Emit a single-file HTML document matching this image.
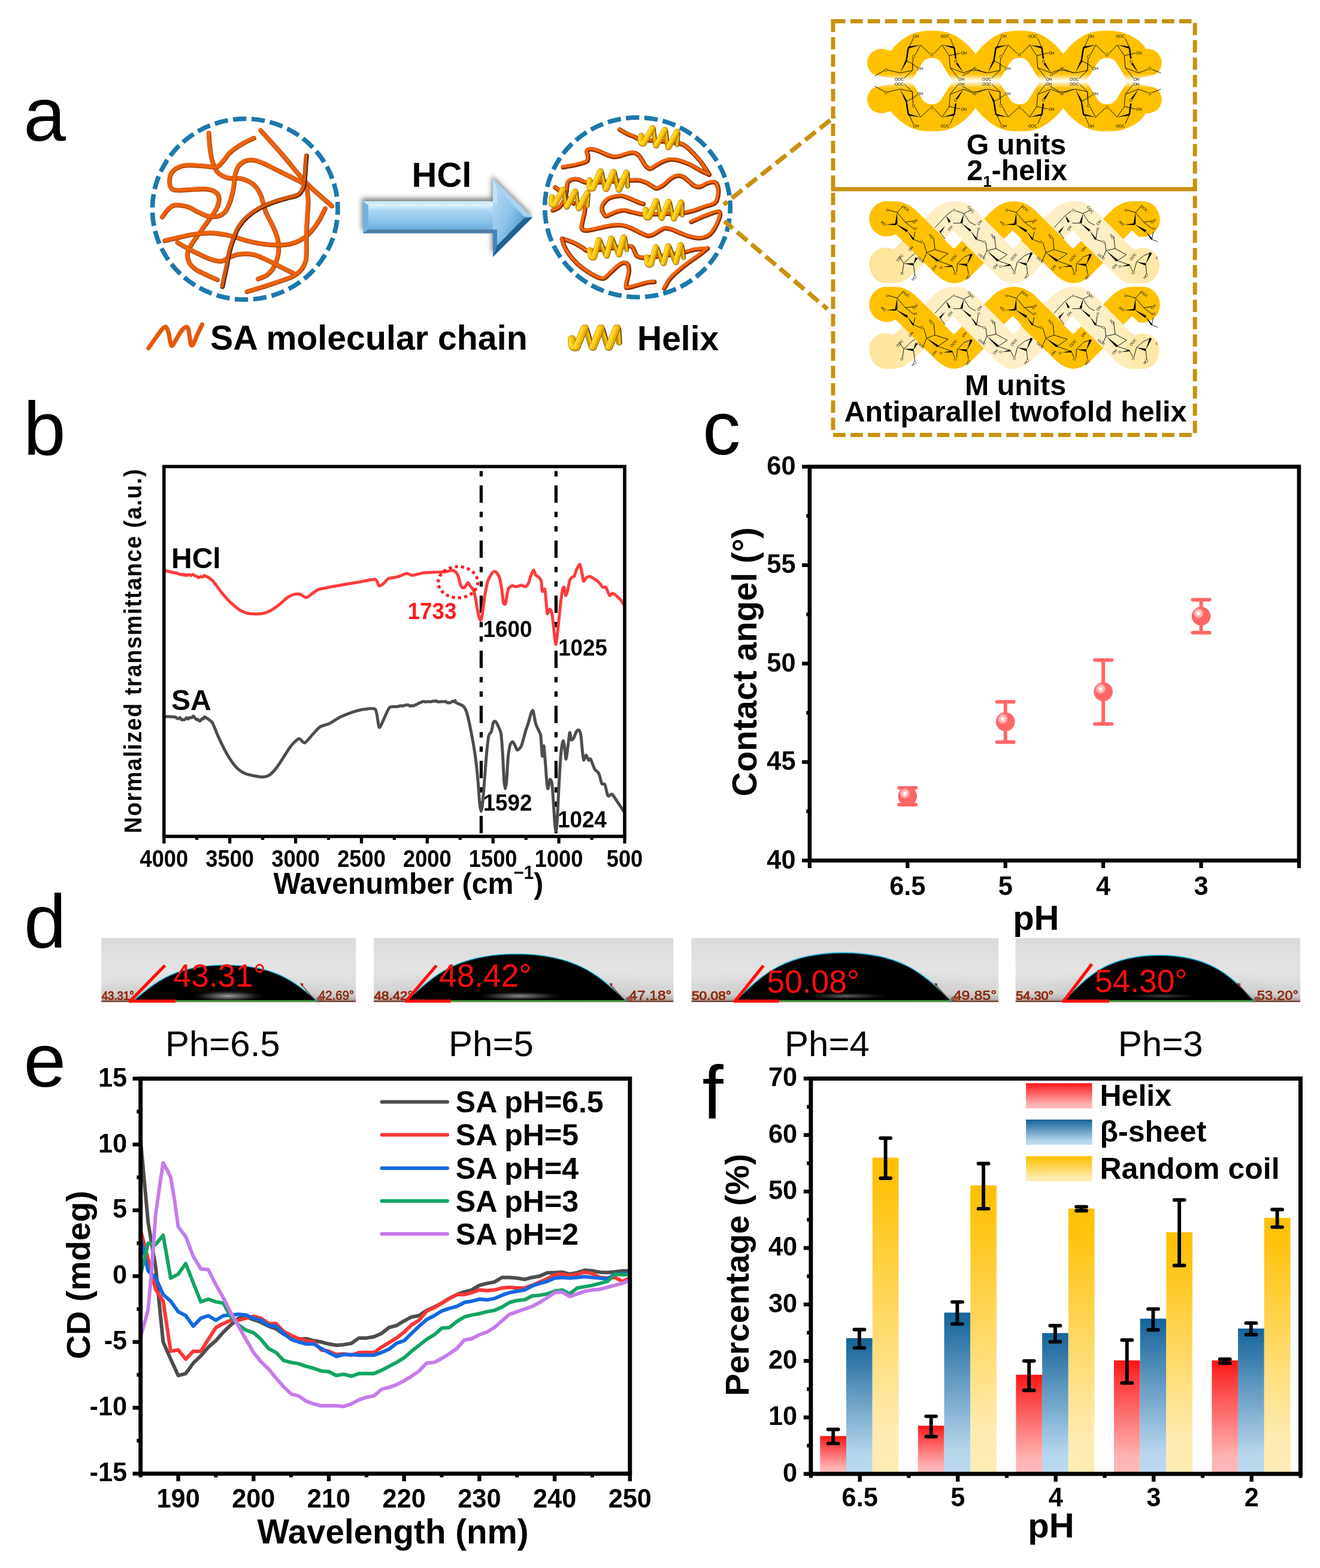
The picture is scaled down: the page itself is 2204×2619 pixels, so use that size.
<!DOCTYPE html>
<html lang="en"><head><meta charset="utf-8"><title>Figure</title>
<style>
html,body{margin:0;padding:0;background:#fff;}
body{width:2204px;height:2619px;overflow:hidden;}
svg{display:block;font-family:"Liberation Sans",sans-serif;}
</style></head><body>
<svg width="2204" height="2619" viewBox="0 0 2204 2619">
<rect width="2204" height="2619" fill="#fff"/>
<g id="panel-a"><text x="39.3" y="235.4" font-size="127" font-weight="normal" text-anchor="start" fill="#000" >a</text><ellipse cx="409.2" cy="349.4" rx="154.8" ry="151" fill="none" stroke="#1C78AC" stroke-width="7.6" stroke-dasharray="22.4 8.6" stroke-dashoffset="-18"/><path d="M348.8,222.3 C349,225.8 349.3,235.7 350.2,243.5 C351.2,251.3 352.1,261.5 354.5,269 C356.8,276.6 359.9,284.2 364.4,288.9 C368.9,293.6 374.8,295.7 381.4,297.4 C388,299 397,296.9 404.1,298.8 C411.2,300.7 418.7,304.2 423.9,308.7 C429.1,313.2 432,318.2 435.3,325.7 C438.6,333.3 440.5,345.6 443.8,354.1 C447.1,362.6 451.8,369.2 455.1,376.8 C458.4,384.3 462,391.9 463.6,399.4 C465.3,407 466,414.6 465,422.1 C464.1,429.7 461,438.6 457.9,444.8 C454.9,450.9 451.1,455.4 446.6,459 C442.1,462.5 433.6,464.9 431,466" fill="none" stroke="#A84408" stroke-width="7.8" stroke-linecap="round" stroke-linejoin="round"/><path d="M348.8,222.3 C349,225.8 349.3,235.7 350.2,243.5 C351.2,251.3 352.1,261.5 354.5,269 C356.8,276.6 359.9,284.2 364.4,288.9 C368.9,293.6 374.8,295.7 381.4,297.4 C388,299 397,296.9 404.1,298.8 C411.2,300.7 418.7,304.2 423.9,308.7 C429.1,313.2 432,318.2 435.3,325.7 C438.6,333.3 440.5,345.6 443.8,354.1 C447.1,362.6 451.8,369.2 455.1,376.8 C458.4,384.3 462,391.9 463.6,399.4 C465.3,407 466,414.6 465,422.1 C464.1,429.7 461,438.6 457.9,444.8 C454.9,450.9 451.1,455.4 446.6,459 C442.1,462.5 433.6,464.9 431,466" fill="none" stroke="#EC620C" stroke-width="6.2" stroke-linecap="round" stroke-linejoin="round" transform="translate(-0.5,-0.6)"/><path d="M423.9,230.8 C420.6,232.4 410.7,236.7 404.1,240.7 C397.5,244.7 389.4,250.2 384.2,254.9 C379,259.6 376.7,265 372.9,269 C369.1,273.1 366.8,277.6 361.6,279 C356.4,280.4 349.8,278 341.7,277.6 C333.7,277.1 320.9,275.7 313.4,276.1 C305.8,276.6 301.1,277.8 296.4,280.4 C291.6,283 287.2,287 285,291.7 C282.9,296.4 282.7,304.5 283.6,308.7 C284.6,313 285.7,315.8 290.7,317.2 C295.7,318.7 304.9,317.5 313.4,317.2 C321.9,317 334.2,315.3 341.7,315.8 C349.3,316.3 354.7,317.5 358.7,320.1 C362.7,322.7 365.3,326.7 365.8,331.4 C366.3,336.1 364.2,342.7 361.6,348.4 C359,354.1 354.5,359.3 350.2,365.4 C346,371.6 340.8,378.6 336.1,385.3 C331.3,391.9 325.7,399 321.9,405.1 C318.1,411.2 314.3,416.4 313.4,422.1 C312.4,427.8 313.9,434.4 316.2,439.1 C318.6,443.8 322.4,446.9 327.6,450.5 C332.7,454 341.5,457.5 347.4,460.4 C353.3,463.2 360.4,466.3 363,467.5" fill="none" stroke="#A84408" stroke-width="7.8" stroke-linecap="round" stroke-linejoin="round"/><path d="M423.9,230.8 C420.6,232.4 410.7,236.7 404.1,240.7 C397.5,244.7 389.4,250.2 384.2,254.9 C379,259.6 376.7,265 372.9,269 C369.1,273.1 366.8,277.6 361.6,279 C356.4,280.4 349.8,278 341.7,277.6 C333.7,277.1 320.9,275.7 313.4,276.1 C305.8,276.6 301.1,277.8 296.4,280.4 C291.6,283 287.2,287 285,291.7 C282.9,296.4 282.7,304.5 283.6,308.7 C284.6,313 285.7,315.8 290.7,317.2 C295.7,318.7 304.9,317.5 313.4,317.2 C321.9,317 334.2,315.3 341.7,315.8 C349.3,316.3 354.7,317.5 358.7,320.1 C362.7,322.7 365.3,326.7 365.8,331.4 C366.3,336.1 364.2,342.7 361.6,348.4 C359,354.1 354.5,359.3 350.2,365.4 C346,371.6 340.8,378.6 336.1,385.3 C331.3,391.9 325.7,399 321.9,405.1 C318.1,411.2 314.3,416.4 313.4,422.1 C312.4,427.8 313.9,434.4 316.2,439.1 C318.6,443.8 322.4,446.9 327.6,450.5 C332.7,454 341.5,457.5 347.4,460.4 C353.3,463.2 360.4,466.3 363,467.5" fill="none" stroke="#EC620C" stroke-width="6.2" stroke-linecap="round" stroke-linejoin="round" transform="translate(-0.5,-0.6)"/><path d="M435.3,218 C441.4,224.9 459.6,244.7 472.1,259.1 C484.6,273.5 496.7,290.3 510.4,304.5 C524.1,318.7 547,337.5 554.3,344.2" fill="none" stroke="#A84408" stroke-width="7.8" stroke-linecap="round" stroke-linejoin="round"/><path d="M435.3,218 C441.4,224.9 459.6,244.7 472.1,259.1 C484.6,273.5 496.7,290.3 510.4,304.5 C524.1,318.7 547,337.5 554.3,344.2" fill="none" stroke="#EC620C" stroke-width="6.2" stroke-linecap="round" stroke-linejoin="round" transform="translate(-0.5,-0.6)"/><path d="M543,348.4 C541.6,351.2 537.8,359.8 534.5,365.4 C531.2,371.1 527.4,377.2 523.1,382.4 C518.9,387.6 514.6,392.6 509,396.6 C503.3,400.6 495.7,404.4 489.1,406.5 C482.5,408.6 477.3,409.1 469.3,409.4 C461.2,409.6 450.4,409.1 440.9,407.9 C431.5,406.8 422,404.6 412.6,402.3 C403.1,399.9 393.7,395.9 384.2,393.8 C374.8,391.6 365.3,390 355.9,389.5 C346.4,389 337,389.7 327.6,390.9 C318.1,392.1 307.9,394.7 299.2,396.6 C290.5,398.5 279.1,401.3 275.1,402.3" fill="none" stroke="#A84408" stroke-width="7.8" stroke-linecap="round" stroke-linejoin="round"/><path d="M543,348.4 C541.6,351.2 537.8,359.8 534.5,365.4 C531.2,371.1 527.4,377.2 523.1,382.4 C518.9,387.6 514.6,392.6 509,396.6 C503.3,400.6 495.7,404.4 489.1,406.5 C482.5,408.6 477.3,409.1 469.3,409.4 C461.2,409.6 450.4,409.1 440.9,407.9 C431.5,406.8 422,404.6 412.6,402.3 C403.1,399.9 393.7,395.9 384.2,393.8 C374.8,391.6 365.3,390 355.9,389.5 C346.4,389 337,389.7 327.6,390.9 C318.1,392.1 307.9,394.7 299.2,396.6 C290.5,398.5 279.1,401.3 275.1,402.3" fill="none" stroke="#EC620C" stroke-width="6.2" stroke-linecap="round" stroke-linejoin="round" transform="translate(-0.5,-0.6)"/><path d="M296.4,405.1 C299.2,406.8 307.2,411.7 313.4,415 C319.5,418.3 326.6,421.9 333.2,424.9 C339.8,428 346.9,431.6 353.1,433.4 C359.2,435.3 365.3,436.8 370.1,436.3 C374.8,435.8 376.7,432.5 381.4,430.6 C386.1,428.7 391.8,425.9 398.4,424.9 C405,424 414,423.8 421.1,424.9 C428.2,426.1 434.3,429.2 440.9,432 C447.5,434.9 454.6,438.9 460.8,442 C466.9,445 472.6,447.9 477.8,450.5 C483,453.1 489.6,456.4 492,457.5" fill="none" stroke="#A84408" stroke-width="7.8" stroke-linecap="round" stroke-linejoin="round"/><path d="M296.4,405.1 C299.2,406.8 307.2,411.7 313.4,415 C319.5,418.3 326.6,421.9 333.2,424.9 C339.8,428 346.9,431.6 353.1,433.4 C359.2,435.3 365.3,436.8 370.1,436.3 C374.8,435.8 376.7,432.5 381.4,430.6 C386.1,428.7 391.8,425.9 398.4,424.9 C405,424 414,423.8 421.1,424.9 C428.2,426.1 434.3,429.2 440.9,432 C447.5,434.9 454.6,438.9 460.8,442 C466.9,445 472.6,447.9 477.8,450.5 C483,453.1 489.6,456.4 492,457.5" fill="none" stroke="#EC620C" stroke-width="6.2" stroke-linecap="round" stroke-linejoin="round" transform="translate(-0.5,-0.6)"/><path d="M511.8,311.6 C512.3,315.3 514.4,325.7 514.6,334.2 C514.9,342.7 513.7,353.1 513.2,362.6 C512.7,372 512,381.5 511.8,390.9 C511.6,400.4 512,411.7 511.8,419.3 C511.6,426.8 511.8,431.1 510.4,436.3 C509,441.5 506.8,446.2 503.3,450.5 C499.7,454.7 495.3,458.5 489.1,461.8 C483,465.1 474.5,467.5 466.4,470.3 C458.4,473.1 449.9,476 440.9,478.8 C432,481.6 417.3,485.9 412.6,487.3" fill="none" stroke="#A84408" stroke-width="7.8" stroke-linecap="round" stroke-linejoin="round"/><path d="M511.8,311.6 C512.3,315.3 514.4,325.7 514.6,334.2 C514.9,342.7 513.7,353.1 513.2,362.6 C512.7,372 512,381.5 511.8,390.9 C511.6,400.4 512,411.7 511.8,419.3 C511.6,426.8 511.8,431.1 510.4,436.3 C509,441.5 506.8,446.2 503.3,450.5 C499.7,454.7 495.3,458.5 489.1,461.8 C483,465.1 474.5,467.5 466.4,470.3 C458.4,473.1 449.9,476 440.9,478.8 C432,481.6 417.3,485.9 412.6,487.3" fill="none" stroke="#EC620C" stroke-width="6.2" stroke-linecap="round" stroke-linejoin="round" transform="translate(-0.5,-0.6)"/><path d="M270.9,362.6 C272.8,360.2 278.4,351.7 282.2,348.4 C286,345.1 288.3,343.2 293.5,342.7 C298.7,342.3 307.2,343.7 313.4,345.6 C319.5,347.5 324.7,351.5 330.4,354.1 C336.1,356.7 341.7,360 347.4,361.2 C353.1,362.3 359.7,362.3 364.4,361.2 C369.1,360 372.4,358.1 375.7,354.1 C379,350.1 381.9,343.7 384.2,337.1 C386.6,330.5 388.5,322 389.9,314.4 C391.3,306.8 391.3,297.9 392.7,291.7 C394.2,285.6 395.6,281.3 398.4,277.6 C401.2,273.8 405.5,270.7 409.8,269 C414,267.4 418.7,266.9 423.9,267.6 C429.1,268.3 434.8,270.7 440.9,273.3 C447.1,275.9 453.7,279.7 460.8,283.2 C467.9,286.8 476.8,291.3 483.4,294.6 C490.1,297.9 496,300.7 500.5,303.1 C504.9,305.4 508.7,307.8 510.4,308.7" fill="none" stroke="#A84408" stroke-width="7.8" stroke-linecap="round" stroke-linejoin="round"/><path d="M270.9,362.6 C272.8,360.2 278.4,351.7 282.2,348.4 C286,345.1 288.3,343.2 293.5,342.7 C298.7,342.3 307.2,343.7 313.4,345.6 C319.5,347.5 324.7,351.5 330.4,354.1 C336.1,356.7 341.7,360 347.4,361.2 C353.1,362.3 359.7,362.3 364.4,361.2 C369.1,360 372.4,358.1 375.7,354.1 C379,350.1 381.9,343.7 384.2,337.1 C386.6,330.5 388.5,322 389.9,314.4 C391.3,306.8 391.3,297.9 392.7,291.7 C394.2,285.6 395.6,281.3 398.4,277.6 C401.2,273.8 405.5,270.7 409.8,269 C414,267.4 418.7,266.9 423.9,267.6 C429.1,268.3 434.8,270.7 440.9,273.3 C447.1,275.9 453.7,279.7 460.8,283.2 C467.9,286.8 476.8,291.3 483.4,294.6 C490.1,297.9 496,300.7 500.5,303.1 C504.9,305.4 508.7,307.8 510.4,308.7" fill="none" stroke="#EC620C" stroke-width="6.2" stroke-linecap="round" stroke-linejoin="round" transform="translate(-0.5,-0.6)"/><path d="M511.8,260.5 C511.6,263.4 510.8,271.4 510.4,277.6 C509.9,283.7 509.7,291.3 509,297.4 C508.2,303.5 508,309.7 506.1,314.4 C504.2,319.1 502.3,322.9 497.6,325.7 C492.9,328.6 484.9,329.3 477.8,331.4 C470.7,333.5 462.7,335.7 455.1,338.5 C447.5,341.3 439.5,344.4 432.4,348.4 C425.3,352.4 418.3,357.4 412.6,362.6 C406.9,367.8 402.2,373.5 398.4,379.6 C394.6,385.7 392.5,392.3 389.9,399.4 C387.3,406.5 384.7,414.6 382.8,422.1 C380.9,429.7 380,437.7 378.6,444.8 C377.2,451.9 375.5,459 374.3,464.6 C373.1,470.3 372,476.4 371.5,478.8" fill="none" stroke="#4E1C02" stroke-width="7.8" stroke-linecap="round" stroke-linejoin="round"/><path d="M511.8,260.5 C511.6,263.4 510.8,271.4 510.4,277.6 C509.9,283.7 509.7,291.3 509,297.4 C508.2,303.5 508,309.7 506.1,314.4 C504.2,319.1 502.3,322.9 497.6,325.7 C492.9,328.6 484.9,329.3 477.8,331.4 C470.7,333.5 462.7,335.7 455.1,338.5 C447.5,341.3 439.5,344.4 432.4,348.4 C425.3,352.4 418.3,357.4 412.6,362.6 C406.9,367.8 402.2,373.5 398.4,379.6 C394.6,385.7 392.5,392.3 389.9,399.4 C387.3,406.5 384.7,414.6 382.8,422.1 C380.9,429.7 380,437.7 378.6,444.8 C377.2,451.9 375.5,459 374.3,464.6 C373.1,470.3 372,476.4 371.5,478.8" fill="none" stroke="#DA5A0A" stroke-width="5.6" stroke-linecap="round" stroke-linejoin="round" transform="translate(-0.8,-0.6)"/><defs>
<linearGradient id="ag" x1="0" y1="0" x2="0" y2="1"><stop offset="0" stop-color="#BFE3FA"/><stop offset="0.12" stop-color="#DDF1FD"/><stop offset="0.3" stop-color="#A9D6F5"/><stop offset="0.75" stop-color="#7DBBE6"/><stop offset="1" stop-color="#5D9FD0"/></linearGradient>
<linearGradient id="ah" x1="0" y1="0.1" x2="0.9" y2="0.9"><stop offset="0" stop-color="#B9DDF6"/><stop offset="0.45" stop-color="#8CC4EA"/><stop offset="0.8" stop-color="#4E98CF"/><stop offset="1" stop-color="#2F7FB8"/></linearGradient>
<filter id="sh" x="-10%" y="-30%" width="120%" height="160%"><feGaussianBlur stdDeviation="4"/></filter>
</defs><path d="M606,336 L823,336 L823,298 L889,363 L823,429 L823,389.5 L606,389.5 Z" fill="#000" opacity="0.5" filter="url(#sh)" transform="translate(-2,-5)"/><path d="M606,336 L824,336 L824,389.5 L606,389.5 Z" fill="url(#ag)"/><path d="M823,298 L889,363 L823,429 Z" fill="url(#ah)"/><path d="M606,336 L615,343 L615,383.5 L606,389.5Z" fill="#74B2DE"/><path d="M606,389.5 L615,383.5 L823,383.5 L823,389.5Z" fill="#4F7FA6"/><path d="M823,389.5 L823,429 L830,410 L830,383.5 L823,383.5Z" fill="#3E86BC"/><path d="M823,429 L830,410 L875,364.5 L889,363Z" fill="#1F5F92"/><path d="M823,298 L830,316 L875,361.5 L889,363Z" fill="#A9D3F0"/><path d="M823,298 L830,316 L830,343 L823,336Z" fill="#C2E0F6"/><text x="737.5" y="311.7" font-size="58" font-weight="bold" text-anchor="middle" fill="#000" >HCl</text><ellipse cx="1064.4" cy="346.3" rx="154.8" ry="150" fill="none" stroke="#1C78AC" stroke-width="7.6" stroke-dasharray="22.4 8.5" stroke-dashoffset="-18.8"/><path d="M1034.9,216.6 C1036.8,217.7 1042.3,221.3 1046.5,223.4 C1050.7,225.5 1056.1,227.5 1060,229.1 C1063.8,230.8 1062.5,231.9 1069.6,233 C1076.7,234.1 1091.5,234.8 1102.4,235.9 C1113.3,237 1127.4,237.8 1135.1,239.8 C1142.9,241.7 1144.5,244.2 1148.6,247.5 C1152.8,250.7 1156.3,254.8 1160.2,259 C1164.1,263.2 1168.6,268.3 1171.8,272.5 C1175,276.7 1177.4,280.9 1179.5,284.1 C1181.6,287.3 1183.5,290.5 1184.3,291.8" fill="none" stroke="#8C3300" stroke-width="7.6" stroke-linecap="round" stroke-linejoin="round"/><path d="M1034.9,216.6 C1036.8,217.7 1042.3,221.3 1046.5,223.4 C1050.7,225.5 1056.1,227.5 1060,229.1 C1063.8,230.8 1062.5,231.9 1069.6,233 C1076.7,234.1 1091.5,234.8 1102.4,235.9 C1113.3,237 1127.4,237.8 1135.1,239.8 C1142.9,241.7 1144.5,244.2 1148.6,247.5 C1152.8,250.7 1156.3,254.8 1160.2,259 C1164.1,263.2 1168.6,268.3 1171.8,272.5 C1175,276.7 1177.4,280.9 1179.5,284.1 C1181.6,287.3 1183.5,290.5 1184.3,291.8" fill="none" stroke="#F7650A" stroke-width="4.6" stroke-linecap="round" stroke-linejoin="round" transform="translate(-0.9,-1.1)"/><path d="M1184.3,291.8 C1181.9,290.7 1175.5,287.9 1169.8,285 C1164.2,282.2 1157,277.3 1150.6,274.4 C1144.1,271.6 1136.8,269 1131.3,267.7 C1125.8,266.4 1122.3,266.1 1117.8,266.7 C1113.3,267.4 1108.5,269.6 1104.3,271.6 C1100.1,273.5 1096,276.5 1092.7,278.3 C1089.5,280.1 1087.6,282.5 1085,282.2 C1082.5,281.8 1079.6,278.9 1077.3,276.4 C1075.1,273.8 1073.5,269.6 1071.5,266.7 C1069.6,263.8 1068,261 1065.8,259 C1063.5,257.1 1061.3,255.5 1058,255.2 C1054.8,254.8 1050.3,256.1 1046.5,257.1 C1042.6,258.1 1038.8,260.1 1034.9,261 C1031.1,261.8 1027.5,262.6 1023.4,261.9 C1019.2,261.3 1014.4,258.9 1009.9,257.1 C1005.4,255.3 1000.5,252.6 996.4,251.3 C992.2,250 987.5,249.1 984.8,249.4 C982.1,249.7 980.5,251.3 980,253.2 C979.5,255.2 981.8,258.4 981.9,261 C982.1,263.5 982.4,266.7 981,268.7 C979.5,270.6 977.1,271.2 973.2,272.5 C969.4,273.8 963.3,275.2 957.8,276.4 C952.4,277.5 943.4,278.8 940.5,279.3" fill="none" stroke="#8C3300" stroke-width="7.6" stroke-linecap="round" stroke-linejoin="round"/><path d="M1184.3,291.8 C1181.9,290.7 1175.5,287.9 1169.8,285 C1164.2,282.2 1157,277.3 1150.6,274.4 C1144.1,271.6 1136.8,269 1131.3,267.7 C1125.8,266.4 1122.3,266.1 1117.8,266.7 C1113.3,267.4 1108.5,269.6 1104.3,271.6 C1100.1,273.5 1096,276.5 1092.7,278.3 C1089.5,280.1 1087.6,282.5 1085,282.2 C1082.5,281.8 1079.6,278.9 1077.3,276.4 C1075.1,273.8 1073.5,269.6 1071.5,266.7 C1069.6,263.8 1068,261 1065.8,259 C1063.5,257.1 1061.3,255.5 1058,255.2 C1054.8,254.8 1050.3,256.1 1046.5,257.1 C1042.6,258.1 1038.8,260.1 1034.9,261 C1031.1,261.8 1027.5,262.6 1023.4,261.9 C1019.2,261.3 1014.4,258.9 1009.9,257.1 C1005.4,255.3 1000.5,252.6 996.4,251.3 C992.2,250 987.5,249.1 984.8,249.4 C982.1,249.7 980.5,251.3 980,253.2 C979.5,255.2 981.8,258.4 981.9,261 C982.1,263.5 982.4,266.7 981,268.7 C979.5,270.6 977.1,271.2 973.2,272.5 C969.4,273.8 963.3,275.2 957.8,276.4 C952.4,277.5 943.4,278.8 940.5,279.3" fill="none" stroke="#F7650A" stroke-width="4.6" stroke-linecap="round" stroke-linejoin="round" transform="translate(-0.9,-1.1)"/><path d="M927,313 C928.6,314.3 933.1,317.5 936.6,320.7 C940.2,323.9 944.7,329.1 948.2,332.3 C951.7,335.5 956.2,338.7 957.8,340" fill="none" stroke="#8C3300" stroke-width="7.6" stroke-linecap="round" stroke-linejoin="round"/><path d="M927,313 C928.6,314.3 933.1,317.5 936.6,320.7 C940.2,323.9 944.7,329.1 948.2,332.3 C951.7,335.5 956.2,338.7 957.8,340" fill="none" stroke="#F7650A" stroke-width="4.6" stroke-linecap="round" stroke-linejoin="round" transform="translate(-0.9,-1.1)"/><path d="M923.1,351.5 C925.1,350.6 931.2,349.6 934.7,345.8 C938.2,341.9 942.1,335.2 944.3,328.4 C946.6,321.7 945.9,310.1 948.2,305.3 C950.4,300.5 954.6,300.3 957.8,299.5 C961,298.7 963.6,299.5 967.5,300.5 C971.3,301.4 972.9,304.8 981,305.3 C989,305.8 1003.4,304 1015.6,303.4 C1027.9,302.7 1045.5,301.7 1054.2,301.4 C1062.9,301.1 1063.5,300.8 1067.7,301.4 C1071.9,302.1 1075.7,303.7 1079.3,305.3 C1082.8,306.9 1086,309.5 1088.9,311.1 C1091.8,312.7 1093.4,315.2 1096.6,314.9 C1099.8,314.6 1104,312 1108.2,309.1 C1112.3,306.2 1117.8,300.1 1121.7,297.6 C1125.5,295 1128.1,294 1131.3,293.7 C1134.5,293.4 1137.7,294 1140.9,295.6 C1144.1,297.3 1147.4,300.8 1150.6,303.4 C1153.8,305.9 1157,309.6 1160.2,311.1 C1163.4,312.5 1166.3,312.8 1169.8,312 C1173.4,311.2 1177.9,307.5 1181.4,306.2 C1184.9,305 1188.5,304.2 1191,304.3 C1193.6,304.5 1195.4,304.8 1196.8,307.2 C1198.3,309.6 1199.6,314.6 1199.7,318.8 C1199.9,323 1198.9,328.7 1197.8,332.3 C1196.7,335.8 1196.7,337.7 1193,340 C1189.3,342.2 1181.1,343.8 1175.6,345.8 C1170.2,347.7 1165.7,349.9 1160.2,351.5 C1154.7,353.1 1150.9,354.4 1142.9,355.4 C1134.8,356.4 1123.4,356.8 1112,357.3 C1100.6,357.8 1082.5,358.4 1074.4,358.3 C1066.4,358.1 1067.2,357 1063.8,356.4 C1060.5,355.7 1057.7,355.2 1054.2,354.4 C1050.7,353.6 1046.5,351.7 1042.6,351.5 C1038.8,351.4 1034.9,352.3 1031.1,353.5 C1027.2,354.6 1022.7,357 1019.5,358.3 C1016.3,359.6 1013.9,361.7 1011.8,361.2 C1009.7,360.7 1008.1,357.6 1007,355.4 C1005.8,353.1 1004.9,350.3 1005,347.7 C1005.2,345.1 1006.2,342.5 1007.9,340 C1009.7,337.4 1012.4,334.2 1015.6,332.3 C1018.9,330.3 1023.4,329.2 1027.2,328.4 C1031.1,327.6 1034.9,327 1038.8,327.4 C1042.6,327.9 1046.2,329.7 1050.3,331.3 C1054.5,332.9 1059.8,335.5 1063.8,337.1 C1067.8,338.7 1072.7,340.3 1074.4,340.9" fill="none" stroke="#8C3300" stroke-width="7.6" stroke-linecap="round" stroke-linejoin="round"/><path d="M923.1,351.5 C925.1,350.6 931.2,349.6 934.7,345.8 C938.2,341.9 942.1,335.2 944.3,328.4 C946.6,321.7 945.9,310.1 948.2,305.3 C950.4,300.5 954.6,300.3 957.8,299.5 C961,298.7 963.6,299.5 967.5,300.5 C971.3,301.4 972.9,304.8 981,305.3 C989,305.8 1003.4,304 1015.6,303.4 C1027.9,302.7 1045.5,301.7 1054.2,301.4 C1062.9,301.1 1063.5,300.8 1067.7,301.4 C1071.9,302.1 1075.7,303.7 1079.3,305.3 C1082.8,306.9 1086,309.5 1088.9,311.1 C1091.8,312.7 1093.4,315.2 1096.6,314.9 C1099.8,314.6 1104,312 1108.2,309.1 C1112.3,306.2 1117.8,300.1 1121.7,297.6 C1125.5,295 1128.1,294 1131.3,293.7 C1134.5,293.4 1137.7,294 1140.9,295.6 C1144.1,297.3 1147.4,300.8 1150.6,303.4 C1153.8,305.9 1157,309.6 1160.2,311.1 C1163.4,312.5 1166.3,312.8 1169.8,312 C1173.4,311.2 1177.9,307.5 1181.4,306.2 C1184.9,305 1188.5,304.2 1191,304.3 C1193.6,304.5 1195.4,304.8 1196.8,307.2 C1198.3,309.6 1199.6,314.6 1199.7,318.8 C1199.9,323 1198.9,328.7 1197.8,332.3 C1196.7,335.8 1196.7,337.7 1193,340 C1189.3,342.2 1181.1,343.8 1175.6,345.8 C1170.2,347.7 1165.7,349.9 1160.2,351.5 C1154.7,353.1 1150.9,354.4 1142.9,355.4 C1134.8,356.4 1123.4,356.8 1112,357.3 C1100.6,357.8 1082.5,358.4 1074.4,358.3 C1066.4,358.1 1067.2,357 1063.8,356.4 C1060.5,355.7 1057.7,355.2 1054.2,354.4 C1050.7,353.6 1046.5,351.7 1042.6,351.5 C1038.8,351.4 1034.9,352.3 1031.1,353.5 C1027.2,354.6 1022.7,357 1019.5,358.3 C1016.3,359.6 1013.9,361.7 1011.8,361.2 C1009.7,360.7 1008.1,357.6 1007,355.4 C1005.8,353.1 1004.9,350.3 1005,347.7 C1005.2,345.1 1006.2,342.5 1007.9,340 C1009.7,337.4 1012.4,334.2 1015.6,332.3 C1018.9,330.3 1023.4,329.2 1027.2,328.4 C1031.1,327.6 1034.9,327 1038.8,327.4 C1042.6,327.9 1046.2,329.7 1050.3,331.3 C1054.5,332.9 1059.8,335.5 1063.8,337.1 C1067.8,338.7 1072.7,340.3 1074.4,340.9" fill="none" stroke="#F7650A" stroke-width="4.6" stroke-linecap="round" stroke-linejoin="round" transform="translate(-0.9,-1.1)"/><path d="M977.1,345.8 C976.9,347.4 976.8,351.6 976.1,355.4 C975.5,359.3 974,364.7 973.2,368.9 C972.4,373.1 970.7,377.7 971.3,380.5 C972,383.2 973.9,384.8 977.1,385.3 C980.3,385.8 985.4,384.3 990.6,383.4 C995.7,382.4 1002.5,380.6 1007.9,379.5 C1013.4,378.4 1018.2,377.1 1023.4,376.6 C1028.5,376.1 1033.6,375.8 1038.8,376.6 C1043.9,377.4 1049.4,379.5 1054.2,381.4 C1059,383.4 1063.2,386.1 1067.7,388.2 C1072.2,390.3 1077.3,393.3 1081.2,394 C1085,394.6 1087.6,393.3 1090.8,392 C1094,390.8 1097.2,388 1100.5,386.3 C1103.7,384.5 1106.6,381.9 1110.1,381.4 C1113.6,381 1117.5,382.1 1121.7,383.4 C1125.8,384.7 1130.3,387.2 1135.1,389.1 C1140,391.1 1145.7,393.5 1150.6,394.9 C1155.4,396.4 1159.9,397.5 1164.1,397.8 C1168.2,398.1 1172.1,397.8 1175.6,396.9 C1179.2,395.9 1182.4,394.5 1185.3,392 C1188.2,389.6 1190.7,385.9 1193,382.4 C1195.2,378.9 1197.1,374.7 1198.8,370.8 C1200.4,367 1202.4,362.2 1202.6,359.3 C1202.8,356.4 1202,354 1199.7,353.5 C1197.5,353 1193.5,354.9 1189.1,356.4 C1184.8,357.8 1179.5,359.8 1173.7,362.2 C1167.9,364.6 1157.6,369.4 1154.4,370.8" fill="none" stroke="#8C3300" stroke-width="7.6" stroke-linecap="round" stroke-linejoin="round"/><path d="M977.1,345.8 C976.9,347.4 976.8,351.6 976.1,355.4 C975.5,359.3 974,364.7 973.2,368.9 C972.4,373.1 970.7,377.7 971.3,380.5 C972,383.2 973.9,384.8 977.1,385.3 C980.3,385.8 985.4,384.3 990.6,383.4 C995.7,382.4 1002.5,380.6 1007.9,379.5 C1013.4,378.4 1018.2,377.1 1023.4,376.6 C1028.5,376.1 1033.6,375.8 1038.8,376.6 C1043.9,377.4 1049.4,379.5 1054.2,381.4 C1059,383.4 1063.2,386.1 1067.7,388.2 C1072.2,390.3 1077.3,393.3 1081.2,394 C1085,394.6 1087.6,393.3 1090.8,392 C1094,390.8 1097.2,388 1100.5,386.3 C1103.7,384.5 1106.6,381.9 1110.1,381.4 C1113.6,381 1117.5,382.1 1121.7,383.4 C1125.8,384.7 1130.3,387.2 1135.1,389.1 C1140,391.1 1145.7,393.5 1150.6,394.9 C1155.4,396.4 1159.9,397.5 1164.1,397.8 C1168.2,398.1 1172.1,397.8 1175.6,396.9 C1179.2,395.9 1182.4,394.5 1185.3,392 C1188.2,389.6 1190.7,385.9 1193,382.4 C1195.2,378.9 1197.1,374.7 1198.8,370.8 C1200.4,367 1202.4,362.2 1202.6,359.3 C1202.8,356.4 1202,354 1199.7,353.5 C1197.5,353 1193.5,354.9 1189.1,356.4 C1184.8,357.8 1179.5,359.8 1173.7,362.2 C1167.9,364.6 1157.6,369.4 1154.4,370.8" fill="none" stroke="#F7650A" stroke-width="4.6" stroke-linecap="round" stroke-linejoin="round" transform="translate(-0.9,-1.1)"/><path d="M938.5,398.8 C941.8,399.9 952,403 957.8,405.5 C963.6,408.1 969.1,412 973.2,414.2 C977.4,416.5 975.8,418.9 982.9,419 C989.9,419.2 1004.7,416.5 1015.6,415.2 C1026.6,413.9 1041.7,411.6 1048.4,411.3 C1055.2,411 1054.2,411.6 1056.1,413.2 C1058,414.8 1058.7,418.5 1060,421 C1061.3,423.4 1061.3,426.1 1063.8,427.7 C1066.4,429.3 1067.4,430.8 1075.4,430.6 C1083.4,430.4 1100.5,428.3 1112,426.7 C1123.6,425.1 1136.8,422.6 1144.8,421 C1152.8,419.3 1154.1,418.1 1160.2,417.1 C1166.3,416.1 1177.9,415.5 1181.4,415.2" fill="none" stroke="#8C3300" stroke-width="7.6" stroke-linecap="round" stroke-linejoin="round"/><path d="M938.5,398.8 C941.8,399.9 952,403 957.8,405.5 C963.6,408.1 969.1,412 973.2,414.2 C977.4,416.5 975.8,418.9 982.9,419 C989.9,419.2 1004.7,416.5 1015.6,415.2 C1026.6,413.9 1041.7,411.6 1048.4,411.3 C1055.2,411 1054.2,411.6 1056.1,413.2 C1058,414.8 1058.7,418.5 1060,421 C1061.3,423.4 1061.3,426.1 1063.8,427.7 C1066.4,429.3 1067.4,430.8 1075.4,430.6 C1083.4,430.4 1100.5,428.3 1112,426.7 C1123.6,425.1 1136.8,422.6 1144.8,421 C1152.8,419.3 1154.1,418.1 1160.2,417.1 C1166.3,416.1 1177.9,415.5 1181.4,415.2" fill="none" stroke="#F7650A" stroke-width="4.6" stroke-linecap="round" stroke-linejoin="round" transform="translate(-0.9,-1.1)"/><path d="M1181.4,415.2 C1179.5,416.8 1175,421 1169.8,424.8 C1164.7,428.7 1157,433.5 1150.6,438.3 C1144.1,443.1 1136.8,448.9 1131.3,453.7 C1125.8,458.5 1121.2,463 1117.8,467.2 C1114.4,471.4 1112.5,476.4 1111.1,478.8 C1109.6,481.2 1109.4,481.2 1109.1,481.7" fill="none" stroke="#8C3300" stroke-width="7.6" stroke-linecap="round" stroke-linejoin="round"/><path d="M1181.4,415.2 C1179.5,416.8 1175,421 1169.8,424.8 C1164.7,428.7 1157,433.5 1150.6,438.3 C1144.1,443.1 1136.8,448.9 1131.3,453.7 C1125.8,458.5 1121.2,463 1117.8,467.2 C1114.4,471.4 1112.5,476.4 1111.1,478.8 C1109.6,481.2 1109.4,481.2 1109.1,481.7" fill="none" stroke="#F7650A" stroke-width="4.6" stroke-linecap="round" stroke-linejoin="round" transform="translate(-0.9,-1.1)"/><path d="M938.5,398.8 C939.2,400.9 940.5,407 942.4,411.3 C944.3,415.7 946.6,420 950.1,424.8 C953.6,429.6 958.5,435.4 963.6,440.2 C968.7,445 975.5,450 981,453.7 C986.4,457.4 991.9,460.5 996.4,462.4 C1000.9,464.3 1004.1,466.4 1007.9,465.3 C1011.8,464.2 1015.6,459 1019.5,455.6 C1023.4,452.3 1027.5,447.8 1031.1,445 C1034.6,442.3 1037.8,439.7 1040.7,439.3 C1043.6,438.8 1046.8,439.7 1048.4,442.2 C1050,444.6 1050.5,449.5 1050.3,453.7 C1050.2,457.9 1048.3,463 1047.4,467.2 C1046.6,471.4 1045.4,476.5 1045.5,478.8 C1045.7,481 1045.4,481 1048.4,480.7 C1051.5,480.4 1058.4,478.3 1063.8,476.8 C1069.3,475.4 1076.4,473 1081.2,472 C1086,471.1 1090.8,471.2 1092.7,471.1" fill="none" stroke="#8C3300" stroke-width="7.6" stroke-linecap="round" stroke-linejoin="round"/><path d="M938.5,398.8 C939.2,400.9 940.5,407 942.4,411.3 C944.3,415.7 946.6,420 950.1,424.8 C953.6,429.6 958.5,435.4 963.6,440.2 C968.7,445 975.5,450 981,453.7 C986.4,457.4 991.9,460.5 996.4,462.4 C1000.9,464.3 1004.1,466.4 1007.9,465.3 C1011.8,464.2 1015.6,459 1019.5,455.6 C1023.4,452.3 1027.5,447.8 1031.1,445 C1034.6,442.3 1037.8,439.7 1040.7,439.3 C1043.6,438.8 1046.8,439.7 1048.4,442.2 C1050,444.6 1050.5,449.5 1050.3,453.7 C1050.2,457.9 1048.3,463 1047.4,467.2 C1046.6,471.4 1045.4,476.5 1045.5,478.8 C1045.7,481 1045.4,481 1048.4,480.7 C1051.5,480.4 1058.4,478.3 1063.8,476.8 C1069.3,475.4 1076.4,473 1081.2,472 C1086,471.1 1090.8,471.2 1092.7,471.1" fill="none" stroke="#F7650A" stroke-width="4.6" stroke-linecap="round" stroke-linejoin="round" transform="translate(-0.9,-1.1)"/><g transform="translate(1100.6,229.2) rotate(8.7) scale(1.000,0.938)"><path d="M-11.3,-12.5 L-4.8,13.5" fill="none" stroke="#4A3600" stroke-width="7.6" stroke-linecap="round" stroke-linejoin="round" transform="translate(0,0)"/><path d="M-11.3,-12.5 L-4.8,13.5" fill="none" stroke="#D29A00" stroke-width="6" stroke-linecap="round" stroke-linejoin="round" transform="translate(-0.3,0.7)"/><path d="M-11.3,-12.5 L-4.8,13.5" fill="none" stroke="#F0BB14" stroke-width="2.6" stroke-linecap="round" stroke-linejoin="round" transform="translate(0.7,1)"/><path d="M9.5,-12.5 L16,13.5" fill="none" stroke="#4A3600" stroke-width="7.6" stroke-linecap="round" stroke-linejoin="round" transform="translate(0,0)"/><path d="M9.5,-12.5 L16,13.5" fill="none" stroke="#D29A00" stroke-width="6" stroke-linecap="round" stroke-linejoin="round" transform="translate(-0.3,0.7)"/><path d="M9.5,-12.5 L16,13.5" fill="none" stroke="#F0BB14" stroke-width="2.6" stroke-linecap="round" stroke-linejoin="round" transform="translate(0.7,1)"/><path d="M30.2,-12.5 L31.3,8.5" fill="none" stroke="#4A3600" stroke-width="7.6" stroke-linecap="round" stroke-linejoin="round" transform="translate(0,0)"/><path d="M30.2,-12.5 L31.3,8.5" fill="none" stroke="#D29A00" stroke-width="6" stroke-linecap="round" stroke-linejoin="round" transform="translate(-0.3,0.7)"/><path d="M30.2,-12.5 L31.3,8.5" fill="none" stroke="#F0BB14" stroke-width="2.6" stroke-linecap="round" stroke-linejoin="round" transform="translate(0.7,1)"/><path d="M-30.3,1.5 L-30,10 Q-29.3,17.2 -24.3,15.2 L-13.5,-15" fill="none" stroke="#94690A" stroke-width="10" stroke-linecap="round" stroke-linejoin="round" transform="translate(0.3,0.4)"/><path d="M-30.3,1.5 L-30,10 Q-29.3,17.2 -24.3,15.2 L-13.5,-15" fill="none" stroke="#E7AB00" stroke-width="9" stroke-linecap="round" stroke-linejoin="round" transform="translate(-0.1,-0.1)"/><path d="M-30.3,1.5 L-30,10 Q-29.3,17.2 -24.3,15.2 L-13.5,-15" fill="none" stroke="#FFCB0C" stroke-width="5.6" stroke-linecap="round" stroke-linejoin="round" transform="translate(-1.2,-0.3)"/><path d="M-30.3,1.5 L-30,10 Q-29.3,17.2 -24.3,15.2 L-13.5,-15" fill="none" stroke="#FFE14A" stroke-width="1.8" stroke-linecap="round" stroke-linejoin="round" transform="translate(-2.4,-0.5)"/><path d="M-3.1,15.2 L7.3,-15" fill="none" stroke="#94690A" stroke-width="10" stroke-linecap="round" stroke-linejoin="round" transform="translate(0.3,0.4)"/><path d="M-3.1,15.2 L7.3,-15" fill="none" stroke="#E7AB00" stroke-width="9" stroke-linecap="round" stroke-linejoin="round" transform="translate(-0.1,-0.1)"/><path d="M-3.1,15.2 L7.3,-15" fill="none" stroke="#FFCB0C" stroke-width="5.6" stroke-linecap="round" stroke-linejoin="round" transform="translate(-1.2,-0.3)"/><path d="M-3.1,15.2 L7.3,-15" fill="none" stroke="#FFE14A" stroke-width="1.8" stroke-linecap="round" stroke-linejoin="round" transform="translate(-2.4,-0.5)"/><path d="M17.6,15.2 L28,-15" fill="none" stroke="#94690A" stroke-width="10" stroke-linecap="round" stroke-linejoin="round" transform="translate(0.3,0.4)"/><path d="M17.6,15.2 L28,-15" fill="none" stroke="#E7AB00" stroke-width="9" stroke-linecap="round" stroke-linejoin="round" transform="translate(-0.1,-0.1)"/><path d="M17.6,15.2 L28,-15" fill="none" stroke="#FFCB0C" stroke-width="5.6" stroke-linecap="round" stroke-linejoin="round" transform="translate(-1.2,-0.3)"/><path d="M17.6,15.2 L28,-15" fill="none" stroke="#FFE14A" stroke-width="1.8" stroke-linecap="round" stroke-linejoin="round" transform="translate(-2.4,-0.5)"/></g><g transform="translate(1015.7,301) rotate(3) scale(1.043,0.978)"><path d="M-11.3,-12.5 L-4.8,13.5" fill="none" stroke="#4A3600" stroke-width="7.6" stroke-linecap="round" stroke-linejoin="round" transform="translate(0,0)"/><path d="M-11.3,-12.5 L-4.8,13.5" fill="none" stroke="#D29A00" stroke-width="6" stroke-linecap="round" stroke-linejoin="round" transform="translate(-0.3,0.7)"/><path d="M-11.3,-12.5 L-4.8,13.5" fill="none" stroke="#F0BB14" stroke-width="2.6" stroke-linecap="round" stroke-linejoin="round" transform="translate(0.7,1)"/><path d="M9.5,-12.5 L16,13.5" fill="none" stroke="#4A3600" stroke-width="7.6" stroke-linecap="round" stroke-linejoin="round" transform="translate(0,0)"/><path d="M9.5,-12.5 L16,13.5" fill="none" stroke="#D29A00" stroke-width="6" stroke-linecap="round" stroke-linejoin="round" transform="translate(-0.3,0.7)"/><path d="M9.5,-12.5 L16,13.5" fill="none" stroke="#F0BB14" stroke-width="2.6" stroke-linecap="round" stroke-linejoin="round" transform="translate(0.7,1)"/><path d="M30.2,-12.5 L31.3,8.5" fill="none" stroke="#4A3600" stroke-width="7.6" stroke-linecap="round" stroke-linejoin="round" transform="translate(0,0)"/><path d="M30.2,-12.5 L31.3,8.5" fill="none" stroke="#D29A00" stroke-width="6" stroke-linecap="round" stroke-linejoin="round" transform="translate(-0.3,0.7)"/><path d="M30.2,-12.5 L31.3,8.5" fill="none" stroke="#F0BB14" stroke-width="2.6" stroke-linecap="round" stroke-linejoin="round" transform="translate(0.7,1)"/><path d="M-30.3,1.5 L-30,10 Q-29.3,17.2 -24.3,15.2 L-13.5,-15" fill="none" stroke="#94690A" stroke-width="10" stroke-linecap="round" stroke-linejoin="round" transform="translate(0.3,0.4)"/><path d="M-30.3,1.5 L-30,10 Q-29.3,17.2 -24.3,15.2 L-13.5,-15" fill="none" stroke="#E7AB00" stroke-width="9" stroke-linecap="round" stroke-linejoin="round" transform="translate(-0.1,-0.1)"/><path d="M-30.3,1.5 L-30,10 Q-29.3,17.2 -24.3,15.2 L-13.5,-15" fill="none" stroke="#FFCB0C" stroke-width="5.6" stroke-linecap="round" stroke-linejoin="round" transform="translate(-1.2,-0.3)"/><path d="M-30.3,1.5 L-30,10 Q-29.3,17.2 -24.3,15.2 L-13.5,-15" fill="none" stroke="#FFE14A" stroke-width="1.8" stroke-linecap="round" stroke-linejoin="round" transform="translate(-2.4,-0.5)"/><path d="M-3.1,15.2 L7.3,-15" fill="none" stroke="#94690A" stroke-width="10" stroke-linecap="round" stroke-linejoin="round" transform="translate(0.3,0.4)"/><path d="M-3.1,15.2 L7.3,-15" fill="none" stroke="#E7AB00" stroke-width="9" stroke-linecap="round" stroke-linejoin="round" transform="translate(-0.1,-0.1)"/><path d="M-3.1,15.2 L7.3,-15" fill="none" stroke="#FFCB0C" stroke-width="5.6" stroke-linecap="round" stroke-linejoin="round" transform="translate(-1.2,-0.3)"/><path d="M-3.1,15.2 L7.3,-15" fill="none" stroke="#FFE14A" stroke-width="1.8" stroke-linecap="round" stroke-linejoin="round" transform="translate(-2.4,-0.5)"/><path d="M17.6,15.2 L28,-15" fill="none" stroke="#94690A" stroke-width="10" stroke-linecap="round" stroke-linejoin="round" transform="translate(0.3,0.4)"/><path d="M17.6,15.2 L28,-15" fill="none" stroke="#E7AB00" stroke-width="9" stroke-linecap="round" stroke-linejoin="round" transform="translate(-0.1,-0.1)"/><path d="M17.6,15.2 L28,-15" fill="none" stroke="#FFCB0C" stroke-width="5.6" stroke-linecap="round" stroke-linejoin="round" transform="translate(-1.2,-0.3)"/><path d="M17.6,15.2 L28,-15" fill="none" stroke="#FFE14A" stroke-width="1.8" stroke-linecap="round" stroke-linejoin="round" transform="translate(-2.4,-0.5)"/></g><g transform="translate(951.1,331.7) rotate(8) scale(0.986,0.924)"><path d="M-11.3,-12.5 L-4.8,13.5" fill="none" stroke="#4A3600" stroke-width="7.6" stroke-linecap="round" stroke-linejoin="round" transform="translate(0,0)"/><path d="M-11.3,-12.5 L-4.8,13.5" fill="none" stroke="#D29A00" stroke-width="6" stroke-linecap="round" stroke-linejoin="round" transform="translate(-0.3,0.7)"/><path d="M-11.3,-12.5 L-4.8,13.5" fill="none" stroke="#F0BB14" stroke-width="2.6" stroke-linecap="round" stroke-linejoin="round" transform="translate(0.7,1)"/><path d="M9.5,-12.5 L16,13.5" fill="none" stroke="#4A3600" stroke-width="7.6" stroke-linecap="round" stroke-linejoin="round" transform="translate(0,0)"/><path d="M9.5,-12.5 L16,13.5" fill="none" stroke="#D29A00" stroke-width="6" stroke-linecap="round" stroke-linejoin="round" transform="translate(-0.3,0.7)"/><path d="M9.5,-12.5 L16,13.5" fill="none" stroke="#F0BB14" stroke-width="2.6" stroke-linecap="round" stroke-linejoin="round" transform="translate(0.7,1)"/><path d="M30.2,-12.5 L31.3,8.5" fill="none" stroke="#4A3600" stroke-width="7.6" stroke-linecap="round" stroke-linejoin="round" transform="translate(0,0)"/><path d="M30.2,-12.5 L31.3,8.5" fill="none" stroke="#D29A00" stroke-width="6" stroke-linecap="round" stroke-linejoin="round" transform="translate(-0.3,0.7)"/><path d="M30.2,-12.5 L31.3,8.5" fill="none" stroke="#F0BB14" stroke-width="2.6" stroke-linecap="round" stroke-linejoin="round" transform="translate(0.7,1)"/><path d="M-30.3,1.5 L-30,10 Q-29.3,17.2 -24.3,15.2 L-13.5,-15" fill="none" stroke="#94690A" stroke-width="10" stroke-linecap="round" stroke-linejoin="round" transform="translate(0.3,0.4)"/><path d="M-30.3,1.5 L-30,10 Q-29.3,17.2 -24.3,15.2 L-13.5,-15" fill="none" stroke="#E7AB00" stroke-width="9" stroke-linecap="round" stroke-linejoin="round" transform="translate(-0.1,-0.1)"/><path d="M-30.3,1.5 L-30,10 Q-29.3,17.2 -24.3,15.2 L-13.5,-15" fill="none" stroke="#FFCB0C" stroke-width="5.6" stroke-linecap="round" stroke-linejoin="round" transform="translate(-1.2,-0.3)"/><path d="M-30.3,1.5 L-30,10 Q-29.3,17.2 -24.3,15.2 L-13.5,-15" fill="none" stroke="#FFE14A" stroke-width="1.8" stroke-linecap="round" stroke-linejoin="round" transform="translate(-2.4,-0.5)"/><path d="M-3.1,15.2 L7.3,-15" fill="none" stroke="#94690A" stroke-width="10" stroke-linecap="round" stroke-linejoin="round" transform="translate(0.3,0.4)"/><path d="M-3.1,15.2 L7.3,-15" fill="none" stroke="#E7AB00" stroke-width="9" stroke-linecap="round" stroke-linejoin="round" transform="translate(-0.1,-0.1)"/><path d="M-3.1,15.2 L7.3,-15" fill="none" stroke="#FFCB0C" stroke-width="5.6" stroke-linecap="round" stroke-linejoin="round" transform="translate(-1.2,-0.3)"/><path d="M-3.1,15.2 L7.3,-15" fill="none" stroke="#FFE14A" stroke-width="1.8" stroke-linecap="round" stroke-linejoin="round" transform="translate(-2.4,-0.5)"/><path d="M17.6,15.2 L28,-15" fill="none" stroke="#94690A" stroke-width="10" stroke-linecap="round" stroke-linejoin="round" transform="translate(0.3,0.4)"/><path d="M17.6,15.2 L28,-15" fill="none" stroke="#E7AB00" stroke-width="9" stroke-linecap="round" stroke-linejoin="round" transform="translate(-0.1,-0.1)"/><path d="M17.6,15.2 L28,-15" fill="none" stroke="#FFCB0C" stroke-width="5.6" stroke-linecap="round" stroke-linejoin="round" transform="translate(-1.2,-0.3)"/><path d="M17.6,15.2 L28,-15" fill="none" stroke="#FFE14A" stroke-width="1.8" stroke-linecap="round" stroke-linejoin="round" transform="translate(-2.4,-0.5)"/></g><g transform="translate(1108.2,350) rotate(3) scale(1.000,0.938)"><path d="M-11.3,-12.5 L-4.8,13.5" fill="none" stroke="#4A3600" stroke-width="7.6" stroke-linecap="round" stroke-linejoin="round" transform="translate(0,0)"/><path d="M-11.3,-12.5 L-4.8,13.5" fill="none" stroke="#D29A00" stroke-width="6" stroke-linecap="round" stroke-linejoin="round" transform="translate(-0.3,0.7)"/><path d="M-11.3,-12.5 L-4.8,13.5" fill="none" stroke="#F0BB14" stroke-width="2.6" stroke-linecap="round" stroke-linejoin="round" transform="translate(0.7,1)"/><path d="M9.5,-12.5 L16,13.5" fill="none" stroke="#4A3600" stroke-width="7.6" stroke-linecap="round" stroke-linejoin="round" transform="translate(0,0)"/><path d="M9.5,-12.5 L16,13.5" fill="none" stroke="#D29A00" stroke-width="6" stroke-linecap="round" stroke-linejoin="round" transform="translate(-0.3,0.7)"/><path d="M9.5,-12.5 L16,13.5" fill="none" stroke="#F0BB14" stroke-width="2.6" stroke-linecap="round" stroke-linejoin="round" transform="translate(0.7,1)"/><path d="M30.2,-12.5 L31.3,8.5" fill="none" stroke="#4A3600" stroke-width="7.6" stroke-linecap="round" stroke-linejoin="round" transform="translate(0,0)"/><path d="M30.2,-12.5 L31.3,8.5" fill="none" stroke="#D29A00" stroke-width="6" stroke-linecap="round" stroke-linejoin="round" transform="translate(-0.3,0.7)"/><path d="M30.2,-12.5 L31.3,8.5" fill="none" stroke="#F0BB14" stroke-width="2.6" stroke-linecap="round" stroke-linejoin="round" transform="translate(0.7,1)"/><path d="M-30.3,1.5 L-30,10 Q-29.3,17.2 -24.3,15.2 L-13.5,-15" fill="none" stroke="#94690A" stroke-width="10" stroke-linecap="round" stroke-linejoin="round" transform="translate(0.3,0.4)"/><path d="M-30.3,1.5 L-30,10 Q-29.3,17.2 -24.3,15.2 L-13.5,-15" fill="none" stroke="#E7AB00" stroke-width="9" stroke-linecap="round" stroke-linejoin="round" transform="translate(-0.1,-0.1)"/><path d="M-30.3,1.5 L-30,10 Q-29.3,17.2 -24.3,15.2 L-13.5,-15" fill="none" stroke="#FFCB0C" stroke-width="5.6" stroke-linecap="round" stroke-linejoin="round" transform="translate(-1.2,-0.3)"/><path d="M-30.3,1.5 L-30,10 Q-29.3,17.2 -24.3,15.2 L-13.5,-15" fill="none" stroke="#FFE14A" stroke-width="1.8" stroke-linecap="round" stroke-linejoin="round" transform="translate(-2.4,-0.5)"/><path d="M-3.1,15.2 L7.3,-15" fill="none" stroke="#94690A" stroke-width="10" stroke-linecap="round" stroke-linejoin="round" transform="translate(0.3,0.4)"/><path d="M-3.1,15.2 L7.3,-15" fill="none" stroke="#E7AB00" stroke-width="9" stroke-linecap="round" stroke-linejoin="round" transform="translate(-0.1,-0.1)"/><path d="M-3.1,15.2 L7.3,-15" fill="none" stroke="#FFCB0C" stroke-width="5.6" stroke-linecap="round" stroke-linejoin="round" transform="translate(-1.2,-0.3)"/><path d="M-3.1,15.2 L7.3,-15" fill="none" stroke="#FFE14A" stroke-width="1.8" stroke-linecap="round" stroke-linejoin="round" transform="translate(-2.4,-0.5)"/><path d="M17.6,15.2 L28,-15" fill="none" stroke="#94690A" stroke-width="10" stroke-linecap="round" stroke-linejoin="round" transform="translate(0.3,0.4)"/><path d="M17.6,15.2 L28,-15" fill="none" stroke="#E7AB00" stroke-width="9" stroke-linecap="round" stroke-linejoin="round" transform="translate(-0.1,-0.1)"/><path d="M17.6,15.2 L28,-15" fill="none" stroke="#FFCB0C" stroke-width="5.6" stroke-linecap="round" stroke-linejoin="round" transform="translate(-1.2,-0.3)"/><path d="M17.6,15.2 L28,-15" fill="none" stroke="#FFE14A" stroke-width="1.8" stroke-linecap="round" stroke-linejoin="round" transform="translate(-2.4,-0.5)"/></g><g transform="translate(1014.5,412.7) rotate(-6) scale(1.000,0.938)"><path d="M-11.3,-12.5 L-4.8,13.5" fill="none" stroke="#4A3600" stroke-width="7.6" stroke-linecap="round" stroke-linejoin="round" transform="translate(0,0)"/><path d="M-11.3,-12.5 L-4.8,13.5" fill="none" stroke="#D29A00" stroke-width="6" stroke-linecap="round" stroke-linejoin="round" transform="translate(-0.3,0.7)"/><path d="M-11.3,-12.5 L-4.8,13.5" fill="none" stroke="#F0BB14" stroke-width="2.6" stroke-linecap="round" stroke-linejoin="round" transform="translate(0.7,1)"/><path d="M9.5,-12.5 L16,13.5" fill="none" stroke="#4A3600" stroke-width="7.6" stroke-linecap="round" stroke-linejoin="round" transform="translate(0,0)"/><path d="M9.5,-12.5 L16,13.5" fill="none" stroke="#D29A00" stroke-width="6" stroke-linecap="round" stroke-linejoin="round" transform="translate(-0.3,0.7)"/><path d="M9.5,-12.5 L16,13.5" fill="none" stroke="#F0BB14" stroke-width="2.6" stroke-linecap="round" stroke-linejoin="round" transform="translate(0.7,1)"/><path d="M30.2,-12.5 L31.3,8.5" fill="none" stroke="#4A3600" stroke-width="7.6" stroke-linecap="round" stroke-linejoin="round" transform="translate(0,0)"/><path d="M30.2,-12.5 L31.3,8.5" fill="none" stroke="#D29A00" stroke-width="6" stroke-linecap="round" stroke-linejoin="round" transform="translate(-0.3,0.7)"/><path d="M30.2,-12.5 L31.3,8.5" fill="none" stroke="#F0BB14" stroke-width="2.6" stroke-linecap="round" stroke-linejoin="round" transform="translate(0.7,1)"/><path d="M-30.3,1.5 L-30,10 Q-29.3,17.2 -24.3,15.2 L-13.5,-15" fill="none" stroke="#94690A" stroke-width="10" stroke-linecap="round" stroke-linejoin="round" transform="translate(0.3,0.4)"/><path d="M-30.3,1.5 L-30,10 Q-29.3,17.2 -24.3,15.2 L-13.5,-15" fill="none" stroke="#E7AB00" stroke-width="9" stroke-linecap="round" stroke-linejoin="round" transform="translate(-0.1,-0.1)"/><path d="M-30.3,1.5 L-30,10 Q-29.3,17.2 -24.3,15.2 L-13.5,-15" fill="none" stroke="#FFCB0C" stroke-width="5.6" stroke-linecap="round" stroke-linejoin="round" transform="translate(-1.2,-0.3)"/><path d="M-30.3,1.5 L-30,10 Q-29.3,17.2 -24.3,15.2 L-13.5,-15" fill="none" stroke="#FFE14A" stroke-width="1.8" stroke-linecap="round" stroke-linejoin="round" transform="translate(-2.4,-0.5)"/><path d="M-3.1,15.2 L7.3,-15" fill="none" stroke="#94690A" stroke-width="10" stroke-linecap="round" stroke-linejoin="round" transform="translate(0.3,0.4)"/><path d="M-3.1,15.2 L7.3,-15" fill="none" stroke="#E7AB00" stroke-width="9" stroke-linecap="round" stroke-linejoin="round" transform="translate(-0.1,-0.1)"/><path d="M-3.1,15.2 L7.3,-15" fill="none" stroke="#FFCB0C" stroke-width="5.6" stroke-linecap="round" stroke-linejoin="round" transform="translate(-1.2,-0.3)"/><path d="M-3.1,15.2 L7.3,-15" fill="none" stroke="#FFE14A" stroke-width="1.8" stroke-linecap="round" stroke-linejoin="round" transform="translate(-2.4,-0.5)"/><path d="M17.6,15.2 L28,-15" fill="none" stroke="#94690A" stroke-width="10" stroke-linecap="round" stroke-linejoin="round" transform="translate(0.3,0.4)"/><path d="M17.6,15.2 L28,-15" fill="none" stroke="#E7AB00" stroke-width="9" stroke-linecap="round" stroke-linejoin="round" transform="translate(-0.1,-0.1)"/><path d="M17.6,15.2 L28,-15" fill="none" stroke="#FFCB0C" stroke-width="5.6" stroke-linecap="round" stroke-linejoin="round" transform="translate(-1.2,-0.3)"/><path d="M17.6,15.2 L28,-15" fill="none" stroke="#FFE14A" stroke-width="1.8" stroke-linecap="round" stroke-linejoin="round" transform="translate(-2.4,-0.5)"/></g><g transform="translate(1109.5,425.2) rotate(-5) scale(1.000,0.938)"><path d="M-11.3,-12.5 L-4.8,13.5" fill="none" stroke="#4A3600" stroke-width="7.6" stroke-linecap="round" stroke-linejoin="round" transform="translate(0,0)"/><path d="M-11.3,-12.5 L-4.8,13.5" fill="none" stroke="#D29A00" stroke-width="6" stroke-linecap="round" stroke-linejoin="round" transform="translate(-0.3,0.7)"/><path d="M-11.3,-12.5 L-4.8,13.5" fill="none" stroke="#F0BB14" stroke-width="2.6" stroke-linecap="round" stroke-linejoin="round" transform="translate(0.7,1)"/><path d="M9.5,-12.5 L16,13.5" fill="none" stroke="#4A3600" stroke-width="7.6" stroke-linecap="round" stroke-linejoin="round" transform="translate(0,0)"/><path d="M9.5,-12.5 L16,13.5" fill="none" stroke="#D29A00" stroke-width="6" stroke-linecap="round" stroke-linejoin="round" transform="translate(-0.3,0.7)"/><path d="M9.5,-12.5 L16,13.5" fill="none" stroke="#F0BB14" stroke-width="2.6" stroke-linecap="round" stroke-linejoin="round" transform="translate(0.7,1)"/><path d="M30.2,-12.5 L31.3,8.5" fill="none" stroke="#4A3600" stroke-width="7.6" stroke-linecap="round" stroke-linejoin="round" transform="translate(0,0)"/><path d="M30.2,-12.5 L31.3,8.5" fill="none" stroke="#D29A00" stroke-width="6" stroke-linecap="round" stroke-linejoin="round" transform="translate(-0.3,0.7)"/><path d="M30.2,-12.5 L31.3,8.5" fill="none" stroke="#F0BB14" stroke-width="2.6" stroke-linecap="round" stroke-linejoin="round" transform="translate(0.7,1)"/><path d="M-30.3,1.5 L-30,10 Q-29.3,17.2 -24.3,15.2 L-13.5,-15" fill="none" stroke="#94690A" stroke-width="10" stroke-linecap="round" stroke-linejoin="round" transform="translate(0.3,0.4)"/><path d="M-30.3,1.5 L-30,10 Q-29.3,17.2 -24.3,15.2 L-13.5,-15" fill="none" stroke="#E7AB00" stroke-width="9" stroke-linecap="round" stroke-linejoin="round" transform="translate(-0.1,-0.1)"/><path d="M-30.3,1.5 L-30,10 Q-29.3,17.2 -24.3,15.2 L-13.5,-15" fill="none" stroke="#FFCB0C" stroke-width="5.6" stroke-linecap="round" stroke-linejoin="round" transform="translate(-1.2,-0.3)"/><path d="M-30.3,1.5 L-30,10 Q-29.3,17.2 -24.3,15.2 L-13.5,-15" fill="none" stroke="#FFE14A" stroke-width="1.8" stroke-linecap="round" stroke-linejoin="round" transform="translate(-2.4,-0.5)"/><path d="M-3.1,15.2 L7.3,-15" fill="none" stroke="#94690A" stroke-width="10" stroke-linecap="round" stroke-linejoin="round" transform="translate(0.3,0.4)"/><path d="M-3.1,15.2 L7.3,-15" fill="none" stroke="#E7AB00" stroke-width="9" stroke-linecap="round" stroke-linejoin="round" transform="translate(-0.1,-0.1)"/><path d="M-3.1,15.2 L7.3,-15" fill="none" stroke="#FFCB0C" stroke-width="5.6" stroke-linecap="round" stroke-linejoin="round" transform="translate(-1.2,-0.3)"/><path d="M-3.1,15.2 L7.3,-15" fill="none" stroke="#FFE14A" stroke-width="1.8" stroke-linecap="round" stroke-linejoin="round" transform="translate(-2.4,-0.5)"/><path d="M17.6,15.2 L28,-15" fill="none" stroke="#94690A" stroke-width="10" stroke-linecap="round" stroke-linejoin="round" transform="translate(0.3,0.4)"/><path d="M17.6,15.2 L28,-15" fill="none" stroke="#E7AB00" stroke-width="9" stroke-linecap="round" stroke-linejoin="round" transform="translate(-0.1,-0.1)"/><path d="M17.6,15.2 L28,-15" fill="none" stroke="#FFCB0C" stroke-width="5.6" stroke-linecap="round" stroke-linejoin="round" transform="translate(-1.2,-0.3)"/><path d="M17.6,15.2 L28,-15" fill="none" stroke="#FFE14A" stroke-width="1.8" stroke-linecap="round" stroke-linejoin="round" transform="translate(-2.4,-0.5)"/></g><path d="M248,581.5 C250.2,578.4 257,568.5 261,563 C265,557.5 269.2,551.2 272,548.5 C274.8,545.8 275.9,545.2 277.5,546.5 C279.1,547.8 280.3,551.8 281.5,556 C282.7,560.2 283.5,568.4 284.5,572 C285.5,575.6 286.1,578 287.5,577.5 C288.9,577 290.6,572.9 293,569 C295.4,565.1 299.2,557.8 302,554 C304.8,550.2 307.5,547.4 309.5,546.5 C311.5,545.6 312.8,545.9 314,548.5 C315.2,551.1 315.7,557.5 316.5,562 C317.3,566.5 318,573.3 319,575.5 C320,577.7 320.8,577.6 322.5,575 C324.2,572.4 326.5,565.5 329,560 C331.5,554.5 336.1,545 337.5,542" fill="none" stroke="#E4590A" stroke-width="7.2" stroke-linecap="round" stroke-linejoin="round"/><text x="351" y="584" font-size="57.3" font-weight="bold" text-anchor="start" fill="#000" >SA molecular chain</text><g transform="translate(993.5,563.5) rotate(0) scale(1.290,1.100)"><path d="M-11.3,-12.5 L-4.8,13.5" fill="none" stroke="#4A3600" stroke-width="7.6" stroke-linecap="round" stroke-linejoin="round" transform="translate(0,0)"/><path d="M-11.3,-12.5 L-4.8,13.5" fill="none" stroke="#D29A00" stroke-width="6" stroke-linecap="round" stroke-linejoin="round" transform="translate(-0.3,0.7)"/><path d="M-11.3,-12.5 L-4.8,13.5" fill="none" stroke="#F0BB14" stroke-width="2.6" stroke-linecap="round" stroke-linejoin="round" transform="translate(0.7,1)"/><path d="M9.5,-12.5 L16,13.5" fill="none" stroke="#4A3600" stroke-width="7.6" stroke-linecap="round" stroke-linejoin="round" transform="translate(0,0)"/><path d="M9.5,-12.5 L16,13.5" fill="none" stroke="#D29A00" stroke-width="6" stroke-linecap="round" stroke-linejoin="round" transform="translate(-0.3,0.7)"/><path d="M9.5,-12.5 L16,13.5" fill="none" stroke="#F0BB14" stroke-width="2.6" stroke-linecap="round" stroke-linejoin="round" transform="translate(0.7,1)"/><path d="M30.2,-12.5 L31.3,8.5" fill="none" stroke="#4A3600" stroke-width="7.6" stroke-linecap="round" stroke-linejoin="round" transform="translate(0,0)"/><path d="M30.2,-12.5 L31.3,8.5" fill="none" stroke="#D29A00" stroke-width="6" stroke-linecap="round" stroke-linejoin="round" transform="translate(-0.3,0.7)"/><path d="M30.2,-12.5 L31.3,8.5" fill="none" stroke="#F0BB14" stroke-width="2.6" stroke-linecap="round" stroke-linejoin="round" transform="translate(0.7,1)"/><path d="M-30.3,1.5 L-30,10 Q-29.3,17.2 -24.3,15.2 L-13.5,-15" fill="none" stroke="#94690A" stroke-width="10" stroke-linecap="round" stroke-linejoin="round" transform="translate(0.3,0.4)"/><path d="M-30.3,1.5 L-30,10 Q-29.3,17.2 -24.3,15.2 L-13.5,-15" fill="none" stroke="#E7AB00" stroke-width="9" stroke-linecap="round" stroke-linejoin="round" transform="translate(-0.1,-0.1)"/><path d="M-30.3,1.5 L-30,10 Q-29.3,17.2 -24.3,15.2 L-13.5,-15" fill="none" stroke="#FFCB0C" stroke-width="5.6" stroke-linecap="round" stroke-linejoin="round" transform="translate(-1.2,-0.3)"/><path d="M-30.3,1.5 L-30,10 Q-29.3,17.2 -24.3,15.2 L-13.5,-15" fill="none" stroke="#FFE14A" stroke-width="1.8" stroke-linecap="round" stroke-linejoin="round" transform="translate(-2.4,-0.5)"/><path d="M-3.1,15.2 L7.3,-15" fill="none" stroke="#94690A" stroke-width="10" stroke-linecap="round" stroke-linejoin="round" transform="translate(0.3,0.4)"/><path d="M-3.1,15.2 L7.3,-15" fill="none" stroke="#E7AB00" stroke-width="9" stroke-linecap="round" stroke-linejoin="round" transform="translate(-0.1,-0.1)"/><path d="M-3.1,15.2 L7.3,-15" fill="none" stroke="#FFCB0C" stroke-width="5.6" stroke-linecap="round" stroke-linejoin="round" transform="translate(-1.2,-0.3)"/><path d="M-3.1,15.2 L7.3,-15" fill="none" stroke="#FFE14A" stroke-width="1.8" stroke-linecap="round" stroke-linejoin="round" transform="translate(-2.4,-0.5)"/><path d="M17.6,15.2 L28,-15" fill="none" stroke="#94690A" stroke-width="10" stroke-linecap="round" stroke-linejoin="round" transform="translate(0.3,0.4)"/><path d="M17.6,15.2 L28,-15" fill="none" stroke="#E7AB00" stroke-width="9" stroke-linecap="round" stroke-linejoin="round" transform="translate(-0.1,-0.1)"/><path d="M17.6,15.2 L28,-15" fill="none" stroke="#FFCB0C" stroke-width="5.6" stroke-linecap="round" stroke-linejoin="round" transform="translate(-1.2,-0.3)"/><path d="M17.6,15.2 L28,-15" fill="none" stroke="#FFE14A" stroke-width="1.8" stroke-linecap="round" stroke-linejoin="round" transform="translate(-2.4,-0.5)"/></g><text x="1064" y="585" font-size="57" font-weight="bold" text-anchor="start" fill="#000" >Helix</text></g>
<g id="panel-a2"><defs><linearGradient id="lg" gradientUnits="userSpaceOnUse" x1="1450" y1="0" x2="1940" y2="0"><stop offset="0" stop-color="#FFE394"/><stop offset="0.25" stop-color="#FFEFC4"/><stop offset="0.5" stop-color="#FFEFC4"/><stop offset="0.8" stop-color="#FFEFC4"/><stop offset="1" stop-color="#FFE7A2"/></linearGradient><clipPath id="mclip"><rect x="1445" y="325" width="488" height="300"/></clipPath></defs><path d="M1208.3,341.8 L1394.5,194.2" fill="none" stroke="#C8920F" stroke-width="7.4" stroke-dasharray="22 9.3" stroke-dashoffset="14"/><path d="M1209.3,369.2 L1381.5,516.2" fill="none" stroke="#C8920F" stroke-width="7.4" stroke-dasharray="22 9.3" stroke-dashoffset="3"/><rect x="1391" y="35.5" width="604.2" height="690.9" fill="none" stroke="#C8920F" stroke-width="7" stroke-dasharray="20.6 8.3"/><path d="M1387.5,316 L1998.7,316" stroke="#C8920F" stroke-width="7" fill="none"/><path d="M1471.3,104.8 C1473.4,105.4 1479.9,107.4 1484,108.5 C1488.1,109.6 1491.3,114.2 1496,111.5 C1500.7,108.8 1505.9,97.6 1511.9,92 C1517.9,86.4 1524.6,80.9 1531.9,78 C1539.2,75.1 1547.9,74.6 1555.9,74.6 C1563.9,74.6 1572.6,75.1 1579.9,78 C1587.2,80.9 1593.2,85.8 1599.9,92 C1606.6,98.2 1615.2,111.1 1620,115 C1624.8,118.9 1626,115.5 1629,115.5 C1632,115.5 1633.2,118.9 1638,115 C1642.8,111.1 1651.4,98.2 1658.1,92 C1664.8,85.8 1670.8,80.9 1678.1,78 C1685.4,75.1 1694.1,74.6 1702.1,74.6 C1710.1,74.6 1718.8,75.1 1726.1,78 C1733.4,80.9 1739.4,85.8 1746.1,92 C1752.8,98.2 1761.4,111.1 1766.2,115 C1771,118.9 1772.2,115.5 1775.2,115.5 C1778.2,115.5 1779.3,118.9 1784.2,115 C1789.1,111.1 1797.6,98.2 1804.3,92 C1811,85.8 1817,80.9 1824.3,78 C1831.6,75.1 1840.3,74.6 1848.3,74.6 C1856.3,74.6 1865,75.1 1872.3,78 C1879.6,80.9 1889,86.4 1892.3,92 C1895.6,97.6 1890,108.8 1892,111.5 C1894,114.2 1899.9,109.6 1904,108.5 C1908.1,107.4 1914.4,105.4 1916.5,104.8" fill="none" stroke="#FFC000" stroke-width="46.5" stroke-linecap="round" stroke-linejoin="round"/><path d="M1471.3,166 C1473.4,165.4 1479.9,163.4 1484,162.3 C1488.1,161.2 1491.3,156.6 1496,159.3 C1500.7,162.1 1505.9,173.2 1511.9,178.8 C1517.9,184.4 1524.6,189.9 1531.9,192.8 C1539.2,195.7 1547.9,196.2 1555.9,196.2 C1563.9,196.2 1572.6,195.7 1579.9,192.8 C1587.2,189.9 1593.2,185 1599.9,178.8 C1606.6,172.6 1615.2,159.7 1620,155.8 C1624.8,151.9 1626,155.3 1629,155.3 C1632,155.3 1633.2,151.9 1638,155.8 C1642.8,159.7 1651.4,172.6 1658.1,178.8 C1664.8,185 1670.8,189.9 1678.1,192.8 C1685.4,195.7 1694.1,196.2 1702.1,196.2 C1710.1,196.2 1718.8,195.7 1726.1,192.8 C1733.4,189.9 1739.4,185 1746.1,178.8 C1752.8,172.6 1761.4,159.7 1766.2,155.8 C1771,151.9 1772.2,155.3 1775.2,155.3 C1778.2,155.3 1779.3,151.9 1784.2,155.8 C1789.1,159.7 1797.6,172.6 1804.3,178.8 C1811,185 1817,189.9 1824.3,192.8 C1831.6,195.7 1840.3,196.2 1848.3,196.2 C1856.3,196.2 1865,195.7 1872.3,192.8 C1879.6,189.9 1889,184.4 1892.3,178.8 C1895.6,173.2 1890,162.1 1892,159.3 C1894,156.6 1899.9,161.2 1904,162.3 C1908.1,163.4 1914.4,165.4 1916.5,166" fill="none" stroke="#FFC000" stroke-width="46.5" stroke-linecap="round" stroke-linejoin="round"/><path d="M1471.3,104.8 C1473.4,105.4 1479.9,107.4 1484,108.5 C1488.1,109.6 1491.3,114.2 1496,111.5 C1500.7,108.8 1505.9,97.6 1511.9,92 C1517.9,86.4 1524.6,80.9 1531.9,78 C1539.2,75.1 1547.9,74.6 1555.9,74.6 C1563.9,74.6 1572.6,75.1 1579.9,78 C1587.2,80.9 1593.2,85.8 1599.9,92 C1606.6,98.2 1615.2,111.1 1620,115 C1624.8,118.9 1626,115.5 1629,115.5 C1632,115.5 1633.2,118.9 1638,115 C1642.8,111.1 1651.4,98.2 1658.1,92 C1664.8,85.8 1670.8,80.9 1678.1,78 C1685.4,75.1 1694.1,74.6 1702.1,74.6 C1710.1,74.6 1718.8,75.1 1726.1,78 C1733.4,80.9 1739.4,85.8 1746.1,92 C1752.8,98.2 1761.4,111.1 1766.2,115 C1771,118.9 1772.2,115.5 1775.2,115.5 C1778.2,115.5 1779.3,118.9 1784.2,115 C1789.1,111.1 1797.6,98.2 1804.3,92 C1811,85.8 1817,80.9 1824.3,78 C1831.6,75.1 1840.3,74.6 1848.3,74.6 C1856.3,74.6 1865,75.1 1872.3,78 C1879.6,80.9 1889,86.4 1892.3,92 C1895.6,97.6 1890,108.8 1892,111.5 C1894,114.2 1899.9,109.6 1904,108.5 C1908.1,107.4 1914.4,105.4 1916.5,104.8 L1916.5,166 C1914.4,165.4 1908.1,163.4 1904,162.3 C1899.9,161.2 1894,156.6 1892,159.3 C1890,162.1 1895.6,173.2 1892.3,178.8 C1889,184.4 1879.6,189.9 1872.3,192.8 C1865,195.7 1856.3,196.2 1848.3,196.2 C1840.3,196.2 1831.6,195.7 1824.3,192.8 C1817,189.9 1811,185 1804.3,178.8 C1797.6,172.6 1789.1,159.7 1784.2,155.8 C1779.3,151.9 1778.2,155.3 1775.2,155.3 C1772.2,155.3 1771,151.9 1766.2,155.8 C1761.4,159.7 1752.8,172.6 1746.1,178.8 C1739.4,185 1733.4,189.9 1726.1,192.8 C1718.8,195.7 1710.1,196.2 1702.1,196.2 C1694.1,196.2 1685.4,195.7 1678.1,192.8 C1670.8,189.9 1664.8,185 1658.1,178.8 C1651.4,172.6 1642.8,159.7 1638,155.8 C1633.2,151.9 1632,155.3 1629,155.3 C1626,155.3 1624.8,151.9 1620,155.8 C1615.2,159.7 1606.6,172.6 1599.9,178.8 C1593.2,185 1587.2,189.9 1579.9,192.8 C1572.6,195.7 1563.9,196.2 1555.9,196.2 C1547.9,196.2 1539.2,195.7 1531.9,192.8 C1524.6,189.9 1517.9,184.4 1511.9,178.8 C1505.9,173.2 1500.7,162.1 1496,159.3 C1491.3,156.6 1488.1,161.2 1484,162.3 C1479.9,163.4 1473.4,165.4 1471.3,166 Z" fill="#FFC000"/><defs><linearGradient id="gf" x1="0" y1="0" x2="0" y2="1"><stop offset="0" stop-color="#fff" stop-opacity="0"/><stop offset="0.5" stop-color="#fff" stop-opacity="1"/><stop offset="1" stop-color="#fff" stop-opacity="0"/></linearGradient></defs><path d="M1521.4,135.4 L1539,106.8 Q1544.4,96.9 1553.4,96.9 L1558.4,96.9 Q1567.4,96.9 1572.8,106.8 L1590.4,135.4 L1572.8,164 Q1567.4,173.9 1558.4,173.9 L1553.4,173.9 Q1544.4,173.9 1539,164 Z" fill="#fff"/><path d="M1667.6,135.4 L1685.2,106.8 Q1690.6,96.9 1699.6,96.9 L1704.6,96.9 Q1713.6,96.9 1719,106.8 L1736.6,135.4 L1719,164 Q1713.6,173.9 1704.6,173.9 L1699.6,173.9 Q1690.6,173.9 1685.2,164 Z" fill="#fff"/><path d="M1813.8,135.4 L1831.4,106.8 Q1836.8,96.9 1845.8,96.9 L1850.8,96.9 Q1859.8,96.9 1865.2,106.8 L1882.8,135.4 L1865.2,164 Q1859.8,173.9 1850.8,173.9 L1845.8,173.9 Q1836.8,173.9 1831.4,164 Z" fill="#fff"/><path d="M1440,119.4 L1476,128.4 L1521,135.4 L1476,142.4 L1440,151.4 Z" fill="#fff"/><path d="M1950,119.4 L1912,128.4 L1882,135.4 L1912,142.4 L1950,151.4 Z" fill="#fff"/><rect x="1440" y="123.4" width="510" height="24" fill="url(#gf)"/><path d="M1460.6,126.9 L1476.8,117.6" fill="none" stroke="#000" stroke-width="0.9" stroke-linecap="butt" stroke-linejoin="round"/><path d="M1481.9,117.1 L1503.1,121.8 L1523.5,117.6" fill="none" stroke="#000" stroke-width="0.9" stroke-linecap="butt" stroke-linejoin="round"/><path d="M1516.7,79.3 L1513.3,101.4" fill="none" stroke="#000" stroke-width="2.4" stroke-linecap="butt" stroke-linejoin="round"/><path d="M1503.1,121.8 L1514.8,102.1 L1511.9,100.7 Z" fill="#000"/><path d="M1537.1,75.1 L1516.4,77.8 L1517.1,80.9 Z" fill="#000"/><path d="M1537.1,75.1 L1527.8,92.1" fill="none" stroke="#000" stroke-width="0.9" stroke-linecap="butt" stroke-linejoin="round"/><path d="M1524.4,97.2 L1523.5,117.6" fill="none" stroke="#000" stroke-width="0.9" stroke-linecap="butt" stroke-linejoin="round"/><path d="M1513.3,101.4 L1523.5,106.5 L1523.5,117.6" fill="none" stroke="#000" stroke-width="0.9" stroke-linecap="butt" stroke-linejoin="round"/><path d="M1523.5,106.5 L1531.2,112.5" fill="none" stroke="#000" stroke-width="0.9" stroke-linecap="butt" stroke-linejoin="round"/><path d="M1518.4,78.5 L1525.2,63.2" fill="none" stroke="#000" stroke-width="0.9" stroke-linecap="butt" stroke-linejoin="round"/><path d="M1537.1,75.1 L1552.4,89.5" fill="none" stroke="#000" stroke-width="0.9" stroke-linecap="butt" stroke-linejoin="round"/><path d="M1559.3,89.5 L1572.9,75.1" fill="none" stroke="#000" stroke-width="0.9" stroke-linecap="butt" stroke-linejoin="round"/><path d="M1572.9,75.1 L1592.9,80.9 L1593.6,77.8 Z" fill="#000"/><path d="M1593.3,79.3 L1595.8,98" fill="none" stroke="#000" stroke-width="2.4" stroke-linecap="butt" stroke-linejoin="round"/><path d="M1608.6,121.8 L1598.8,104.8 L1596.2,106.6 Z" fill="#000"/><path d="M1572.9,75.1 L1584.8,92.9 L1586.5,113.3 L1608.6,121.8" fill="none" stroke="#000" stroke-width="0.9" stroke-linecap="butt" stroke-linejoin="round"/><path d="M1584.8,92.9 L1603.5,88.7" fill="none" stroke="#000" stroke-width="0.9" stroke-linecap="butt" stroke-linejoin="round"/><path d="M1593.3,79.3 L1586.5,64" fill="none" stroke="#000" stroke-width="0.9" stroke-linecap="butt" stroke-linejoin="round"/><path d="M1608.6,121.8 L1623.9,115.9" fill="none" stroke="#000" stroke-width="0.9" stroke-linecap="butt" stroke-linejoin="round"/><path d="M1630.7,115.9 L1646,121.8" fill="none" stroke="#000" stroke-width="0.9" stroke-linecap="butt" stroke-linejoin="round"/><path d="M1523.5,117.6 L1509.9,130.3" fill="none" stroke="#000" stroke-width="0.9" stroke-linecap="butt" stroke-linejoin="round"/><path d="M1586.5,113.3 L1600.1,130.3" fill="none" stroke="#000" stroke-width="0.9" stroke-linecap="butt" stroke-linejoin="round"/><text x="1479.3" y="118.8" font-size="6.6" text-anchor="middle" fill="#000">O</text><text x="1529.5" y="63" font-size="6.6" text-anchor="middle" fill="#000">OH</text><text x="1525.2" y="97" font-size="6.6" text-anchor="middle" fill="#000">O</text><text x="1536.3" y="116.6" font-size="6.6" text-anchor="middle" fill="#000">OH</text><text x="1555.9" y="93.6" font-size="6.6" text-anchor="middle" fill="#000">O</text><text x="1578" y="63" font-size="6.6" text-anchor="middle" fill="#000">OOC</text><text x="1609.4" y="91" font-size="6.6" text-anchor="middle" fill="#000">OH</text><text x="1595.8" y="105.2" font-size="6.6" text-anchor="middle" fill="#000">O</text><text x="1627.3" y="116.6" font-size="6.6" text-anchor="middle" fill="#000">O</text><text x="1501.4" y="135.3" font-size="6.6" text-anchor="middle" fill="#000">OOC</text><text x="1605.2" y="135.3" font-size="6.6" text-anchor="middle" fill="#000">OH</text><path d="M1460.6,143.9 L1476.8,153.2" fill="none" stroke="#000" stroke-width="0.9" stroke-linecap="butt" stroke-linejoin="round"/><path d="M1481.9,153.7 L1503.1,149 L1523.5,153.2" fill="none" stroke="#000" stroke-width="0.9" stroke-linecap="butt" stroke-linejoin="round"/><path d="M1516.7,191.5 L1513.3,169.4" fill="none" stroke="#000" stroke-width="2.4" stroke-linecap="butt" stroke-linejoin="round"/><path d="M1503.1,149 L1511.9,170.1 L1514.8,168.7 Z" fill="#000"/><path d="M1537.1,195.7 L1517.1,189.9 L1516.4,193 Z" fill="#000"/><path d="M1537.1,195.7 L1527.8,178.7" fill="none" stroke="#000" stroke-width="0.9" stroke-linecap="butt" stroke-linejoin="round"/><path d="M1524.4,173.6 L1523.5,153.2" fill="none" stroke="#000" stroke-width="0.9" stroke-linecap="butt" stroke-linejoin="round"/><path d="M1513.3,169.4 L1523.5,164.3 L1523.5,153.2" fill="none" stroke="#000" stroke-width="0.9" stroke-linecap="butt" stroke-linejoin="round"/><path d="M1523.5,164.3 L1531.2,158.3" fill="none" stroke="#000" stroke-width="0.9" stroke-linecap="butt" stroke-linejoin="round"/><path d="M1518.4,192.3 L1525.2,207.6" fill="none" stroke="#000" stroke-width="0.9" stroke-linecap="butt" stroke-linejoin="round"/><path d="M1537.1,195.7 L1552.4,181.3" fill="none" stroke="#000" stroke-width="0.9" stroke-linecap="butt" stroke-linejoin="round"/><path d="M1559.3,181.3 L1572.9,195.7" fill="none" stroke="#000" stroke-width="0.9" stroke-linecap="butt" stroke-linejoin="round"/><path d="M1572.9,195.7 L1593.6,193 L1592.9,189.9 Z" fill="#000"/><path d="M1593.3,191.5 L1595.8,172.8" fill="none" stroke="#000" stroke-width="2.4" stroke-linecap="butt" stroke-linejoin="round"/><path d="M1608.6,149 L1596.2,164.2 L1598.8,166 Z" fill="#000"/><path d="M1572.9,195.7 L1584.8,177.9 L1586.5,157.5 L1608.6,149" fill="none" stroke="#000" stroke-width="0.9" stroke-linecap="butt" stroke-linejoin="round"/><path d="M1584.8,177.9 L1603.5,182.1" fill="none" stroke="#000" stroke-width="0.9" stroke-linecap="butt" stroke-linejoin="round"/><path d="M1593.3,191.5 L1586.5,206.8" fill="none" stroke="#000" stroke-width="0.9" stroke-linecap="butt" stroke-linejoin="round"/><path d="M1608.6,149 L1623.9,154.9" fill="none" stroke="#000" stroke-width="0.9" stroke-linecap="butt" stroke-linejoin="round"/><path d="M1630.7,154.9 L1646,149" fill="none" stroke="#000" stroke-width="0.9" stroke-linecap="butt" stroke-linejoin="round"/><path d="M1523.5,153.2 L1509.9,140.5" fill="none" stroke="#000" stroke-width="0.9" stroke-linecap="butt" stroke-linejoin="round"/><path d="M1586.5,157.5 L1600.1,140.5" fill="none" stroke="#000" stroke-width="0.9" stroke-linecap="butt" stroke-linejoin="round"/><text x="1479.3" y="156.8" font-size="6.6" text-anchor="middle" fill="#000">O</text><text x="1529.5" y="212.6" font-size="6.6" text-anchor="middle" fill="#000">OH</text><text x="1525.2" y="178.6" font-size="6.6" text-anchor="middle" fill="#000">O</text><text x="1536.3" y="159" font-size="6.6" text-anchor="middle" fill="#000">OH</text><text x="1555.9" y="182" font-size="6.6" text-anchor="middle" fill="#000">O</text><text x="1578" y="212.6" font-size="6.6" text-anchor="middle" fill="#000">OOC</text><text x="1609.4" y="184.5" font-size="6.6" text-anchor="middle" fill="#000">OH</text><text x="1595.8" y="170.4" font-size="6.6" text-anchor="middle" fill="#000">O</text><text x="1627.3" y="159" font-size="6.6" text-anchor="middle" fill="#000">O</text><text x="1501.4" y="142.5" font-size="6.6" text-anchor="middle" fill="#000">OOC</text><text x="1605.2" y="142.5" font-size="6.6" text-anchor="middle" fill="#000">OH</text><path d="M1606.8,126.9 L1623,117.6" fill="none" stroke="#000" stroke-width="0.9" stroke-linecap="butt" stroke-linejoin="round"/><path d="M1628.1,117.1 L1649.3,121.8 L1669.7,117.6" fill="none" stroke="#000" stroke-width="0.9" stroke-linecap="butt" stroke-linejoin="round"/><path d="M1662.9,79.3 L1659.5,101.4" fill="none" stroke="#000" stroke-width="2.4" stroke-linecap="butt" stroke-linejoin="round"/><path d="M1649.3,121.8 L1661,102.1 L1658.1,100.7 Z" fill="#000"/><path d="M1683.3,75.1 L1662.6,77.8 L1663.3,80.9 Z" fill="#000"/><path d="M1683.3,75.1 L1674,92.1" fill="none" stroke="#000" stroke-width="0.9" stroke-linecap="butt" stroke-linejoin="round"/><path d="M1670.6,97.2 L1669.7,117.6" fill="none" stroke="#000" stroke-width="0.9" stroke-linecap="butt" stroke-linejoin="round"/><path d="M1659.5,101.4 L1669.7,106.5 L1669.7,117.6" fill="none" stroke="#000" stroke-width="0.9" stroke-linecap="butt" stroke-linejoin="round"/><path d="M1669.7,106.5 L1677.4,112.5" fill="none" stroke="#000" stroke-width="0.9" stroke-linecap="butt" stroke-linejoin="round"/><path d="M1664.6,78.5 L1671.4,63.2" fill="none" stroke="#000" stroke-width="0.9" stroke-linecap="butt" stroke-linejoin="round"/><path d="M1683.3,75.1 L1698.6,89.5" fill="none" stroke="#000" stroke-width="0.9" stroke-linecap="butt" stroke-linejoin="round"/><path d="M1705.5,89.5 L1719.1,75.1" fill="none" stroke="#000" stroke-width="0.9" stroke-linecap="butt" stroke-linejoin="round"/><path d="M1719.1,75.1 L1739.1,80.9 L1739.8,77.8 Z" fill="#000"/><path d="M1739.5,79.3 L1742,98" fill="none" stroke="#000" stroke-width="2.4" stroke-linecap="butt" stroke-linejoin="round"/><path d="M1754.8,121.8 L1745,104.8 L1742.4,106.6 Z" fill="#000"/><path d="M1719.1,75.1 L1731,92.9 L1732.7,113.3 L1754.8,121.8" fill="none" stroke="#000" stroke-width="0.9" stroke-linecap="butt" stroke-linejoin="round"/><path d="M1731,92.9 L1749.7,88.7" fill="none" stroke="#000" stroke-width="0.9" stroke-linecap="butt" stroke-linejoin="round"/><path d="M1739.5,79.3 L1732.7,64" fill="none" stroke="#000" stroke-width="0.9" stroke-linecap="butt" stroke-linejoin="round"/><path d="M1754.8,121.8 L1770.1,115.9" fill="none" stroke="#000" stroke-width="0.9" stroke-linecap="butt" stroke-linejoin="round"/><path d="M1776.9,115.9 L1792.2,121.8" fill="none" stroke="#000" stroke-width="0.9" stroke-linecap="butt" stroke-linejoin="round"/><path d="M1669.7,117.6 L1656.1,130.3" fill="none" stroke="#000" stroke-width="0.9" stroke-linecap="butt" stroke-linejoin="round"/><path d="M1732.7,113.3 L1746.3,130.3" fill="none" stroke="#000" stroke-width="0.9" stroke-linecap="butt" stroke-linejoin="round"/><text x="1625.5" y="118.8" font-size="6.6" text-anchor="middle" fill="#000">O</text><text x="1675.7" y="63" font-size="6.6" text-anchor="middle" fill="#000">OH</text><text x="1671.4" y="97" font-size="6.6" text-anchor="middle" fill="#000">O</text><text x="1682.5" y="116.6" font-size="6.6" text-anchor="middle" fill="#000">OH</text><text x="1702.1" y="93.6" font-size="6.6" text-anchor="middle" fill="#000">O</text><text x="1724.2" y="63" font-size="6.6" text-anchor="middle" fill="#000">OOC</text><text x="1755.6" y="91" font-size="6.6" text-anchor="middle" fill="#000">OH</text><text x="1742" y="105.2" font-size="6.6" text-anchor="middle" fill="#000">O</text><text x="1773.5" y="116.6" font-size="6.6" text-anchor="middle" fill="#000">O</text><text x="1647.6" y="135.3" font-size="6.6" text-anchor="middle" fill="#000">OOC</text><text x="1751.4" y="135.3" font-size="6.6" text-anchor="middle" fill="#000">OH</text><path d="M1606.8,143.9 L1623,153.2" fill="none" stroke="#000" stroke-width="0.9" stroke-linecap="butt" stroke-linejoin="round"/><path d="M1628.1,153.7 L1649.3,149 L1669.7,153.2" fill="none" stroke="#000" stroke-width="0.9" stroke-linecap="butt" stroke-linejoin="round"/><path d="M1662.9,191.5 L1659.5,169.4" fill="none" stroke="#000" stroke-width="2.4" stroke-linecap="butt" stroke-linejoin="round"/><path d="M1649.3,149 L1658.1,170.1 L1661,168.7 Z" fill="#000"/><path d="M1683.3,195.7 L1663.3,189.9 L1662.6,193 Z" fill="#000"/><path d="M1683.3,195.7 L1674,178.7" fill="none" stroke="#000" stroke-width="0.9" stroke-linecap="butt" stroke-linejoin="round"/><path d="M1670.6,173.6 L1669.7,153.2" fill="none" stroke="#000" stroke-width="0.9" stroke-linecap="butt" stroke-linejoin="round"/><path d="M1659.5,169.4 L1669.7,164.3 L1669.7,153.2" fill="none" stroke="#000" stroke-width="0.9" stroke-linecap="butt" stroke-linejoin="round"/><path d="M1669.7,164.3 L1677.4,158.3" fill="none" stroke="#000" stroke-width="0.9" stroke-linecap="butt" stroke-linejoin="round"/><path d="M1664.6,192.3 L1671.4,207.6" fill="none" stroke="#000" stroke-width="0.9" stroke-linecap="butt" stroke-linejoin="round"/><path d="M1683.3,195.7 L1698.6,181.3" fill="none" stroke="#000" stroke-width="0.9" stroke-linecap="butt" stroke-linejoin="round"/><path d="M1705.5,181.3 L1719.1,195.7" fill="none" stroke="#000" stroke-width="0.9" stroke-linecap="butt" stroke-linejoin="round"/><path d="M1719.1,195.7 L1739.8,193 L1739.1,189.9 Z" fill="#000"/><path d="M1739.5,191.5 L1742,172.8" fill="none" stroke="#000" stroke-width="2.4" stroke-linecap="butt" stroke-linejoin="round"/><path d="M1754.8,149 L1742.4,164.2 L1745,166 Z" fill="#000"/><path d="M1719.1,195.7 L1731,177.9 L1732.7,157.5 L1754.8,149" fill="none" stroke="#000" stroke-width="0.9" stroke-linecap="butt" stroke-linejoin="round"/><path d="M1731,177.9 L1749.7,182.1" fill="none" stroke="#000" stroke-width="0.9" stroke-linecap="butt" stroke-linejoin="round"/><path d="M1739.5,191.5 L1732.7,206.8" fill="none" stroke="#000" stroke-width="0.9" stroke-linecap="butt" stroke-linejoin="round"/><path d="M1754.8,149 L1770.1,154.9" fill="none" stroke="#000" stroke-width="0.9" stroke-linecap="butt" stroke-linejoin="round"/><path d="M1776.9,154.9 L1792.2,149" fill="none" stroke="#000" stroke-width="0.9" stroke-linecap="butt" stroke-linejoin="round"/><path d="M1669.7,153.2 L1656.1,140.5" fill="none" stroke="#000" stroke-width="0.9" stroke-linecap="butt" stroke-linejoin="round"/><path d="M1732.7,157.5 L1746.3,140.5" fill="none" stroke="#000" stroke-width="0.9" stroke-linecap="butt" stroke-linejoin="round"/><text x="1625.5" y="156.8" font-size="6.6" text-anchor="middle" fill="#000">O</text><text x="1675.7" y="212.6" font-size="6.6" text-anchor="middle" fill="#000">OH</text><text x="1671.4" y="178.6" font-size="6.6" text-anchor="middle" fill="#000">O</text><text x="1682.5" y="159" font-size="6.6" text-anchor="middle" fill="#000">OH</text><text x="1702.1" y="182" font-size="6.6" text-anchor="middle" fill="#000">O</text><text x="1724.2" y="212.6" font-size="6.6" text-anchor="middle" fill="#000">OOC</text><text x="1755.6" y="184.5" font-size="6.6" text-anchor="middle" fill="#000">OH</text><text x="1742" y="170.4" font-size="6.6" text-anchor="middle" fill="#000">O</text><text x="1773.5" y="159" font-size="6.6" text-anchor="middle" fill="#000">O</text><text x="1647.6" y="142.5" font-size="6.6" text-anchor="middle" fill="#000">OOC</text><text x="1751.4" y="142.5" font-size="6.6" text-anchor="middle" fill="#000">OH</text><path d="M1753,126.9 L1769.2,117.6" fill="none" stroke="#000" stroke-width="0.9" stroke-linecap="butt" stroke-linejoin="round"/><path d="M1774.3,117.1 L1795.5,121.8 L1815.9,117.6" fill="none" stroke="#000" stroke-width="0.9" stroke-linecap="butt" stroke-linejoin="round"/><path d="M1809.1,79.3 L1805.7,101.4" fill="none" stroke="#000" stroke-width="2.4" stroke-linecap="butt" stroke-linejoin="round"/><path d="M1795.5,121.8 L1807.2,102.1 L1804.3,100.7 Z" fill="#000"/><path d="M1829.5,75.1 L1808.8,77.8 L1809.5,80.9 Z" fill="#000"/><path d="M1829.5,75.1 L1820.2,92.1" fill="none" stroke="#000" stroke-width="0.9" stroke-linecap="butt" stroke-linejoin="round"/><path d="M1816.8,97.2 L1815.9,117.6" fill="none" stroke="#000" stroke-width="0.9" stroke-linecap="butt" stroke-linejoin="round"/><path d="M1805.7,101.4 L1815.9,106.5 L1815.9,117.6" fill="none" stroke="#000" stroke-width="0.9" stroke-linecap="butt" stroke-linejoin="round"/><path d="M1815.9,106.5 L1823.6,112.5" fill="none" stroke="#000" stroke-width="0.9" stroke-linecap="butt" stroke-linejoin="round"/><path d="M1810.8,78.5 L1817.6,63.2" fill="none" stroke="#000" stroke-width="0.9" stroke-linecap="butt" stroke-linejoin="round"/><path d="M1829.5,75.1 L1844.8,89.5" fill="none" stroke="#000" stroke-width="0.9" stroke-linecap="butt" stroke-linejoin="round"/><path d="M1851.7,89.5 L1865.3,75.1" fill="none" stroke="#000" stroke-width="0.9" stroke-linecap="butt" stroke-linejoin="round"/><path d="M1865.3,75.1 L1885.3,80.9 L1886,77.8 Z" fill="#000"/><path d="M1885.7,79.3 L1888.2,98" fill="none" stroke="#000" stroke-width="2.4" stroke-linecap="butt" stroke-linejoin="round"/><path d="M1901,121.8 L1891.2,104.8 L1888.6,106.6 Z" fill="#000"/><path d="M1865.3,75.1 L1877.2,92.9 L1878.9,113.3 L1901,121.8" fill="none" stroke="#000" stroke-width="0.9" stroke-linecap="butt" stroke-linejoin="round"/><path d="M1877.2,92.9 L1895.9,88.7" fill="none" stroke="#000" stroke-width="0.9" stroke-linecap="butt" stroke-linejoin="round"/><path d="M1885.7,79.3 L1878.9,64" fill="none" stroke="#000" stroke-width="0.9" stroke-linecap="butt" stroke-linejoin="round"/><path d="M1901,121.8 L1916.3,115.9" fill="none" stroke="#000" stroke-width="0.9" stroke-linecap="butt" stroke-linejoin="round"/><path d="M1923.1,115.9 L1938.4,121.8" fill="none" stroke="#000" stroke-width="0.9" stroke-linecap="butt" stroke-linejoin="round"/><path d="M1815.9,117.6 L1802.3,130.3" fill="none" stroke="#000" stroke-width="0.9" stroke-linecap="butt" stroke-linejoin="round"/><path d="M1878.9,113.3 L1892.5,130.3" fill="none" stroke="#000" stroke-width="0.9" stroke-linecap="butt" stroke-linejoin="round"/><text x="1771.7" y="118.8" font-size="6.6" text-anchor="middle" fill="#000">O</text><text x="1821.9" y="63" font-size="6.6" text-anchor="middle" fill="#000">OH</text><text x="1817.6" y="97" font-size="6.6" text-anchor="middle" fill="#000">O</text><text x="1828.7" y="116.6" font-size="6.6" text-anchor="middle" fill="#000">OH</text><text x="1848.3" y="93.6" font-size="6.6" text-anchor="middle" fill="#000">O</text><text x="1870.4" y="63" font-size="6.6" text-anchor="middle" fill="#000">OOC</text><text x="1901.8" y="91" font-size="6.6" text-anchor="middle" fill="#000">OH</text><text x="1888.2" y="105.2" font-size="6.6" text-anchor="middle" fill="#000">O</text><text x="1919.7" y="116.6" font-size="6.6" text-anchor="middle" fill="#000">O</text><text x="1793.8" y="135.3" font-size="6.6" text-anchor="middle" fill="#000">OOC</text><text x="1897.6" y="135.3" font-size="6.6" text-anchor="middle" fill="#000">OH</text><path d="M1753,143.9 L1769.2,153.2" fill="none" stroke="#000" stroke-width="0.9" stroke-linecap="butt" stroke-linejoin="round"/><path d="M1774.3,153.7 L1795.5,149 L1815.9,153.2" fill="none" stroke="#000" stroke-width="0.9" stroke-linecap="butt" stroke-linejoin="round"/><path d="M1809.1,191.5 L1805.7,169.4" fill="none" stroke="#000" stroke-width="2.4" stroke-linecap="butt" stroke-linejoin="round"/><path d="M1795.5,149 L1804.3,170.1 L1807.2,168.7 Z" fill="#000"/><path d="M1829.5,195.7 L1809.5,189.9 L1808.8,193 Z" fill="#000"/><path d="M1829.5,195.7 L1820.2,178.7" fill="none" stroke="#000" stroke-width="0.9" stroke-linecap="butt" stroke-linejoin="round"/><path d="M1816.8,173.6 L1815.9,153.2" fill="none" stroke="#000" stroke-width="0.9" stroke-linecap="butt" stroke-linejoin="round"/><path d="M1805.7,169.4 L1815.9,164.3 L1815.9,153.2" fill="none" stroke="#000" stroke-width="0.9" stroke-linecap="butt" stroke-linejoin="round"/><path d="M1815.9,164.3 L1823.6,158.3" fill="none" stroke="#000" stroke-width="0.9" stroke-linecap="butt" stroke-linejoin="round"/><path d="M1810.8,192.3 L1817.6,207.6" fill="none" stroke="#000" stroke-width="0.9" stroke-linecap="butt" stroke-linejoin="round"/><path d="M1829.5,195.7 L1844.8,181.3" fill="none" stroke="#000" stroke-width="0.9" stroke-linecap="butt" stroke-linejoin="round"/><path d="M1851.7,181.3 L1865.3,195.7" fill="none" stroke="#000" stroke-width="0.9" stroke-linecap="butt" stroke-linejoin="round"/><path d="M1865.3,195.7 L1886,193 L1885.3,189.9 Z" fill="#000"/><path d="M1885.7,191.5 L1888.2,172.8" fill="none" stroke="#000" stroke-width="2.4" stroke-linecap="butt" stroke-linejoin="round"/><path d="M1901,149 L1888.6,164.2 L1891.2,166 Z" fill="#000"/><path d="M1865.3,195.7 L1877.2,177.9 L1878.9,157.5 L1901,149" fill="none" stroke="#000" stroke-width="0.9" stroke-linecap="butt" stroke-linejoin="round"/><path d="M1877.2,177.9 L1895.9,182.1" fill="none" stroke="#000" stroke-width="0.9" stroke-linecap="butt" stroke-linejoin="round"/><path d="M1885.7,191.5 L1878.9,206.8" fill="none" stroke="#000" stroke-width="0.9" stroke-linecap="butt" stroke-linejoin="round"/><path d="M1901,149 L1916.3,154.9" fill="none" stroke="#000" stroke-width="0.9" stroke-linecap="butt" stroke-linejoin="round"/><path d="M1923.1,154.9 L1938.4,149" fill="none" stroke="#000" stroke-width="0.9" stroke-linecap="butt" stroke-linejoin="round"/><path d="M1815.9,153.2 L1802.3,140.5" fill="none" stroke="#000" stroke-width="0.9" stroke-linecap="butt" stroke-linejoin="round"/><path d="M1878.9,157.5 L1892.5,140.5" fill="none" stroke="#000" stroke-width="0.9" stroke-linecap="butt" stroke-linejoin="round"/><text x="1771.7" y="156.8" font-size="6.6" text-anchor="middle" fill="#000">O</text><text x="1821.9" y="212.6" font-size="6.6" text-anchor="middle" fill="#000">OH</text><text x="1817.6" y="178.6" font-size="6.6" text-anchor="middle" fill="#000">O</text><text x="1828.7" y="159" font-size="6.6" text-anchor="middle" fill="#000">OH</text><text x="1848.3" y="182" font-size="6.6" text-anchor="middle" fill="#000">O</text><text x="1870.4" y="212.6" font-size="6.6" text-anchor="middle" fill="#000">OOC</text><text x="1901.8" y="184.5" font-size="6.6" text-anchor="middle" fill="#000">OH</text><text x="1888.2" y="170.4" font-size="6.6" text-anchor="middle" fill="#000">O</text><text x="1919.7" y="159" font-size="6.6" text-anchor="middle" fill="#000">O</text><text x="1793.8" y="142.5" font-size="6.6" text-anchor="middle" fill="#000">OOC</text><text x="1897.6" y="142.5" font-size="6.6" text-anchor="middle" fill="#000">OH</text><path d="M1479.3,447 L1484.1,447 Q1488.8,447 1493.8,447 L1493.8,447 Q1498.7,447 1507.7,438 L1574.6,371.2 Q1583.6,362.2 1593.3,362.2 L1593.3,362.2 Q1603,362.2 1612,371.2 L1678.8,438 Q1687.8,447 1692.8,447 L1692.8,447 Q1697.7,447 1706.7,438 L1773.5,371.2 Q1782.6,362.2 1792.2,362.2 L1792.2,362.2 Q1801.9,362.2 1811,371.2 L1877.8,438 Q1886.8,447 1891.7,447 L1891.7,447 Q1896.7,447 1902.8,447 L1908.9,447" stroke="url(#lg)" stroke-linecap="round" fill="none" stroke-width="52" stroke-linejoin="round"/><path d="M1479.3,362.2 L1481.7,362.2 Q1484.1,362.2 1493.8,362.2 L1493.8,362.2 Q1503.5,362.2 1512.5,371.2 L1579.3,438 Q1588.3,447 1593.3,447 L1593.3,447 Q1598.2,447 1607.2,438 L1674,371.2 Q1683.1,362.2 1692.8,362.2 L1692.8,362.2 Q1702.4,362.2 1711.5,371.2 L1778.3,438 Q1787.3,447 1792.2,447 L1792.2,447 Q1797.2,447 1806.2,438 L1873,371.2 Q1882,362.2 1891.7,362.2 L1891.7,362.2 Q1901.4,362.2 1905.2,362.2 L1908.9,362.2" stroke="#FFC000" stroke-linecap="round" fill="none" stroke-width="52" stroke-linejoin="round"/><path d="M1593.3,362.2 L1598.1,362.2 Q1603,362.2 1612,371.2 L1678.8,438 Q1687.8,447 1690.3,447 L1692.8,447" stroke="url(#lg)" stroke-linecap="butt" fill="none" stroke-width="52" stroke-linejoin="round"/><path d="M1792.2,362.2 L1797.1,362.2 Q1801.9,362.2 1811,371.2 L1877.8,438 Q1886.8,447 1889.3,447 L1891.7,447" stroke="url(#lg)" stroke-linecap="butt" fill="none" stroke-width="52" stroke-linejoin="round"/><circle cx="1480.5" cy="365.6" r="29.3" fill="#FFC000"/><circle cx="1907.5" cy="366.5" r="29.3" fill="#FFC000"/><circle cx="1478.5" cy="441" r="27.5" fill="#FFE69C"/><circle cx="1908" cy="442" r="28" fill="#FFE9A8"/><path d="M1591.2,384.8 L1606,399.6 L1591.2,414.4 L1576.4,399.6 Z" fill="#fff"/><path d="M1690.9,384.8 L1705.7,399.6 L1690.9,414.4 L1676.1,399.6 Z" fill="#fff"/><path d="M1790.6,384.8 L1805.4,399.6 L1790.6,414.4 L1775.8,399.6 Z" fill="#fff"/><path d="M1890.3,384.8 L1905.1,399.6 L1890.3,414.4 L1875.5,399.6 Z" fill="#fff"/><path d="M1479.3,589.9 L1484.1,589.9 Q1488.8,589.9 1493.8,589.9 L1493.8,589.9 Q1498.7,589.9 1507.7,580.9 L1574.6,514.1 Q1583.6,505.1 1593.3,505.1 L1593.3,505.1 Q1603,505.1 1612,514.1 L1678.8,580.9 Q1687.8,589.9 1692.8,589.9 L1692.8,589.9 Q1697.7,589.9 1706.7,580.9 L1773.5,514.1 Q1782.6,505.1 1792.2,505.1 L1792.2,505.1 Q1801.9,505.1 1811,514.1 L1877.8,580.9 Q1886.8,589.9 1891.7,589.9 L1891.7,589.9 Q1896.7,589.9 1902.8,589.9 L1908.9,589.9" stroke="url(#lg)" stroke-linecap="round" fill="none" stroke-width="52" stroke-linejoin="round"/><path d="M1479.3,505.1 L1481.7,505.1 Q1484.1,505.1 1493.8,505.1 L1493.8,505.1 Q1503.5,505.1 1512.5,514.1 L1579.3,580.9 Q1588.3,589.9 1593.3,589.9 L1593.3,589.9 Q1598.2,589.9 1607.2,580.9 L1674,514.1 Q1683.1,505.1 1692.8,505.1 L1692.8,505.1 Q1702.4,505.1 1711.5,514.1 L1778.3,580.9 Q1787.3,589.9 1792.2,589.9 L1792.2,589.9 Q1797.2,589.9 1806.2,580.9 L1873,514.1 Q1882,505.1 1891.7,505.1 L1891.7,505.1 Q1901.4,505.1 1905.2,505.1 L1908.9,505.1" stroke="#FFC000" stroke-linecap="round" fill="none" stroke-width="52" stroke-linejoin="round"/><path d="M1593.3,505.1 L1598.1,505.1 Q1603,505.1 1612,514.1 L1678.8,580.9 Q1687.8,589.9 1690.3,589.9 L1692.8,589.9" stroke="url(#lg)" stroke-linecap="butt" fill="none" stroke-width="52" stroke-linejoin="round"/><path d="M1792.2,505.1 L1797.1,505.1 Q1801.9,505.1 1811,514.1 L1877.8,580.9 Q1886.8,589.9 1889.3,589.9 L1891.7,589.9" stroke="url(#lg)" stroke-linecap="butt" fill="none" stroke-width="52" stroke-linejoin="round"/><circle cx="1480.5" cy="508.5" r="29.3" fill="#FFC000"/><circle cx="1907.5" cy="509.4" r="29.3" fill="#FFC000"/><circle cx="1478.5" cy="583.9" r="27.5" fill="#FFE69C"/><circle cx="1908" cy="584.9" r="28" fill="#FFE9A8"/><path d="M1591.2,527.7 L1606,542.5 L1591.2,557.3 L1576.4,542.5 Z" fill="#fff"/><path d="M1690.9,527.7 L1705.7,542.5 L1690.9,557.3 L1676.1,542.5 Z" fill="#fff"/><path d="M1790.6,527.7 L1805.4,542.5 L1790.6,557.3 L1775.8,542.5 Z" fill="#fff"/><path d="M1890.3,527.7 L1905.1,542.5 L1890.3,557.3 L1875.5,542.5 Z" fill="#fff"/><g clip-path="url(#mclip)"><path d="M1506.5,456.1 L1509.1,439.9 L1522.7,427.1 L1527.8,423.7" fill="none" stroke="#000" stroke-width="0.9" stroke-linecap="butt" stroke-linejoin="round"/><path d="M1509.1,439.9 L1525,443.6 L1525.4,439.6 Z" fill="#000"/><path d="M1525.2,441.6 L1532.2,431.4 L1528.5,429.7 Z" fill="#000"/><path d="M1525.2,441.6 L1527.8,461.2" fill="none" stroke="#000" stroke-width="0.9" stroke-linecap="butt" stroke-linejoin="round"/><path d="M1509.1,439.9 L1501.4,428.8" fill="none" stroke="#000" stroke-width="0.9" stroke-linecap="butt" stroke-linejoin="round"/><text x="1505.7" y="459.1" font-size="6.2" text-anchor="middle" fill="#000">O</text><text x="1502.3" y="432.8" font-size="6.2" text-anchor="middle" fill="#000" transform="rotate(-50 1502.3 430.5)">OOC</text><text x="1521" y="417.5" font-size="6.2" text-anchor="middle" fill="#000" transform="rotate(-50 1521 415.2)">OH</text><text x="1526.1" y="466.8" font-size="6.2" text-anchor="middle" fill="#000" transform="rotate(-50 1526.1 464.6)">HO</text><path d="M1484.4,351 L1498,354.9 L1511.6,371 L1519.3,377 L1526.9,382.9" fill="none" stroke="#000" stroke-width="0.9" stroke-linecap="butt" stroke-linejoin="round"/><path d="M1498,354.9 L1494.3,374.2 L1498.3,374.6 Z" fill="#000"/><path d="M1479.3,375.3 L1496.4,375.9 L1496.3,372.9 Z" fill="#000"/><path d="M1496.3,374.4 L1514,388 L1516.1,384.6 Z" fill="#000"/><path d="M1515,386.3 L1524,400.8 L1526.4,399 Z" fill="#000"/><path d="M1498,354.9 L1508.2,343.8" fill="none" stroke="#000" stroke-width="0.9" stroke-linecap="butt" stroke-linejoin="round"/><path d="M1511.6,371 L1525.2,369.3" fill="none" stroke="#000" stroke-width="0.9" stroke-linecap="butt" stroke-linejoin="round"/><path d="M1525.2,399.9 L1527.8,387.2" fill="none" stroke="#000" stroke-width="0.9" stroke-linecap="butt" stroke-linejoin="round"/><path d="M1525.2,399.9 L1536.3,404.2" fill="none" stroke="#000" stroke-width="0.9" stroke-linecap="butt" stroke-linejoin="round"/><path d="M1542.2,405 L1547.3,422 L1561,416.9 L1559.3,398.2" fill="none" stroke="#000" stroke-width="0.9" stroke-linecap="butt" stroke-linejoin="round"/><path d="M1547.3,422 L1564.9,437.3 L1567.2,434 Z" fill="#000"/><path d="M1566.1,435.6 L1583.1,423.7 L1561,416.9" fill="none" stroke="#000" stroke-width="0.9" stroke-linecap="butt" stroke-linejoin="round"/><path d="M1547.3,422 L1540.5,437.3" fill="none" stroke="#000" stroke-width="0.9" stroke-linecap="butt" stroke-linejoin="round"/><path d="M1566.1,435.6 L1589.9,444.1 L1594.1,454.4" fill="none" stroke="#000" stroke-width="0.9" stroke-linecap="butt" stroke-linejoin="round"/><path d="M1574.6,445.9 L1590,445.6 L1589.7,442.7 Z" fill="#000"/><path d="M1597.5,454.4 L1598.4,440.7 L1610.3,428.8 L1622.2,424.6" fill="none" stroke="#000" stroke-width="0.9" stroke-linecap="butt" stroke-linejoin="round"/><path d="M1598.4,440.7 L1614.3,444.4 L1614.7,440.5 Z" fill="#000"/><path d="M1614.5,442.4 L1624,425.4 L1620.3,423.8 Z" fill="#000"/><path d="M1614.5,442.4 L1617.1,457.8" fill="none" stroke="#000" stroke-width="0.9" stroke-linecap="butt" stroke-linejoin="round"/><text x="1481.9" y="353.2" font-size="6.2" text-anchor="middle" fill="#000">O</text><text x="1512.5" y="350.3" font-size="6.2" text-anchor="middle" fill="#000" transform="rotate(40 1512.5 348.1)">OOC</text><text x="1475.1" y="375.3" font-size="6.2" text-anchor="middle" fill="#000" transform="rotate(40 1475.1 373.1)">HO</text><text x="1527.8" y="371.6" font-size="6.2" text-anchor="middle" fill="#000" transform="rotate(-40 1527.8 369.3)">OH</text><text x="1528.6" y="383.5" font-size="6.2" text-anchor="middle" fill="#000">O</text><text x="1538.8" y="406.4" font-size="6.2" text-anchor="middle" fill="#000">O</text><text x="1555" y="397.1" font-size="6.2" text-anchor="middle" fill="#000" transform="rotate(50 1555 394.8)">HO</text><text x="1538" y="436.2" font-size="6.2" text-anchor="middle" fill="#000" transform="rotate(40 1538 433.9)">OOC</text><text x="1560.1" y="448.9" font-size="6.2" text-anchor="middle" fill="#000" transform="rotate(-50 1560.1 446.7)">OH</text><text x="1571.2" y="448.9" font-size="6.2" text-anchor="middle" fill="#000">O</text><text x="1594.6" y="459.1" font-size="6.2" text-anchor="middle" fill="#000">O</text><text x="1592.4" y="432.8" font-size="6.2" text-anchor="middle" fill="#000" transform="rotate(-50 1592.4 430.5)">OOC</text><text x="1610.3" y="418.3" font-size="6.2" text-anchor="middle" fill="#000" transform="rotate(-50 1610.3 416.1)">OH</text><text x="1616.2" y="465.1" font-size="6.2" text-anchor="middle" fill="#000" transform="rotate(-50 1616.2 462.9)">HO</text><path d="M1683.4,351 L1697,354.9 L1710.6,371 L1718.3,377 L1725.9,382.9" fill="none" stroke="#000" stroke-width="0.9" stroke-linecap="butt" stroke-linejoin="round"/><path d="M1697,354.9 L1693.3,374.2 L1697.3,374.6 Z" fill="#000"/><path d="M1678.3,375.3 L1695.4,375.9 L1695.2,372.9 Z" fill="#000"/><path d="M1695.3,374.4 L1712.9,388 L1715.1,384.6 Z" fill="#000"/><path d="M1714,386.3 L1723,400.8 L1725.4,399 Z" fill="#000"/><path d="M1697,354.9 L1707.2,343.8" fill="none" stroke="#000" stroke-width="0.9" stroke-linecap="butt" stroke-linejoin="round"/><path d="M1710.6,371 L1724.2,369.3" fill="none" stroke="#000" stroke-width="0.9" stroke-linecap="butt" stroke-linejoin="round"/><path d="M1724.2,399.9 L1726.8,387.2" fill="none" stroke="#000" stroke-width="0.9" stroke-linecap="butt" stroke-linejoin="round"/><path d="M1724.2,399.9 L1735.3,404.2" fill="none" stroke="#000" stroke-width="0.9" stroke-linecap="butt" stroke-linejoin="round"/><path d="M1741.2,405 L1746.3,422 L1759.9,416.9 L1758.2,398.2" fill="none" stroke="#000" stroke-width="0.9" stroke-linecap="butt" stroke-linejoin="round"/><path d="M1746.3,422 L1763.9,437.3 L1766.2,434 Z" fill="#000"/><path d="M1765,435.6 L1782,423.7 L1759.9,416.9" fill="none" stroke="#000" stroke-width="0.9" stroke-linecap="butt" stroke-linejoin="round"/><path d="M1746.3,422 L1739.5,437.3" fill="none" stroke="#000" stroke-width="0.9" stroke-linecap="butt" stroke-linejoin="round"/><path d="M1765,435.6 L1788.8,444.1 L1793.1,454.4" fill="none" stroke="#000" stroke-width="0.9" stroke-linecap="butt" stroke-linejoin="round"/><path d="M1773.5,445.9 L1789,445.6 L1788.7,442.7 Z" fill="#000"/><path d="M1796.5,454.4 L1797.3,440.7 L1809.3,428.8 L1821.2,424.6" fill="none" stroke="#000" stroke-width="0.9" stroke-linecap="butt" stroke-linejoin="round"/><path d="M1797.3,440.7 L1813.3,444.4 L1813.7,440.5 Z" fill="#000"/><path d="M1813.5,442.4 L1823,425.4 L1819.3,423.8 Z" fill="#000"/><path d="M1813.5,442.4 L1816.1,457.8" fill="none" stroke="#000" stroke-width="0.9" stroke-linecap="butt" stroke-linejoin="round"/><text x="1680.9" y="353.2" font-size="6.2" text-anchor="middle" fill="#000">O</text><text x="1711.5" y="350.3" font-size="6.2" text-anchor="middle" fill="#000" transform="rotate(40 1711.5 348.1)">OOC</text><text x="1674" y="375.3" font-size="6.2" text-anchor="middle" fill="#000" transform="rotate(40 1674 373.1)">HO</text><text x="1726.8" y="371.6" font-size="6.2" text-anchor="middle" fill="#000" transform="rotate(-40 1726.8 369.3)">OH</text><text x="1727.6" y="383.5" font-size="6.2" text-anchor="middle" fill="#000">O</text><text x="1737.8" y="406.4" font-size="6.2" text-anchor="middle" fill="#000">O</text><text x="1754" y="397.1" font-size="6.2" text-anchor="middle" fill="#000" transform="rotate(50 1754 394.8)">HO</text><text x="1737" y="436.2" font-size="6.2" text-anchor="middle" fill="#000" transform="rotate(40 1737 433.9)">OOC</text><text x="1759.1" y="448.9" font-size="6.2" text-anchor="middle" fill="#000" transform="rotate(-50 1759.1 446.7)">OH</text><text x="1770.1" y="448.9" font-size="6.2" text-anchor="middle" fill="#000">O</text><text x="1793.6" y="459.1" font-size="6.2" text-anchor="middle" fill="#000">O</text><text x="1791.4" y="432.8" font-size="6.2" text-anchor="middle" fill="#000" transform="rotate(-50 1791.4 430.5)">OOC</text><text x="1809.3" y="418.3" font-size="6.2" text-anchor="middle" fill="#000" transform="rotate(-50 1809.3 416.1)">OH</text><text x="1815.2" y="465.1" font-size="6.2" text-anchor="middle" fill="#000" transform="rotate(-50 1815.2 462.9)">HO</text><path d="M1882.4,351 L1896,354.9 L1909.6,371 L1917.2,377 L1924.9,382.9" fill="none" stroke="#000" stroke-width="0.9" stroke-linecap="butt" stroke-linejoin="round"/><path d="M1896,354.9 L1892.3,374.2 L1896.3,374.6 Z" fill="#000"/><path d="M1877.3,375.3 L1894.4,375.9 L1894.2,372.9 Z" fill="#000"/><path d="M1894.3,374.4 L1911.9,388 L1914.1,384.6 Z" fill="#000"/><path d="M1913,386.3 L1922,400.8 L1924.4,399 Z" fill="#000"/><path d="M1896,354.9 L1906.2,343.8" fill="none" stroke="#000" stroke-width="0.9" stroke-linecap="butt" stroke-linejoin="round"/><path d="M1909.6,371 L1923.2,369.3" fill="none" stroke="#000" stroke-width="0.9" stroke-linecap="butt" stroke-linejoin="round"/><path d="M1923.2,399.9 L1925.7,387.2" fill="none" stroke="#000" stroke-width="0.9" stroke-linecap="butt" stroke-linejoin="round"/><path d="M1923.2,399.9 L1934.3,404.2" fill="none" stroke="#000" stroke-width="0.9" stroke-linecap="butt" stroke-linejoin="round"/><path d="M1940.2,405 L1945.3,422 L1958.9,416.9 L1957.2,398.2" fill="none" stroke="#000" stroke-width="0.9" stroke-linecap="butt" stroke-linejoin="round"/><path d="M1945.3,422 L1962.8,437.3 L1965.2,434 Z" fill="#000"/><path d="M1964,435.6 L1981,423.7 L1958.9,416.9" fill="none" stroke="#000" stroke-width="0.9" stroke-linecap="butt" stroke-linejoin="round"/><path d="M1945.3,422 L1938.5,437.3" fill="none" stroke="#000" stroke-width="0.9" stroke-linecap="butt" stroke-linejoin="round"/><path d="M1964,435.6 L1987.8,444.1 L1992.1,454.4" fill="none" stroke="#000" stroke-width="0.9" stroke-linecap="butt" stroke-linejoin="round"/><path d="M1972.5,445.9 L1988,445.6 L1987.7,442.7 Z" fill="#000"/><path d="M1995.5,454.4 L1996.3,440.7 L2008.2,428.8 L2020.1,424.6" fill="none" stroke="#000" stroke-width="0.9" stroke-linecap="butt" stroke-linejoin="round"/><path d="M1996.3,440.7 L2012.3,444.4 L2012.7,440.5 Z" fill="#000"/><path d="M2012.5,442.4 L2022,425.4 L2018.3,423.8 Z" fill="#000"/><path d="M2012.5,442.4 L2015,457.8" fill="none" stroke="#000" stroke-width="0.9" stroke-linecap="butt" stroke-linejoin="round"/><text x="1879.8" y="353.2" font-size="6.2" text-anchor="middle" fill="#000">O</text><text x="1910.4" y="350.3" font-size="6.2" text-anchor="middle" fill="#000" transform="rotate(40 1910.4 348.1)">OOC</text><text x="1873" y="375.3" font-size="6.2" text-anchor="middle" fill="#000" transform="rotate(40 1873 373.1)">HO</text><text x="1925.7" y="371.6" font-size="6.2" text-anchor="middle" fill="#000" transform="rotate(-40 1925.7 369.3)">OH</text><text x="1926.6" y="383.5" font-size="6.2" text-anchor="middle" fill="#000">O</text><text x="1936.8" y="406.4" font-size="6.2" text-anchor="middle" fill="#000">O</text><text x="1953" y="397.1" font-size="6.2" text-anchor="middle" fill="#000" transform="rotate(50 1953 394.8)">HO</text><text x="1936" y="436.2" font-size="6.2" text-anchor="middle" fill="#000" transform="rotate(40 1936 433.9)">OOC</text><text x="1958.1" y="448.9" font-size="6.2" text-anchor="middle" fill="#000" transform="rotate(-50 1958.1 446.7)">OH</text><text x="1969.1" y="448.9" font-size="6.2" text-anchor="middle" fill="#000">O</text><text x="1992.6" y="459.1" font-size="6.2" text-anchor="middle" fill="#000">O</text><text x="1990.4" y="432.8" font-size="6.2" text-anchor="middle" fill="#000" transform="rotate(-50 1990.4 430.5)">OOC</text><text x="2008.2" y="418.3" font-size="6.2" text-anchor="middle" fill="#000" transform="rotate(-50 2008.2 416.1)">OH</text><text x="2014.2" y="465.1" font-size="6.2" text-anchor="middle" fill="#000" transform="rotate(-50 2014.2 462.9)">HO</text><path d="M1561,380.4 L1579.7,360 L1589.9,352.3" fill="none" stroke="#000" stroke-width="0.9" stroke-linecap="butt" stroke-linejoin="round"/><path d="M1595.8,352 L1609.4,356.6 L1618.8,371 L1629,376.1" fill="none" stroke="#000" stroke-width="0.9" stroke-linecap="butt" stroke-linejoin="round"/><path d="M1579.7,360 L1583.9,372 L1587.4,370.1 Z" fill="#000"/><path d="M1609.4,356.6 L1603.2,372.2 L1607.1,373.2 Z" fill="#000"/><path d="M1605.2,372.7 L1619.4,386.8 L1621.6,384.1 Z" fill="#000"/><path d="M1620.5,385.5 L1629.5,400.8 L1631.9,399.1 Z" fill="#000"/><path d="M1591.6,372.7 L1605.2,372.7" fill="none" stroke="#000" stroke-width="0.9" stroke-linecap="butt" stroke-linejoin="round"/><path d="M1609.4,356.6 L1621.3,350.6" fill="none" stroke="#000" stroke-width="0.9" stroke-linecap="butt" stroke-linejoin="round"/><path d="M1630.7,399.9 L1633.2,383.8" fill="none" stroke="#000" stroke-width="0.9" stroke-linecap="butt" stroke-linejoin="round"/><path d="M1569.5,388 L1578,399.1" fill="none" stroke="#000" stroke-width="0.9" stroke-linecap="butt" stroke-linejoin="round"/><path d="M1578,377.8 L1568.1,386.9 L1570.8,389.1 Z" fill="#000"/><path d="M1630.7,399.9 L1640.9,403.3" fill="none" stroke="#000" stroke-width="0.9" stroke-linecap="butt" stroke-linejoin="round"/><path d="M1646,405 L1647.7,418.6 L1663,415.2 L1660.4,394.8" fill="none" stroke="#000" stroke-width="0.9" stroke-linecap="butt" stroke-linejoin="round"/><path d="M1647.7,418.6 L1665,437.1 L1667.7,434.2 Z" fill="#000"/><path d="M1666.4,435.6 L1681.7,425.4 L1663,415.2" fill="none" stroke="#000" stroke-width="0.9" stroke-linecap="butt" stroke-linejoin="round"/><path d="M1647.7,418.6 L1642.6,430.5" fill="none" stroke="#000" stroke-width="0.9" stroke-linecap="butt" stroke-linejoin="round"/><path d="M1666.4,435.6 L1686.8,442.4 L1692.8,453.5" fill="none" stroke="#000" stroke-width="0.9" stroke-linecap="butt" stroke-linejoin="round"/><path d="M1673.2,445 L1687.1,443.9 L1686.5,441 Z" fill="#000"/><path d="M1694.5,453.5 L1698.7,437.3 L1710.6,427.1 L1722.5,422" fill="none" stroke="#000" stroke-width="0.9" stroke-linecap="butt" stroke-linejoin="round"/><path d="M1698.7,437.3 L1713.5,443.5 L1714.5,439.7 Z" fill="#000"/><path d="M1714,441.6 L1724.4,422.8 L1720.7,421.2 Z" fill="#000"/><path d="M1714,441.6 L1715.7,457.8" fill="none" stroke="#000" stroke-width="0.9" stroke-linecap="butt" stroke-linejoin="round"/><text x="1592.9" y="353.2" font-size="6.2" text-anchor="middle" fill="#000">O</text><text x="1621.3" y="352" font-size="6.2" text-anchor="middle" fill="#000" transform="rotate(50 1621.3 349.8)">OOC</text><text x="1635.8" y="374.1" font-size="6.2" text-anchor="middle" fill="#000" transform="rotate(-50 1635.8 371.9)">OH</text><text x="1634.1" y="383.5" font-size="6.2" text-anchor="middle" fill="#000">O</text><text x="1586.5" y="383.5" font-size="6.2" text-anchor="middle" fill="#000" transform="rotate(-50 1586.5 381.2)">OH</text><text x="1643.4" y="406.4" font-size="6.2" text-anchor="middle" fill="#000">O</text><text x="1657.9" y="397.1" font-size="6.2" text-anchor="middle" fill="#000" transform="rotate(50 1657.9 394.8)">HO</text><text x="1640" y="431.1" font-size="6.2" text-anchor="middle" fill="#000" transform="rotate(40 1640 428.8)">OOC</text><text x="1662.1" y="447.2" font-size="6.2" text-anchor="middle" fill="#000" transform="rotate(-50 1662.1 445)">OH</text><text x="1670.6" y="447.2" font-size="6.2" text-anchor="middle" fill="#000">O</text><text x="1693.3" y="457.8" font-size="6.2" text-anchor="middle" fill="#000">O</text><text x="1692.8" y="431.1" font-size="6.2" text-anchor="middle" fill="#000" transform="rotate(-50 1692.8 428.8)">OOC</text><text x="1714" y="463.4" font-size="6.2" text-anchor="middle" fill="#000" transform="rotate(-50 1714 461.2)">HO</text><path d="M1759.9,380.4 L1778.6,360 L1788.8,352.3" fill="none" stroke="#000" stroke-width="0.9" stroke-linecap="butt" stroke-linejoin="round"/><path d="M1794.8,352 L1808.4,356.6 L1817.8,371 L1828,376.1" fill="none" stroke="#000" stroke-width="0.9" stroke-linecap="butt" stroke-linejoin="round"/><path d="M1778.6,360 L1782.8,372 L1786.4,370.1 Z" fill="#000"/><path d="M1808.4,356.6 L1802.2,372.2 L1806.1,373.2 Z" fill="#000"/><path d="M1804.1,372.7 L1818.3,386.8 L1820.6,384.1 Z" fill="#000"/><path d="M1819.5,385.5 L1828.4,400.8 L1830.9,399.1 Z" fill="#000"/><path d="M1790.5,372.7 L1804.1,372.7" fill="none" stroke="#000" stroke-width="0.9" stroke-linecap="butt" stroke-linejoin="round"/><path d="M1808.4,356.6 L1820.3,350.6" fill="none" stroke="#000" stroke-width="0.9" stroke-linecap="butt" stroke-linejoin="round"/><path d="M1829.7,399.9 L1832.2,383.8" fill="none" stroke="#000" stroke-width="0.9" stroke-linecap="butt" stroke-linejoin="round"/><path d="M1768.4,388 L1776.9,399.1" fill="none" stroke="#000" stroke-width="0.9" stroke-linecap="butt" stroke-linejoin="round"/><path d="M1776.9,377.8 L1767.1,386.9 L1769.8,389.1 Z" fill="#000"/><path d="M1829.7,399.9 L1839.9,403.3" fill="none" stroke="#000" stroke-width="0.9" stroke-linecap="butt" stroke-linejoin="round"/><path d="M1845,405 L1846.7,418.6 L1862,415.2 L1859.4,394.8" fill="none" stroke="#000" stroke-width="0.9" stroke-linecap="butt" stroke-linejoin="round"/><path d="M1846.7,418.6 L1864,437.1 L1866.7,434.2 Z" fill="#000"/><path d="M1865.4,435.6 L1880.7,425.4 L1862,415.2" fill="none" stroke="#000" stroke-width="0.9" stroke-linecap="butt" stroke-linejoin="round"/><path d="M1846.7,418.6 L1841.6,430.5" fill="none" stroke="#000" stroke-width="0.9" stroke-linecap="butt" stroke-linejoin="round"/><path d="M1865.4,435.6 L1885.8,442.4 L1891.7,453.5" fill="none" stroke="#000" stroke-width="0.9" stroke-linecap="butt" stroke-linejoin="round"/><path d="M1872.2,445 L1886.1,443.9 L1885.5,441 Z" fill="#000"/><path d="M1893.4,453.5 L1897.7,437.3 L1909.6,427.1 L1921.5,422" fill="none" stroke="#000" stroke-width="0.9" stroke-linecap="butt" stroke-linejoin="round"/><path d="M1897.7,437.3 L1912.5,443.5 L1913.5,439.7 Z" fill="#000"/><path d="M1913,441.6 L1923.3,422.8 L1919.7,421.2 Z" fill="#000"/><path d="M1913,441.6 L1914.7,457.8" fill="none" stroke="#000" stroke-width="0.9" stroke-linecap="butt" stroke-linejoin="round"/><text x="1791.9" y="353.2" font-size="6.2" text-anchor="middle" fill="#000">O</text><text x="1820.3" y="352" font-size="6.2" text-anchor="middle" fill="#000" transform="rotate(50 1820.3 349.8)">OOC</text><text x="1834.8" y="374.1" font-size="6.2" text-anchor="middle" fill="#000" transform="rotate(-50 1834.8 371.9)">OH</text><text x="1833.1" y="383.5" font-size="6.2" text-anchor="middle" fill="#000">O</text><text x="1785.4" y="383.5" font-size="6.2" text-anchor="middle" fill="#000" transform="rotate(-50 1785.4 381.2)">OH</text><text x="1842.4" y="406.4" font-size="6.2" text-anchor="middle" fill="#000">O</text><text x="1856.9" y="397.1" font-size="6.2" text-anchor="middle" fill="#000" transform="rotate(50 1856.9 394.8)">HO</text><text x="1839" y="431.1" font-size="6.2" text-anchor="middle" fill="#000" transform="rotate(40 1839 428.8)">OOC</text><text x="1861.1" y="447.2" font-size="6.2" text-anchor="middle" fill="#000" transform="rotate(-50 1861.1 445)">OH</text><text x="1869.6" y="447.2" font-size="6.2" text-anchor="middle" fill="#000">O</text><text x="1892.2" y="457.8" font-size="6.2" text-anchor="middle" fill="#000">O</text><text x="1891.7" y="431.1" font-size="6.2" text-anchor="middle" fill="#000" transform="rotate(-50 1891.7 428.8)">OOC</text><text x="1913" y="463.4" font-size="6.2" text-anchor="middle" fill="#000" transform="rotate(-50 1913 461.2)">HO</text></g><g clip-path="url(#mclip)"><path d="M1506.5,599 L1509.1,582.8 L1522.7,570 L1527.8,566.6" fill="none" stroke="#000" stroke-width="0.9" stroke-linecap="butt" stroke-linejoin="round"/><path d="M1509.1,582.8 L1525,586.5 L1525.4,582.5 Z" fill="#000"/><path d="M1525.2,584.5 L1532.2,574.3 L1528.5,572.6 Z" fill="#000"/><path d="M1525.2,584.5 L1527.8,604.1" fill="none" stroke="#000" stroke-width="0.9" stroke-linecap="butt" stroke-linejoin="round"/><path d="M1509.1,582.8 L1501.4,571.7" fill="none" stroke="#000" stroke-width="0.9" stroke-linecap="butt" stroke-linejoin="round"/><text x="1505.7" y="602" font-size="6.2" text-anchor="middle" fill="#000">O</text><text x="1502.3" y="575.7" font-size="6.2" text-anchor="middle" fill="#000" transform="rotate(-50 1502.3 573.4)">OOC</text><text x="1521" y="560.4" font-size="6.2" text-anchor="middle" fill="#000" transform="rotate(-50 1521 558.1)">OH</text><text x="1526.1" y="609.7" font-size="6.2" text-anchor="middle" fill="#000" transform="rotate(-50 1526.1 607.5)">HO</text><path d="M1484.4,493.9 L1498,497.8 L1511.6,513.9 L1519.3,519.9 L1526.9,525.8" fill="none" stroke="#000" stroke-width="0.9" stroke-linecap="butt" stroke-linejoin="round"/><path d="M1498,497.8 L1494.3,517.1 L1498.3,517.5 Z" fill="#000"/><path d="M1479.3,518.2 L1496.4,518.8 L1496.3,515.8 Z" fill="#000"/><path d="M1496.3,517.3 L1514,530.9 L1516.1,527.5 Z" fill="#000"/><path d="M1515,529.2 L1524,543.7 L1526.4,541.9 Z" fill="#000"/><path d="M1498,497.8 L1508.2,486.7" fill="none" stroke="#000" stroke-width="0.9" stroke-linecap="butt" stroke-linejoin="round"/><path d="M1511.6,513.9 L1525.2,512.2" fill="none" stroke="#000" stroke-width="0.9" stroke-linecap="butt" stroke-linejoin="round"/><path d="M1525.2,542.8 L1527.8,530.1" fill="none" stroke="#000" stroke-width="0.9" stroke-linecap="butt" stroke-linejoin="round"/><path d="M1525.2,542.8 L1536.3,547.1" fill="none" stroke="#000" stroke-width="0.9" stroke-linecap="butt" stroke-linejoin="round"/><path d="M1542.2,547.9 L1547.3,564.9 L1561,559.8 L1559.3,541.1" fill="none" stroke="#000" stroke-width="0.9" stroke-linecap="butt" stroke-linejoin="round"/><path d="M1547.3,564.9 L1564.9,580.2 L1567.2,576.9 Z" fill="#000"/><path d="M1566.1,578.5 L1583.1,566.6 L1561,559.8" fill="none" stroke="#000" stroke-width="0.9" stroke-linecap="butt" stroke-linejoin="round"/><path d="M1547.3,564.9 L1540.5,580.2" fill="none" stroke="#000" stroke-width="0.9" stroke-linecap="butt" stroke-linejoin="round"/><path d="M1566.1,578.5 L1589.9,587 L1594.1,597.3" fill="none" stroke="#000" stroke-width="0.9" stroke-linecap="butt" stroke-linejoin="round"/><path d="M1574.6,588.8 L1590,588.5 L1589.7,585.6 Z" fill="#000"/><path d="M1597.5,597.3 L1598.4,583.6 L1610.3,571.7 L1622.2,567.5" fill="none" stroke="#000" stroke-width="0.9" stroke-linecap="butt" stroke-linejoin="round"/><path d="M1598.4,583.6 L1614.3,587.3 L1614.7,583.4 Z" fill="#000"/><path d="M1614.5,585.3 L1624,568.3 L1620.3,566.7 Z" fill="#000"/><path d="M1614.5,585.3 L1617.1,600.7" fill="none" stroke="#000" stroke-width="0.9" stroke-linecap="butt" stroke-linejoin="round"/><text x="1481.9" y="496.1" font-size="6.2" text-anchor="middle" fill="#000">O</text><text x="1512.5" y="493.2" font-size="6.2" text-anchor="middle" fill="#000" transform="rotate(40 1512.5 491)">OOC</text><text x="1475.1" y="518.2" font-size="6.2" text-anchor="middle" fill="#000" transform="rotate(40 1475.1 516)">HO</text><text x="1527.8" y="514.5" font-size="6.2" text-anchor="middle" fill="#000" transform="rotate(-40 1527.8 512.2)">OH</text><text x="1528.6" y="526.4" font-size="6.2" text-anchor="middle" fill="#000">O</text><text x="1538.8" y="549.3" font-size="6.2" text-anchor="middle" fill="#000">O</text><text x="1555" y="540" font-size="6.2" text-anchor="middle" fill="#000" transform="rotate(50 1555 537.7)">HO</text><text x="1538" y="579.1" font-size="6.2" text-anchor="middle" fill="#000" transform="rotate(40 1538 576.8)">OOC</text><text x="1560.1" y="591.8" font-size="6.2" text-anchor="middle" fill="#000" transform="rotate(-50 1560.1 589.6)">OH</text><text x="1571.2" y="591.8" font-size="6.2" text-anchor="middle" fill="#000">O</text><text x="1594.6" y="602" font-size="6.2" text-anchor="middle" fill="#000">O</text><text x="1592.4" y="575.7" font-size="6.2" text-anchor="middle" fill="#000" transform="rotate(-50 1592.4 573.4)">OOC</text><text x="1610.3" y="561.2" font-size="6.2" text-anchor="middle" fill="#000" transform="rotate(-50 1610.3 559)">OH</text><text x="1616.2" y="608" font-size="6.2" text-anchor="middle" fill="#000" transform="rotate(-50 1616.2 605.8)">HO</text><path d="M1683.4,493.9 L1697,497.8 L1710.6,513.9 L1718.3,519.9 L1725.9,525.8" fill="none" stroke="#000" stroke-width="0.9" stroke-linecap="butt" stroke-linejoin="round"/><path d="M1697,497.8 L1693.3,517.1 L1697.3,517.5 Z" fill="#000"/><path d="M1678.3,518.2 L1695.4,518.8 L1695.2,515.8 Z" fill="#000"/><path d="M1695.3,517.3 L1712.9,530.9 L1715.1,527.5 Z" fill="#000"/><path d="M1714,529.2 L1723,543.7 L1725.4,541.9 Z" fill="#000"/><path d="M1697,497.8 L1707.2,486.7" fill="none" stroke="#000" stroke-width="0.9" stroke-linecap="butt" stroke-linejoin="round"/><path d="M1710.6,513.9 L1724.2,512.2" fill="none" stroke="#000" stroke-width="0.9" stroke-linecap="butt" stroke-linejoin="round"/><path d="M1724.2,542.8 L1726.8,530.1" fill="none" stroke="#000" stroke-width="0.9" stroke-linecap="butt" stroke-linejoin="round"/><path d="M1724.2,542.8 L1735.3,547.1" fill="none" stroke="#000" stroke-width="0.9" stroke-linecap="butt" stroke-linejoin="round"/><path d="M1741.2,547.9 L1746.3,564.9 L1759.9,559.8 L1758.2,541.1" fill="none" stroke="#000" stroke-width="0.9" stroke-linecap="butt" stroke-linejoin="round"/><path d="M1746.3,564.9 L1763.9,580.2 L1766.2,576.9 Z" fill="#000"/><path d="M1765,578.5 L1782,566.6 L1759.9,559.8" fill="none" stroke="#000" stroke-width="0.9" stroke-linecap="butt" stroke-linejoin="round"/><path d="M1746.3,564.9 L1739.5,580.2" fill="none" stroke="#000" stroke-width="0.9" stroke-linecap="butt" stroke-linejoin="round"/><path d="M1765,578.5 L1788.8,587 L1793.1,597.3" fill="none" stroke="#000" stroke-width="0.9" stroke-linecap="butt" stroke-linejoin="round"/><path d="M1773.5,588.8 L1789,588.5 L1788.7,585.6 Z" fill="#000"/><path d="M1796.5,597.3 L1797.3,583.6 L1809.3,571.7 L1821.2,567.5" fill="none" stroke="#000" stroke-width="0.9" stroke-linecap="butt" stroke-linejoin="round"/><path d="M1797.3,583.6 L1813.3,587.3 L1813.7,583.4 Z" fill="#000"/><path d="M1813.5,585.3 L1823,568.3 L1819.3,566.7 Z" fill="#000"/><path d="M1813.5,585.3 L1816.1,600.7" fill="none" stroke="#000" stroke-width="0.9" stroke-linecap="butt" stroke-linejoin="round"/><text x="1680.9" y="496.1" font-size="6.2" text-anchor="middle" fill="#000">O</text><text x="1711.5" y="493.2" font-size="6.2" text-anchor="middle" fill="#000" transform="rotate(40 1711.5 491)">OOC</text><text x="1674" y="518.2" font-size="6.2" text-anchor="middle" fill="#000" transform="rotate(40 1674 516)">HO</text><text x="1726.8" y="514.5" font-size="6.2" text-anchor="middle" fill="#000" transform="rotate(-40 1726.8 512.2)">OH</text><text x="1727.6" y="526.4" font-size="6.2" text-anchor="middle" fill="#000">O</text><text x="1737.8" y="549.3" font-size="6.2" text-anchor="middle" fill="#000">O</text><text x="1754" y="540" font-size="6.2" text-anchor="middle" fill="#000" transform="rotate(50 1754 537.7)">HO</text><text x="1737" y="579.1" font-size="6.2" text-anchor="middle" fill="#000" transform="rotate(40 1737 576.8)">OOC</text><text x="1759.1" y="591.8" font-size="6.2" text-anchor="middle" fill="#000" transform="rotate(-50 1759.1 589.6)">OH</text><text x="1770.1" y="591.8" font-size="6.2" text-anchor="middle" fill="#000">O</text><text x="1793.6" y="602" font-size="6.2" text-anchor="middle" fill="#000">O</text><text x="1791.4" y="575.7" font-size="6.2" text-anchor="middle" fill="#000" transform="rotate(-50 1791.4 573.4)">OOC</text><text x="1809.3" y="561.2" font-size="6.2" text-anchor="middle" fill="#000" transform="rotate(-50 1809.3 559)">OH</text><text x="1815.2" y="608" font-size="6.2" text-anchor="middle" fill="#000" transform="rotate(-50 1815.2 605.8)">HO</text><path d="M1882.4,493.9 L1896,497.8 L1909.6,513.9 L1917.2,519.9 L1924.9,525.8" fill="none" stroke="#000" stroke-width="0.9" stroke-linecap="butt" stroke-linejoin="round"/><path d="M1896,497.8 L1892.3,517.1 L1896.3,517.5 Z" fill="#000"/><path d="M1877.3,518.2 L1894.4,518.8 L1894.2,515.8 Z" fill="#000"/><path d="M1894.3,517.3 L1911.9,530.9 L1914.1,527.5 Z" fill="#000"/><path d="M1913,529.2 L1922,543.7 L1924.4,541.9 Z" fill="#000"/><path d="M1896,497.8 L1906.2,486.7" fill="none" stroke="#000" stroke-width="0.9" stroke-linecap="butt" stroke-linejoin="round"/><path d="M1909.6,513.9 L1923.2,512.2" fill="none" stroke="#000" stroke-width="0.9" stroke-linecap="butt" stroke-linejoin="round"/><path d="M1923.2,542.8 L1925.7,530.1" fill="none" stroke="#000" stroke-width="0.9" stroke-linecap="butt" stroke-linejoin="round"/><path d="M1923.2,542.8 L1934.3,547.1" fill="none" stroke="#000" stroke-width="0.9" stroke-linecap="butt" stroke-linejoin="round"/><path d="M1940.2,547.9 L1945.3,564.9 L1958.9,559.8 L1957.2,541.1" fill="none" stroke="#000" stroke-width="0.9" stroke-linecap="butt" stroke-linejoin="round"/><path d="M1945.3,564.9 L1962.8,580.2 L1965.2,576.9 Z" fill="#000"/><path d="M1964,578.5 L1981,566.6 L1958.9,559.8" fill="none" stroke="#000" stroke-width="0.9" stroke-linecap="butt" stroke-linejoin="round"/><path d="M1945.3,564.9 L1938.5,580.2" fill="none" stroke="#000" stroke-width="0.9" stroke-linecap="butt" stroke-linejoin="round"/><path d="M1964,578.5 L1987.8,587 L1992.1,597.3" fill="none" stroke="#000" stroke-width="0.9" stroke-linecap="butt" stroke-linejoin="round"/><path d="M1972.5,588.8 L1988,588.5 L1987.7,585.6 Z" fill="#000"/><path d="M1995.5,597.3 L1996.3,583.6 L2008.2,571.7 L2020.1,567.5" fill="none" stroke="#000" stroke-width="0.9" stroke-linecap="butt" stroke-linejoin="round"/><path d="M1996.3,583.6 L2012.3,587.3 L2012.7,583.4 Z" fill="#000"/><path d="M2012.5,585.3 L2022,568.3 L2018.3,566.7 Z" fill="#000"/><path d="M2012.5,585.3 L2015,600.7" fill="none" stroke="#000" stroke-width="0.9" stroke-linecap="butt" stroke-linejoin="round"/><text x="1879.8" y="496.1" font-size="6.2" text-anchor="middle" fill="#000">O</text><text x="1910.4" y="493.2" font-size="6.2" text-anchor="middle" fill="#000" transform="rotate(40 1910.4 491)">OOC</text><text x="1873" y="518.2" font-size="6.2" text-anchor="middle" fill="#000" transform="rotate(40 1873 516)">HO</text><text x="1925.7" y="514.5" font-size="6.2" text-anchor="middle" fill="#000" transform="rotate(-40 1925.7 512.2)">OH</text><text x="1926.6" y="526.4" font-size="6.2" text-anchor="middle" fill="#000">O</text><text x="1936.8" y="549.3" font-size="6.2" text-anchor="middle" fill="#000">O</text><text x="1953" y="540" font-size="6.2" text-anchor="middle" fill="#000" transform="rotate(50 1953 537.7)">HO</text><text x="1936" y="579.1" font-size="6.2" text-anchor="middle" fill="#000" transform="rotate(40 1936 576.8)">OOC</text><text x="1958.1" y="591.8" font-size="6.2" text-anchor="middle" fill="#000" transform="rotate(-50 1958.1 589.6)">OH</text><text x="1969.1" y="591.8" font-size="6.2" text-anchor="middle" fill="#000">O</text><text x="1992.6" y="602" font-size="6.2" text-anchor="middle" fill="#000">O</text><text x="1990.4" y="575.7" font-size="6.2" text-anchor="middle" fill="#000" transform="rotate(-50 1990.4 573.4)">OOC</text><text x="2008.2" y="561.2" font-size="6.2" text-anchor="middle" fill="#000" transform="rotate(-50 2008.2 559)">OH</text><text x="2014.2" y="608" font-size="6.2" text-anchor="middle" fill="#000" transform="rotate(-50 2014.2 605.8)">HO</text><path d="M1561,523.3 L1579.7,502.9 L1589.9,495.2" fill="none" stroke="#000" stroke-width="0.9" stroke-linecap="butt" stroke-linejoin="round"/><path d="M1595.8,494.9 L1609.4,499.5 L1618.8,513.9 L1629,519" fill="none" stroke="#000" stroke-width="0.9" stroke-linecap="butt" stroke-linejoin="round"/><path d="M1579.7,502.9 L1583.9,514.9 L1587.4,513 Z" fill="#000"/><path d="M1609.4,499.5 L1603.2,515.1 L1607.1,516.1 Z" fill="#000"/><path d="M1605.2,515.6 L1619.4,529.7 L1621.6,527 Z" fill="#000"/><path d="M1620.5,528.4 L1629.5,543.7 L1631.9,542 Z" fill="#000"/><path d="M1591.6,515.6 L1605.2,515.6" fill="none" stroke="#000" stroke-width="0.9" stroke-linecap="butt" stroke-linejoin="round"/><path d="M1609.4,499.5 L1621.3,493.5" fill="none" stroke="#000" stroke-width="0.9" stroke-linecap="butt" stroke-linejoin="round"/><path d="M1630.7,542.8 L1633.2,526.7" fill="none" stroke="#000" stroke-width="0.9" stroke-linecap="butt" stroke-linejoin="round"/><path d="M1569.5,530.9 L1578,542" fill="none" stroke="#000" stroke-width="0.9" stroke-linecap="butt" stroke-linejoin="round"/><path d="M1578,520.7 L1568.1,529.8 L1570.8,532 Z" fill="#000"/><path d="M1630.7,542.8 L1640.9,546.2" fill="none" stroke="#000" stroke-width="0.9" stroke-linecap="butt" stroke-linejoin="round"/><path d="M1646,547.9 L1647.7,561.5 L1663,558.1 L1660.4,537.7" fill="none" stroke="#000" stroke-width="0.9" stroke-linecap="butt" stroke-linejoin="round"/><path d="M1647.7,561.5 L1665,580 L1667.7,577.1 Z" fill="#000"/><path d="M1666.4,578.5 L1681.7,568.3 L1663,558.1" fill="none" stroke="#000" stroke-width="0.9" stroke-linecap="butt" stroke-linejoin="round"/><path d="M1647.7,561.5 L1642.6,573.4" fill="none" stroke="#000" stroke-width="0.9" stroke-linecap="butt" stroke-linejoin="round"/><path d="M1666.4,578.5 L1686.8,585.3 L1692.8,596.4" fill="none" stroke="#000" stroke-width="0.9" stroke-linecap="butt" stroke-linejoin="round"/><path d="M1673.2,587.9 L1687.1,586.8 L1686.5,583.9 Z" fill="#000"/><path d="M1694.5,596.4 L1698.7,580.2 L1710.6,570 L1722.5,564.9" fill="none" stroke="#000" stroke-width="0.9" stroke-linecap="butt" stroke-linejoin="round"/><path d="M1698.7,580.2 L1713.5,586.4 L1714.5,582.6 Z" fill="#000"/><path d="M1714,584.5 L1724.4,565.7 L1720.7,564.1 Z" fill="#000"/><path d="M1714,584.5 L1715.7,600.7" fill="none" stroke="#000" stroke-width="0.9" stroke-linecap="butt" stroke-linejoin="round"/><text x="1592.9" y="496.1" font-size="6.2" text-anchor="middle" fill="#000">O</text><text x="1621.3" y="494.9" font-size="6.2" text-anchor="middle" fill="#000" transform="rotate(50 1621.3 492.7)">OOC</text><text x="1635.8" y="517" font-size="6.2" text-anchor="middle" fill="#000" transform="rotate(-50 1635.8 514.8)">OH</text><text x="1634.1" y="526.4" font-size="6.2" text-anchor="middle" fill="#000">O</text><text x="1586.5" y="526.4" font-size="6.2" text-anchor="middle" fill="#000" transform="rotate(-50 1586.5 524.1)">OH</text><text x="1643.4" y="549.3" font-size="6.2" text-anchor="middle" fill="#000">O</text><text x="1657.9" y="540" font-size="6.2" text-anchor="middle" fill="#000" transform="rotate(50 1657.9 537.7)">HO</text><text x="1640" y="574" font-size="6.2" text-anchor="middle" fill="#000" transform="rotate(40 1640 571.7)">OOC</text><text x="1662.1" y="590.1" font-size="6.2" text-anchor="middle" fill="#000" transform="rotate(-50 1662.1 587.9)">OH</text><text x="1670.6" y="590.1" font-size="6.2" text-anchor="middle" fill="#000">O</text><text x="1693.3" y="600.7" font-size="6.2" text-anchor="middle" fill="#000">O</text><text x="1692.8" y="574" font-size="6.2" text-anchor="middle" fill="#000" transform="rotate(-50 1692.8 571.7)">OOC</text><text x="1714" y="606.3" font-size="6.2" text-anchor="middle" fill="#000" transform="rotate(-50 1714 604.1)">HO</text><path d="M1759.9,523.3 L1778.6,502.9 L1788.8,495.2" fill="none" stroke="#000" stroke-width="0.9" stroke-linecap="butt" stroke-linejoin="round"/><path d="M1794.8,494.9 L1808.4,499.5 L1817.8,513.9 L1828,519" fill="none" stroke="#000" stroke-width="0.9" stroke-linecap="butt" stroke-linejoin="round"/><path d="M1778.6,502.9 L1782.8,514.9 L1786.4,513 Z" fill="#000"/><path d="M1808.4,499.5 L1802.2,515.1 L1806.1,516.1 Z" fill="#000"/><path d="M1804.1,515.6 L1818.3,529.7 L1820.6,527 Z" fill="#000"/><path d="M1819.5,528.4 L1828.4,543.7 L1830.9,542 Z" fill="#000"/><path d="M1790.5,515.6 L1804.1,515.6" fill="none" stroke="#000" stroke-width="0.9" stroke-linecap="butt" stroke-linejoin="round"/><path d="M1808.4,499.5 L1820.3,493.5" fill="none" stroke="#000" stroke-width="0.9" stroke-linecap="butt" stroke-linejoin="round"/><path d="M1829.7,542.8 L1832.2,526.7" fill="none" stroke="#000" stroke-width="0.9" stroke-linecap="butt" stroke-linejoin="round"/><path d="M1768.4,530.9 L1776.9,542" fill="none" stroke="#000" stroke-width="0.9" stroke-linecap="butt" stroke-linejoin="round"/><path d="M1776.9,520.7 L1767.1,529.8 L1769.8,532 Z" fill="#000"/><path d="M1829.7,542.8 L1839.9,546.2" fill="none" stroke="#000" stroke-width="0.9" stroke-linecap="butt" stroke-linejoin="round"/><path d="M1845,547.9 L1846.7,561.5 L1862,558.1 L1859.4,537.7" fill="none" stroke="#000" stroke-width="0.9" stroke-linecap="butt" stroke-linejoin="round"/><path d="M1846.7,561.5 L1864,580 L1866.7,577.1 Z" fill="#000"/><path d="M1865.4,578.5 L1880.7,568.3 L1862,558.1" fill="none" stroke="#000" stroke-width="0.9" stroke-linecap="butt" stroke-linejoin="round"/><path d="M1846.7,561.5 L1841.6,573.4" fill="none" stroke="#000" stroke-width="0.9" stroke-linecap="butt" stroke-linejoin="round"/><path d="M1865.4,578.5 L1885.8,585.3 L1891.7,596.4" fill="none" stroke="#000" stroke-width="0.9" stroke-linecap="butt" stroke-linejoin="round"/><path d="M1872.2,587.9 L1886.1,586.8 L1885.5,583.9 Z" fill="#000"/><path d="M1893.4,596.4 L1897.7,580.2 L1909.6,570 L1921.5,564.9" fill="none" stroke="#000" stroke-width="0.9" stroke-linecap="butt" stroke-linejoin="round"/><path d="M1897.7,580.2 L1912.5,586.4 L1913.5,582.6 Z" fill="#000"/><path d="M1913,584.5 L1923.3,565.7 L1919.7,564.1 Z" fill="#000"/><path d="M1913,584.5 L1914.7,600.7" fill="none" stroke="#000" stroke-width="0.9" stroke-linecap="butt" stroke-linejoin="round"/><text x="1791.9" y="496.1" font-size="6.2" text-anchor="middle" fill="#000">O</text><text x="1820.3" y="494.9" font-size="6.2" text-anchor="middle" fill="#000" transform="rotate(50 1820.3 492.7)">OOC</text><text x="1834.8" y="517" font-size="6.2" text-anchor="middle" fill="#000" transform="rotate(-50 1834.8 514.8)">OH</text><text x="1833.1" y="526.4" font-size="6.2" text-anchor="middle" fill="#000">O</text><text x="1785.4" y="526.4" font-size="6.2" text-anchor="middle" fill="#000" transform="rotate(-50 1785.4 524.1)">OH</text><text x="1842.4" y="549.3" font-size="6.2" text-anchor="middle" fill="#000">O</text><text x="1856.9" y="540" font-size="6.2" text-anchor="middle" fill="#000" transform="rotate(50 1856.9 537.7)">HO</text><text x="1839" y="574" font-size="6.2" text-anchor="middle" fill="#000" transform="rotate(40 1839 571.7)">OOC</text><text x="1861.1" y="590.1" font-size="6.2" text-anchor="middle" fill="#000" transform="rotate(-50 1861.1 587.9)">OH</text><text x="1869.6" y="590.1" font-size="6.2" text-anchor="middle" fill="#000">O</text><text x="1892.2" y="600.7" font-size="6.2" text-anchor="middle" fill="#000">O</text><text x="1891.7" y="574" font-size="6.2" text-anchor="middle" fill="#000" transform="rotate(-50 1891.7 571.7)">OOC</text><text x="1913" y="606.3" font-size="6.2" text-anchor="middle" fill="#000" transform="rotate(-50 1913 604.1)">HO</text></g><text x="1697" y="257.5" font-size="48.3" font-weight="bold" text-anchor="middle" fill="#000" >G units</text><text x="1698" y="301" font-size="48.3" font-weight="bold" text-anchor="middle" fill="#000" >2<tspan font-size="26" dy="11">1</tspan><tspan dy="-11">-helix</tspan></text><text x="1695.5" y="660" font-size="48.3" font-weight="bold" text-anchor="middle" fill="#000" >M units</text><text x="1695.5" y="703.7" font-size="48.3" font-weight="bold" text-anchor="middle" fill="#000" >Antiparallel twofold helix</text></g>
<g id="panel-b"><text x="38.9" y="760" font-size="127" font-weight="normal" text-anchor="start" fill="#000" >b</text><path d="M803.4,786.8 L803.4,1395" fill="none" stroke="#000" stroke-width="5.2" stroke-dasharray="9 15 29 15 9 15"/><path d="M928.4,786.8 L928.4,1395" fill="none" stroke="#000" stroke-width="5.2" stroke-dasharray="9 15 29 15 9 15"/><clipPath id="bclip"><rect x="273.8" y="779.3" width="769.2" height="617.7"/></clipPath><g clip-path="url(#bclip)"><path d="M274.5,1196.7 C276.5,1196.8 289.2,1197.4 291.5,1197.6 C293.7,1197.8 293.2,1198.1 293.7,1198.4 C294.3,1198.7 295.5,1199.7 296,1199.9 C296.5,1200.2 297.7,1200.5 298.2,1200.3 C298.8,1200.2 300,1198.4 300.5,1198.6 C301,1198.8 302.2,1201.6 302.7,1202 C303.3,1202.4 304.5,1202 305,1202 C305.5,1202.1 306.7,1202.5 307.2,1202.4 C307.8,1202.2 309,1201.1 309.5,1200.7 C310,1200.2 311.2,1198.6 311.7,1198.7 C312.2,1198.7 313.4,1201.1 314,1201.1 C314.5,1201.1 315.7,1198.9 316.2,1198.6 C316.7,1198.4 317.9,1198.8 318.5,1198.7 C319,1198.7 320.2,1198.8 320.7,1198.5 C321.2,1198.2 322.4,1196 323,1196.1 C323.5,1196.1 324.8,1198.2 325.3,1198.9 C325.9,1199.5 327.1,1201.4 327.7,1201.7 C328.2,1202 329.5,1201.3 330.1,1201.5 C330.6,1201.8 331.9,1203.7 332.4,1203.9 C333,1204.2 334.2,1204 334.8,1203.6 C335.3,1203.2 336.6,1200.9 337.1,1200.6 C337.7,1200.3 338.9,1201.3 339.5,1200.9 C340,1200.6 340.1,1196.9 341.9,1197.6 C343.6,1198.3 351.9,1203.4 354.5,1207.1 C357,1210.7 361,1222.9 363.9,1229.1 C366.8,1235.4 376,1254.4 379.6,1260.6 C383.3,1266.8 391.7,1278.9 395.4,1282.6 C399.1,1286.4 406.3,1291 411.1,1292.7 C415.9,1294.5 431.9,1297.5 436.3,1297.8 C440.7,1298 446,1297 448.9,1295.2 C451.8,1293.5 458.6,1286.3 461.5,1282.6 C464.4,1279 471.2,1268.2 474.1,1263.7 C477,1259.3 483.7,1248.3 486.7,1244.9 C489.6,1241.4 496.7,1234.3 499.3,1233.8 C501.9,1233.4 506.2,1241.5 508.7,1240.8 C511.3,1240 518.4,1230.6 521.3,1227.5 C524.3,1224.5 530.6,1216.5 533.9,1214.3 C537.2,1212.1 545.6,1210.6 549.7,1208.7 C553.7,1206.7 564.1,1199.8 568.5,1197.6 C573,1195.4 583,1191.2 587.4,1189.8 C591.8,1188.3 601.7,1185.6 606.3,1185 C610.9,1184.5 623.7,1181.5 626.8,1185 C629.9,1188.5 631.4,1213.1 633.1,1214.9 C634.7,1216.8 638.9,1204.6 641,1200.8 C643,1196.9 647.8,1184.3 650.4,1181.9 C653,1179.5 660.8,1180.7 663,1180.3 C665.2,1179.9 668.3,1178.9 669.4,1178.7 C670.6,1178.6 671.9,1179.3 672.6,1179.2 C673.3,1179.1 675.1,1178.3 675.7,1178.1 C676.4,1177.9 677.5,1177.5 678,1177.4 C678.5,1177.3 679.7,1177.5 680.2,1177.6 C680.8,1177.6 682,1177.6 682.5,1177.8 C683,1178 684.2,1179.3 684.7,1179.4 C685.3,1179.5 686.5,1178.5 687,1178.4 C687.5,1178.4 688.7,1178.9 689.2,1178.9 C689.8,1178.9 690.9,1178.9 691.5,1178.7 C692,1178.5 693.3,1177.5 693.8,1177.2 C694.4,1176.9 695.7,1176.7 696.2,1176.4 C696.8,1176.2 698,1175.4 698.6,1175 C699.1,1174.7 700.4,1174 700.9,1173.8 C701.5,1173.6 702.7,1173.4 703.3,1173.1 C703.8,1172.9 705.1,1172 705.7,1171.8 C706.2,1171.7 707.5,1171.8 708.1,1171.8 C708.7,1171.9 710,1172.4 710.6,1172.4 C711.2,1172.3 712.5,1171.8 713.1,1171.8 C713.7,1171.7 715,1172.1 715.5,1172.1 C716.1,1172.1 717.4,1171.9 718,1171.9 C718.6,1171.8 719.9,1172.1 720.5,1172 C721.1,1171.9 722.4,1170.9 723,1170.9 C723.5,1170.8 724.8,1171.4 725.3,1171.3 C725.9,1171.3 727.1,1170.4 727.7,1170.4 C728.2,1170.5 729.5,1171.7 730.1,1171.9 C730.6,1172.2 731.9,1172.2 732.4,1172.3 C733,1172.3 734.2,1172.3 734.8,1172.3 C735.3,1172.2 736.6,1171.7 737.1,1171.7 C737.7,1171.7 738.9,1172.1 739.5,1172.1 C740,1172.1 741.3,1171.9 741.9,1171.8 C742.4,1171.8 743.7,1171.6 744.2,1171.8 C744.8,1172 746,1173.4 746.6,1173.6 C747.1,1173.8 748.4,1173.6 748.9,1173.6 C749.5,1173.7 750.8,1174.1 751.3,1174 C751.8,1173.9 753,1173 753.5,1172.6 C754,1172.3 755.2,1171.3 755.7,1171.3 C756.2,1171.2 757.4,1172 757.9,1171.9 C758.4,1171.8 759.9,1170.1 760.1,1170.2 C760.4,1170.3 759.2,1172 760,1172.7 C760.8,1173.4 765.2,1175.3 766.8,1176.1 C768.4,1176.9 772.2,1178.1 773.6,1179.5 C775,1180.9 777.6,1185.1 778.7,1188 C779.8,1191 782,1200.7 783,1205 C784,1209.4 786.2,1220.3 787.2,1225.4 C788.2,1230.6 790.6,1243.7 791.5,1249.3 C792.4,1254.8 794.1,1266.3 794.9,1273.1 C795.7,1279.8 797.6,1299.1 798.3,1307.1 C799,1315 800.2,1335.4 800.8,1341.1 C801.4,1346.7 802.8,1355.5 803.4,1355.5 C804,1355.5 805.2,1347.7 805.9,1341.1 C806.6,1334.4 808.5,1308.5 809.3,1298.6 C810.1,1288.7 811.9,1264.2 812.7,1256.1 C813.5,1247.9 815.2,1232.8 816.1,1228.8 C817,1224.9 819.5,1224.6 820.4,1222 C821.3,1219.5 823,1208.7 823.8,1206.7 C824.6,1204.8 826.3,1204.4 827.2,1205 C828.1,1205.6 830.3,1209.5 831.4,1211.8 C832.5,1214.2 835.6,1220.3 836.5,1225.4 C837.4,1230.6 838.5,1246.9 839.1,1256.1 C839.7,1265.2 841.1,1296.5 841.6,1303.7 C842.2,1310.8 843.2,1317.3 843.7,1317.3 C844.2,1317.3 845.3,1309.8 845.9,1303.7 C846.4,1297.5 847.7,1271.5 848.4,1264.6 C849.1,1257.6 850.9,1247.1 851.8,1244.1 C852.7,1241.2 855.1,1238.8 856.1,1239 C857.1,1239.2 859.4,1244.3 860.3,1245.9 C861.2,1247.4 862.6,1252.7 863.7,1252.7 C864.9,1252.7 869,1249.4 870.5,1245.9 C872.1,1242.3 876,1226.6 877.3,1222 C878.7,1217.5 881.4,1210.3 882.4,1206.7 C883.5,1203.2 885.8,1193.7 886.7,1191.4 C887.6,1189.1 889.2,1185.2 890.1,1187.2 C891,1189.2 893.3,1204.6 894.4,1208.4 C895.4,1212.3 898.5,1218 899.5,1220.3 C900.4,1222.7 902.2,1223.9 902.9,1228.8 C903.6,1233.8 904.8,1260.9 905.4,1262.9 C906,1264.8 907.4,1244.7 908,1245.9 C908.6,1247 909.9,1265.9 910.5,1273.1 C911.1,1280.2 912.5,1301.9 913.1,1307.1 C913.6,1312.2 914.5,1317.9 915.1,1317.3 C915.7,1316.7 917.4,1303 918.2,1302 C918.9,1301 920.9,1304.2 921.6,1308.8 C922.3,1313.3 923.6,1333.4 924.1,1341.1 C924.7,1348.8 925.8,1369.6 926.3,1375.1 C926.8,1380.6 927.9,1388.8 928.4,1387.9 C928.9,1386.9 930,1376 930.6,1366.6 C931.2,1357.2 932.7,1320 933.5,1307.1 C934.2,1294.2 936.1,1264.2 936.9,1256.1 C937.7,1247.9 939.6,1238.1 940.3,1237.3 C941,1236.6 942.3,1245.7 942.8,1249.3 C943.4,1252.8 944.4,1268 945,1268 C945.6,1268 947.2,1254.4 947.9,1249.3 C948.7,1244.1 950.6,1225.3 951.3,1223.7 C952,1222.2 953.1,1234.7 953.9,1235.6 C954.7,1236.6 957.1,1233.8 958.1,1232.2 C959.1,1230.7 961.4,1223.5 962.4,1222 C963.4,1220.6 965.7,1218.7 966.6,1219.5 C967.5,1220.3 969.3,1224.6 970,1228.8 C970.7,1233.1 972,1251.3 972.6,1256.1 C973.1,1260.8 973.9,1269.1 974.6,1269.7 C975.3,1270.3 977.6,1261.2 978.5,1261.2 C979.5,1261.2 981.9,1268.9 982.8,1269.7 C983.7,1270.5 985,1266.2 986.2,1268 C987.4,1269.7 991.4,1282.2 993,1285 C994.6,1287.7 998.4,1289 999.8,1291.8 C1001.2,1294.5 1003.7,1306.6 1004.9,1308.8 C1006.1,1311 1008.8,1308.1 1010,1310.5 C1011.2,1312.9 1013.7,1327.3 1015.1,1329.2 C1016.5,1331.1 1020.3,1325.8 1021.9,1326.6 C1023.5,1327.4 1027.1,1333.7 1028.7,1336 C1030.3,1338.3 1033.9,1343.8 1035.5,1346.2 C1037.1,1348.6 1041.5,1355.2 1042.3,1356.4" fill="none" stroke="#4D4D4D" stroke-width="5" stroke-linejoin="round" stroke-linecap="round"/><path d="M274.5,952.7 C276.5,953.2 289.2,956.3 291.5,956.8 C293.7,957.2 293.2,956.6 293.7,956.7 C294.3,956.9 295.5,957.9 296,958.1 C296.5,958.2 297.7,958.1 298.2,958.2 C298.8,958.4 300,959.2 300.5,959.4 C301,959.6 302.2,960 302.7,960 C303.3,960 304.5,959.1 305,959.2 C305.5,959.3 306.7,960.8 307.2,960.9 C307.8,960.9 309,959.5 309.5,959.6 C310,959.6 311.2,961.4 311.7,961.4 C312.2,961.4 313.4,960.1 314,959.9 C314.5,959.7 315.7,959.5 316.2,959.7 C316.7,959.9 317.9,961.3 318.5,961.4 C319,961.4 320.2,960.2 320.7,960 C321.2,959.8 322.4,959.7 323,959.9 C323.5,960.1 324.8,961.6 325.3,961.9 C325.9,962.2 327.1,962 327.7,962.2 C328.2,962.4 329.5,963.5 330.1,963.8 C330.6,964.1 331.9,964.7 332.4,964.6 C333,964.6 334.2,963.2 334.8,963 C335.3,962.9 336.6,963.4 337.1,963.4 C337.7,963.4 338.9,963.4 339.5,963.2 C340,962.9 340.1,960.8 341.9,961.5 C343.6,962.2 351.1,966.1 354.5,969.4 C357.8,972.7 366.5,985.4 370.2,989.8 C373.9,994.2 382.3,1003.7 385.9,1007.2 C389.6,1010.6 398,1017.7 401.7,1019.7 C405.4,1021.8 413.4,1024.5 417.4,1025.1 C421.5,1025.7 432.3,1025.7 436.3,1025.1 C440.4,1024.5 448.4,1021.7 452.1,1019.7 C455.7,1017.8 464.5,1011.3 467.8,1008.7 C471.1,1006.2 477.5,999.6 480.4,997.7 C483.3,995.8 490.4,992.9 493,992.4 C495.6,991.8 500.3,992.3 502.4,993 C504.6,993.7 509,998.5 511.2,998.3 C513.4,998.2 519,993 521.3,991.4 C523.6,989.9 528.2,986.2 530.8,985.1 C533.3,984 538.2,983 543.4,982 C548.5,980.9 567.5,977.6 574.8,976.3 C582.2,975 600.3,971.9 606.3,970.9 C612.4,970 623.7,966.9 626.8,967.8 C629.9,968.7 631.4,978.1 633.1,978.8 C634.7,979.6 639.1,975.6 641,974.1 C642.8,972.6 646.3,967.4 648.8,966.2 C651.4,965 660.6,964.3 663,963.7 C665.4,963.2 667.6,962.2 669.4,961.5 C671.3,960.8 676.7,957.8 678.9,957.7 C681.1,957.6 685,961 688.3,960.9 C691.6,960.8 703.2,957.4 707.2,956.8 C711.3,956.2 718.9,956 723,955.8 C727,955.6 738.2,955.6 741.9,955.2 C745.5,954.8 752.3,952.8 754.5,952.7 C756.6,952.6 758.8,953.4 760,954.5 C761.2,955.6 764.1,959.7 765.1,962.2 C766.1,964.7 767.7,973.5 768.5,975.8 C769.3,978.1 771,981.1 771.9,981.7 C772.8,982.3 775.1,981.9 776.2,980.9 C777.2,979.9 780.2,973.4 781.3,973.2 C782.3,973 784.4,977.7 785.5,979.2 C786.6,980.7 789.6,983.6 790.6,986 C791.6,988.4 793.2,995.6 794,999.6 C794.8,1003.6 796.6,1016 797.4,1020 C798.2,1024 800.1,1031.8 800.8,1033.6 C801.5,1035.4 802.8,1036.7 803.4,1035.3 C804,1033.9 805.2,1026.3 805.9,1021.7 C806.6,1017.1 808.3,1002.1 809.3,996.2 C810.3,990.2 813.2,974.8 814.4,970.7 C815.6,966.5 818.3,962.4 819.5,960.5 C820.7,958.6 823.4,954.9 824.6,954.5 C825.8,954.1 828.5,955.6 829.7,957.1 C830.9,958.6 833.8,963.7 834.8,967.3 C835.8,970.9 837.5,983 838.2,987.7 C838.9,992.3 840.1,1004.9 840.8,1007.2 C841.5,1009.6 843.5,1009.8 844.2,1008.1 C844.9,1006.4 846.1,995.8 846.7,992.8 C847.3,989.8 848.3,984.3 849.3,982.6 C850.3,980.9 853.8,978.6 855.2,978.3 C856.7,978 860.3,980.1 862,980 C863.8,979.9 868.8,977.5 870.5,977.5 C872.3,977.5 876,980.4 877.3,980 C878.7,979.6 881.4,976.4 882.4,974.1 C883.5,971.8 885.7,963.1 886.7,960.5 C887.7,957.9 890.1,952 891,952 C891.8,952 893.4,959.1 894.4,960.5 C895.3,961.9 898.4,962.7 899.5,963.9 C900.5,965.1 903,967.9 903.7,970.7 C904.4,973.5 904.7,986.1 905.4,987.7 C906.1,989.3 908.9,981.9 909.7,984.3 C910.5,986.7 911.7,1003.3 912.2,1008.1 C912.7,1012.9 913.2,1024 913.9,1025.1 C914.6,1026.2 917.3,1017.4 918.2,1017.4 C919.1,1017.4 920.9,1021.8 921.6,1025.1 C922.3,1028.4 923.6,1040.7 924.1,1045.5 C924.7,1050.3 925.9,1062.3 926.3,1065.9 C926.8,1069.5 927.6,1076.5 928,1076.5 C928.4,1076.5 929.4,1069.5 929.9,1065.9 C930.4,1062.3 931.4,1052.3 932.1,1045.5 C932.8,1038.8 935.2,1015.2 936,1008.1 C936.9,1001 938.7,987.5 939.4,984.3 C940.1,981.1 941.4,979.7 942,980.9 C942.6,982.1 943.8,993.9 944.5,994.5 C945.2,995.1 947.1,989 947.9,986 C948.7,983 950.4,971.6 951.3,969 C952.2,966.4 954.7,964.7 955.6,963.9 C956.5,963.1 958.2,963.6 959,962.2 C959.8,960.8 961.3,954.3 962.4,952 C963.5,949.7 967.2,942 968.3,942.6 C969.4,943.2 971,953.8 971.7,957.1 C972.4,960.3 973.4,969.8 974.3,970.7 C975.2,971.6 978.1,965.6 979.4,964.7 C980.7,963.8 983.8,962.7 985.3,963 C986.9,963.3 991.3,966.2 993,967.3 C994.7,968.4 998.2,970.8 999.8,972.4 C1001.4,974 1005.2,979.9 1006.6,980.9 C1008,981.9 1010.4,979.3 1011.7,980.9 C1013,982.5 1016.4,993.3 1017.7,994.5 C1018.9,995.7 1021.3,990.9 1022.8,991.1 C1024.2,991.3 1028.7,994.8 1030.4,996.2 C1032.1,997.6 1035.8,1001.2 1037.2,1003 C1038.6,1004.8 1041.7,1010.5 1042.3,1011.5" fill="none" stroke="#FF3B3B" stroke-width="5" stroke-linejoin="round" stroke-linecap="round"/></g><ellipse cx="764.7" cy="972.5" rx="33" ry="26" fill="none" stroke="#FF1A1A" stroke-width="5" stroke-dasharray="5 5.3"/><rect x="273.8" y="779.3" width="769.2" height="617.7" fill="none" stroke="#000" stroke-width="5.6"/><path d="M273.8,1397 L273.8,1408.8" stroke="#000" stroke-width="5.2" fill="none"/><path d="M328.7,1397 L328.7,1402.8" stroke="#000" stroke-width="5.2" fill="none"/><text transform="translate(273.8,1447.6) scale(0.8720,1)" font-size="41.6" font-weight="bold" text-anchor="middle" fill="#000" >4000</text><path d="M383.7,1397 L383.7,1408.8" stroke="#000" stroke-width="5.2" fill="none"/><path d="M438.6,1397 L438.6,1402.8" stroke="#000" stroke-width="5.2" fill="none"/><text transform="translate(383.7,1447.6) scale(0.8720,1)" font-size="41.6" font-weight="bold" text-anchor="middle" fill="#000" >3500</text><path d="M493.6,1397 L493.6,1408.8" stroke="#000" stroke-width="5.2" fill="none"/><path d="M548.5,1397 L548.5,1402.8" stroke="#000" stroke-width="5.2" fill="none"/><text transform="translate(493.6,1447.6) scale(0.8720,1)" font-size="41.6" font-weight="bold" text-anchor="middle" fill="#000" >3000</text><path d="M603.5,1397 L603.5,1408.8" stroke="#000" stroke-width="5.2" fill="none"/><path d="M658.4,1397 L658.4,1402.8" stroke="#000" stroke-width="5.2" fill="none"/><text transform="translate(603.5,1447.6) scale(0.8720,1)" font-size="41.6" font-weight="bold" text-anchor="middle" fill="#000" >2500</text><path d="M713.3,1397 L713.3,1408.8" stroke="#000" stroke-width="5.2" fill="none"/><path d="M768.3,1397 L768.3,1402.8" stroke="#000" stroke-width="5.2" fill="none"/><text transform="translate(713.3,1447.6) scale(0.8720,1)" font-size="41.6" font-weight="bold" text-anchor="middle" fill="#000" >2000</text><path d="M823.2,1397 L823.2,1408.8" stroke="#000" stroke-width="5.2" fill="none"/><path d="M878.2,1397 L878.2,1402.8" stroke="#000" stroke-width="5.2" fill="none"/><text transform="translate(823.2,1447.6) scale(0.8720,1)" font-size="41.6" font-weight="bold" text-anchor="middle" fill="#000" >1500</text><path d="M933.1,1397 L933.1,1408.8" stroke="#000" stroke-width="5.2" fill="none"/><path d="M988.1,1397 L988.1,1402.8" stroke="#000" stroke-width="5.2" fill="none"/><text transform="translate(933.1,1447.6) scale(0.8720,1)" font-size="41.6" font-weight="bold" text-anchor="middle" fill="#000" >1000</text><path d="M1043,1397 L1043,1408.8" stroke="#000" stroke-width="5.2" fill="none"/><text transform="translate(1043,1447.6) scale(0.8720,1)" font-size="41.6" font-weight="bold" text-anchor="middle" fill="#000" >500</text><text transform="translate(682,1492.6) scale(0.9570,1)" font-size="50.5" font-weight="bold" text-anchor="middle" fill="#000" >Wavenumber (cm<tspan font-size="31" dy="-25">−1</tspan><tspan dy="25">)</tspan></text><text transform="translate(236.4,1087) rotate(-90) scale(0.9050,1)" font-size="41.5" font-weight="bold" text-anchor="middle" fill="#000" letter-spacing="1.8">Normalized transmittance (a.u.)</text><text x="286" y="948.7" font-size="48" font-weight="bold" text-anchor="start" fill="#000" >HCl</text><text x="286" y="1186" font-size="48" font-weight="bold" text-anchor="start" fill="#000" >SA</text><text transform="translate(721.5,1034) scale(0.9300,1)" font-size="39.5" font-weight="bold" text-anchor="middle" fill="#FF1A1A" >1733</text><text transform="translate(847.5,1064) scale(0.9300,1)" font-size="39.5" font-weight="bold" text-anchor="middle" fill="#000" >1600</text><text transform="translate(973,1095) scale(0.9300,1)" font-size="39.5" font-weight="bold" text-anchor="middle" fill="#000" >1025</text><text transform="translate(847.5,1353.8) scale(0.9300,1)" font-size="39.5" font-weight="bold" text-anchor="middle" fill="#000" >1592</text><text transform="translate(972,1381.9) scale(0.9300,1)" font-size="39.5" font-weight="bold" text-anchor="middle" fill="#000" >1024</text></g>
<g id="panel-c"><text x="1173" y="759.2" font-size="127" font-weight="normal" text-anchor="start" fill="#000" >c</text><defs><radialGradient id="ball" cx="0.36" cy="0.35" r="0.3"><stop offset="0" stop-color="#fff"/><stop offset="0.2" stop-color="#fff"/><stop offset="0.3" stop-color="#FFD0D0"/><stop offset="0.75" stop-color="#FFA2A2"/><stop offset="0.85" stop-color="#FF7C7C"/><stop offset="1" stop-color="#FF6666"/></radialGradient></defs><rect x="1351.9" y="779.5" width="817" height="657.8" fill="none" stroke="#000" stroke-width="6.6"/><path d="M1339.1,779.5 L1351.9,779.5" stroke="#000" stroke-width="6.2" fill="none"/><text transform="translate(1328.5,792.9) scale(0.9700,1)" font-size="44.7" font-weight="bold" text-anchor="end" fill="#000" >60</text><path d="M1346.3,861.7 L1351.9,861.7" stroke="#000" stroke-width="6" fill="none"/><path d="M1339.1,944 L1351.9,944" stroke="#000" stroke-width="6.2" fill="none"/><text transform="translate(1328.5,957.4) scale(0.9700,1)" font-size="44.7" font-weight="bold" text-anchor="end" fill="#000" >55</text><path d="M1346.3,1026.2 L1351.9,1026.2" stroke="#000" stroke-width="6" fill="none"/><path d="M1339.1,1108.4 L1351.9,1108.4" stroke="#000" stroke-width="6.2" fill="none"/><text transform="translate(1328.5,1121.8) scale(0.9700,1)" font-size="44.7" font-weight="bold" text-anchor="end" fill="#000" >50</text><path d="M1346.3,1190.6 L1351.9,1190.6" stroke="#000" stroke-width="6" fill="none"/><path d="M1339.1,1272.8 L1351.9,1272.8" stroke="#000" stroke-width="6.2" fill="none"/><text transform="translate(1328.5,1286.2) scale(0.9700,1)" font-size="44.7" font-weight="bold" text-anchor="end" fill="#000" >45</text><path d="M1346.3,1355.1 L1351.9,1355.1" stroke="#000" stroke-width="6" fill="none"/><path d="M1339.1,1437.3 L1351.9,1437.3" stroke="#000" stroke-width="6.2" fill="none"/><text transform="translate(1328.5,1450.7) scale(0.9700,1)" font-size="44.7" font-weight="bold" text-anchor="end" fill="#000" >40</text><path d="M1351.9,1437.3 L1351.9,1450" stroke="#000" stroke-width="6.2" fill="none"/><path d="M1515.3,1437.3 L1515.3,1450" stroke="#000" stroke-width="6.2" fill="none"/><text transform="translate(1515.3,1494.6) scale(0.9700,1)" font-size="44.7" font-weight="bold" text-anchor="middle" fill="#000" >6.5</text><path d="M1678.7,1437.3 L1678.7,1450" stroke="#000" stroke-width="6.2" fill="none"/><text transform="translate(1678.7,1494.6) scale(0.9700,1)" font-size="44.7" font-weight="bold" text-anchor="middle" fill="#000" >5</text><path d="M1842.1,1437.3 L1842.1,1450" stroke="#000" stroke-width="6.2" fill="none"/><text transform="translate(1842.1,1494.6) scale(0.9700,1)" font-size="44.7" font-weight="bold" text-anchor="middle" fill="#000" >4</text><path d="M2005.5,1437.3 L2005.5,1450" stroke="#000" stroke-width="6.2" fill="none"/><text transform="translate(2005.5,1494.6) scale(0.9700,1)" font-size="44.7" font-weight="bold" text-anchor="middle" fill="#000" >3</text><path d="M2168.9,1437.3 L2168.9,1450" stroke="#000" stroke-width="6.2" fill="none"/><path d="M1515.3,1316 L1515.3,1344 M1501.3,1316 L1529.3,1316 M1501.3,1344 L1529.3,1344" stroke="#FF6666" stroke-width="6" stroke-linecap="round" fill="none"/><circle cx="1515.3" cy="1330" r="15.8" fill="url(#ball)"/><path d="M1678.7,1172.3 L1678.7,1239.4 M1664.7,1172.3 L1692.7,1172.3 M1664.7,1239.4 L1692.7,1239.4" stroke="#FF6666" stroke-width="6" stroke-linecap="round" fill="none"/><circle cx="1678.7" cy="1205.5" r="15.8" fill="url(#ball)"/><path d="M1842.1,1102.4 L1842.1,1209.3 M1828.1,1102.4 L1856.1,1102.4 M1828.1,1209.3 L1856.1,1209.3" stroke="#FF6666" stroke-width="6" stroke-linecap="round" fill="none"/><circle cx="1842.1" cy="1155.3" r="15.8" fill="url(#ball)"/><path d="M2005.5,1001.7 L2005.5,1056.7 M1991.5,1001.7 L2019.5,1001.7 M1991.5,1056.7 L2019.5,1056.7" stroke="#FF6666" stroke-width="6" stroke-linecap="round" fill="none"/><circle cx="2005.5" cy="1029.2" r="15.8" fill="url(#ball)"/><text x="1729.8" y="1552.7" font-size="58" font-weight="bold" text-anchor="middle" fill="#000" >pH</text><text transform="translate(1263,1105.4) rotate(-90)" font-size="56.5" font-weight="bold" text-anchor="middle" fill="#000">Contact angel (°)</text></g>
<g id="panel-d"><text x="40" y="1583" font-size="127" font-weight="normal" text-anchor="start" fill="#000" >d</text><g><defs><linearGradient id="dbg1" x1="0" y1="0" x2="0" y2="1"><stop offset="0" stop-color="#DBDBDB"/><stop offset="0.5" stop-color="#E3E3E3"/><stop offset="0.85" stop-color="#DADADA"/><stop offset="1" stop-color="#CFCFCF"/></linearGradient><radialGradient id="dgl1" cx="0.5" cy="0.5" r="0.5"><stop offset="0" stop-color="#fff" stop-opacity="0.85"/><stop offset="0.5" stop-color="#bbb" stop-opacity="0.45"/><stop offset="1" stop-color="#000" stop-opacity="0"/></radialGradient><radialGradient id="dsh1" cx="0.5" cy="1" r="0.75" gradientTransform="translate(0 0.35) scale(1 0.65)"><stop offset="0" stop-color="#9a9a9a" stop-opacity="0.55"/><stop offset="0.75" stop-color="#c8c8c8" stop-opacity="0.25"/><stop offset="1" stop-color="#dcdcdc" stop-opacity="0"/></radialGradient><clipPath id="dcl1"><rect x="169.2" y="1566.8" width="425" height="106.8"/></clipPath></defs><rect x="169.2" y="1566.8" width="425" height="106.8" fill="url(#dbg1)"/><g clip-path="url(#dcl1)"><rect x="132.5" y="1582" width="487" height="91.6" fill="url(#dsh1)"/><defs><linearGradient id="dbb1" x1="0" y1="0" x2="0" y2="1"><stop offset="0" stop-color="#6a4a40" stop-opacity="0"/><stop offset="0.6" stop-color="#6a4a40" stop-opacity="0.18"/><stop offset="1" stop-color="#5a3a30" stop-opacity="0.6"/></linearGradient></defs><rect x="169.2" y="1660.6" width="425" height="13" fill="url(#dbb1)"/><rect x="169.2" y="1671.8" width="425" height="2.2" fill="#6A2A18"/><path d="M222.5,1671.6 C256.3,1644.2 287,1612 376,1612 C465,1612 495.7,1644.2 529.5,1671.6 Z" fill="#000" stroke="#19B8D8" stroke-width="1.6"/><ellipse cx="381" cy="1663.6" rx="64.5" ry="10" fill="url(#dgl1)" opacity="0.75"/><path d="M226.5,1671.9 L526.5,1671.9" stroke="#4CB828" stroke-width="1.8" fill="none"/><text transform="translate(169.7,1670.4) scale(0.9500,1)" font-size="19.6" font-weight="normal" text-anchor="start" fill="#962A0C" stroke="#962A0C" stroke-width="1.0">43.31°</text><text transform="translate(591.2,1670.4) scale(0.9500,1)" font-size="21.5" font-weight="normal" text-anchor="end" fill="#8A2C12" stroke="#8A2C12" stroke-width="0.8">42.69°</text><path d="M523.5,1667.6 L503.5,1644.6" stroke="#8A2C12" stroke-width="1.3" fill="none"/><path d="M501,1642.1 l6,1 l-3,5 z" fill="#8A2C12"/><ellipse cx="534.5" cy="1668.6" rx="6" ry="4" fill="#9A4A30" opacity="0.85"/></g><path d="M275.5,1612.5 L216,1673.4" stroke="#FF0D0D" stroke-width="5.2" fill="none"/><path d="M215,1672.2 L293,1672.2" stroke="#FF0D0D" stroke-width="5.2" fill="none"/><text x="289.5" y="1647.9" font-size="53.3" font-weight="normal" text-anchor="start" fill="#FF0D0D" >43.31°</text></g><g><defs><linearGradient id="dbg2" x1="0" y1="0" x2="0" y2="1"><stop offset="0" stop-color="#DBDBDB"/><stop offset="0.5" stop-color="#E3E3E3"/><stop offset="0.85" stop-color="#DADADA"/><stop offset="1" stop-color="#CFCFCF"/></linearGradient><radialGradient id="dgl2" cx="0.5" cy="0.5" r="0.5"><stop offset="0" stop-color="#fff" stop-opacity="0.85"/><stop offset="0.5" stop-color="#bbb" stop-opacity="0.45"/><stop offset="1" stop-color="#000" stop-opacity="0"/></radialGradient><radialGradient id="dsh2" cx="0.5" cy="1" r="0.75" gradientTransform="translate(0 0.35) scale(1 0.65)"><stop offset="0" stop-color="#9a9a9a" stop-opacity="0.55"/><stop offset="0.75" stop-color="#c8c8c8" stop-opacity="0.25"/><stop offset="1" stop-color="#dcdcdc" stop-opacity="0"/></radialGradient><clipPath id="dcl2"><rect x="624.1" y="1566.8" width="500.3" height="106.8"/></clipPath></defs><rect x="624.1" y="1566.8" width="500.3" height="106.8" fill="url(#dbg2)"/><g clip-path="url(#dcl2)"><rect x="588.5" y="1563.5" width="547.2" height="110.1" fill="url(#dsh2)"/><defs><linearGradient id="dbb2" x1="0" y1="0" x2="0" y2="1"><stop offset="0" stop-color="#6a4a40" stop-opacity="0"/><stop offset="0.6" stop-color="#6a4a40" stop-opacity="0.18"/><stop offset="1" stop-color="#5a3a30" stop-opacity="0.6"/></linearGradient></defs><rect x="624.1" y="1660.6" width="500.3" height="13" fill="url(#dbb2)"/><rect x="624.1" y="1671.8" width="500.3" height="2.2" fill="#6A2A18"/><path d="M678.5,1671.6 C718.9,1635.7 755.6,1593.5 862.1,1593.5 C968.6,1593.5 1005.3,1635.7 1045.7,1671.6 Z" fill="#000" stroke="#19B8D8" stroke-width="1.6"/><ellipse cx="867.1" cy="1663.6" rx="77.1" ry="8" fill="url(#dgl2)" opacity="0.65"/><path d="M682.5,1671.9 L1042.7,1671.9" stroke="#4CB828" stroke-width="1.8" fill="none"/><text transform="translate(624.6,1670.4) scale(1.1400,1)" font-size="19.6" font-weight="normal" text-anchor="start" fill="#962A0C" stroke="#962A0C" stroke-width="1.0">48.42°</text><text transform="translate(1121.4,1670.4) scale(1.1400,1)" font-size="21.5" font-weight="normal" text-anchor="end" fill="#8A2C12" stroke="#8A2C12" stroke-width="0.8">47.18°</text><path d="M1039.7,1667.6 L1019.7,1644.6" stroke="#8A2C12" stroke-width="1.3" fill="none"/><path d="M1017.2,1642.1 l6,1 l-3,5 z" fill="#8A2C12"/><ellipse cx="1050.7" cy="1668.6" rx="6" ry="4" fill="#9A4A30" opacity="0.85"/></g><path d="M728.7,1612.6 L677,1673.4" stroke="#FF0D0D" stroke-width="5.2" fill="none"/><path d="M676,1672.2 L752.7,1672.2" stroke="#FF0D0D" stroke-width="5.2" fill="none"/><text x="733" y="1648.2" font-size="53.3" font-weight="normal" text-anchor="start" fill="#FF0D0D" >48.42°</text></g><g><defs><linearGradient id="dbg3" x1="0" y1="0" x2="0" y2="1"><stop offset="0" stop-color="#DBDBDB"/><stop offset="0.5" stop-color="#E3E3E3"/><stop offset="0.85" stop-color="#DADADA"/><stop offset="1" stop-color="#CFCFCF"/></linearGradient><radialGradient id="dgl3" cx="0.5" cy="0.5" r="0.5"><stop offset="0" stop-color="#fff" stop-opacity="0.85"/><stop offset="0.5" stop-color="#bbb" stop-opacity="0.45"/><stop offset="1" stop-color="#000" stop-opacity="0"/></radialGradient><radialGradient id="dsh3" cx="0.5" cy="1" r="0.75" gradientTransform="translate(0 0.35) scale(1 0.65)"><stop offset="0" stop-color="#9a9a9a" stop-opacity="0.55"/><stop offset="0.75" stop-color="#c8c8c8" stop-opacity="0.25"/><stop offset="1" stop-color="#dcdcdc" stop-opacity="0"/></radialGradient><clipPath id="dcl3"><rect x="1154.4" y="1566.8" width="512.7" height="106.8"/></clipPath></defs><rect x="1154.4" y="1566.8" width="512.7" height="106.8" fill="url(#dbg3)"/><g clip-path="url(#dcl3)"><rect x="1137.8" y="1561.4" width="540.6" height="112.2" fill="url(#dsh3)"/><defs><linearGradient id="dbb3" x1="0" y1="0" x2="0" y2="1"><stop offset="0" stop-color="#6a4a40" stop-opacity="0"/><stop offset="0.6" stop-color="#6a4a40" stop-opacity="0.18"/><stop offset="1" stop-color="#5a3a30" stop-opacity="0.6"/></linearGradient></defs><rect x="1154.4" y="1660.6" width="512.7" height="13" fill="url(#dbb3)"/><rect x="1154.4" y="1671.8" width="512.7" height="2.2" fill="#6A2A18"/><path d="M1227.8,1671.6 C1267.5,1634.7 1303.5,1591.4 1408.1,1591.4 C1512.7,1591.4 1548.7,1634.7 1588.4,1671.6 Z" fill="#000" stroke="#19B8D8" stroke-width="1.6"/><ellipse cx="1413.1" cy="1663.6" rx="75.7" ry="6" fill="url(#dgl3)" opacity="0.45"/><path d="M1231.8,1671.9 L1585.4,1671.9" stroke="#4CB828" stroke-width="1.8" fill="none"/><text transform="translate(1154.9,1670.4) scale(1.1600,1)" font-size="19.6" font-weight="normal" text-anchor="start" fill="#962A0C" stroke="#962A0C" stroke-width="1.0">50.08°</text><text transform="translate(1664.1,1670.4) scale(1.1600,1)" font-size="21.5" font-weight="normal" text-anchor="end" fill="#8A2C12" stroke="#8A2C12" stroke-width="0.8">49.85°</text><path d="M1582.4,1667.6 L1562.4,1644.6" stroke="#8A2C12" stroke-width="1.3" fill="none"/><path d="M1559.9,1642.1 l6,1 l-3,5 z" fill="#8A2C12"/><ellipse cx="1593.4" cy="1668.6" rx="6" ry="4" fill="#9A4A30" opacity="0.85"/></g><path d="M1274.7,1612.8 L1226.3,1673.4" stroke="#FF0D0D" stroke-width="5.2" fill="none"/><path d="M1225.3,1672.2 L1300.7,1672.2" stroke="#FF0D0D" stroke-width="5.2" fill="none"/><text x="1280.5" y="1657.8" font-size="53.3" font-weight="normal" text-anchor="start" fill="#FF0D0D" >50.08°</text></g><g><defs><linearGradient id="dbg4" x1="0" y1="0" x2="0" y2="1"><stop offset="0" stop-color="#DBDBDB"/><stop offset="0.5" stop-color="#E3E3E3"/><stop offset="0.85" stop-color="#DADADA"/><stop offset="1" stop-color="#CFCFCF"/></linearGradient><radialGradient id="dgl4" cx="0.5" cy="0.5" r="0.5"><stop offset="0" stop-color="#fff" stop-opacity="0.85"/><stop offset="0.5" stop-color="#bbb" stop-opacity="0.45"/><stop offset="1" stop-color="#000" stop-opacity="0"/></radialGradient><radialGradient id="dsh4" cx="0.5" cy="1" r="0.75" gradientTransform="translate(0 0.35) scale(1 0.65)"><stop offset="0" stop-color="#9a9a9a" stop-opacity="0.55"/><stop offset="0.75" stop-color="#c8c8c8" stop-opacity="0.25"/><stop offset="1" stop-color="#dcdcdc" stop-opacity="0"/></radialGradient><clipPath id="dcl4"><rect x="1695.7" y="1566.8" width="475.4" height="106.8"/></clipPath></defs><rect x="1695.7" y="1566.8" width="475.4" height="106.8" fill="url(#dbg4)"/><g clip-path="url(#dcl4)"><rect x="1686.5" y="1565.6" width="497.9" height="108" fill="url(#dsh4)"/><defs><linearGradient id="dbb4" x1="0" y1="0" x2="0" y2="1"><stop offset="0" stop-color="#6a4a40" stop-opacity="0"/><stop offset="0.6" stop-color="#6a4a40" stop-opacity="0.18"/><stop offset="1" stop-color="#5a3a30" stop-opacity="0.6"/></linearGradient></defs><rect x="1695.7" y="1660.6" width="475.4" height="13" fill="url(#dbb4)"/><rect x="1695.7" y="1671.8" width="475.4" height="2.2" fill="#6A2A18"/><path d="M1776.5,1671.6 C1811.5,1636.6 1843.3,1595.6 1935.5,1595.6 C2027.6,1595.6 2059.4,1636.6 2094.4,1671.6 Z" fill="#000" stroke="#19B8D8" stroke-width="1.6"/><ellipse cx="1940.5" cy="1663.6" rx="66.8" ry="5" fill="url(#dgl4)" opacity="0.3"/><path d="M1780.5,1671.9 L2091.4,1671.9" stroke="#4CB828" stroke-width="1.8" fill="none"/><text transform="translate(1696.2,1670.4) scale(1.1100,1)" font-size="19.6" font-weight="normal" text-anchor="start" fill="#962A0C" stroke="#962A0C" stroke-width="1.0">54.30°</text><text transform="translate(2168.1,1670.4) scale(1.1100,1)" font-size="21.5" font-weight="normal" text-anchor="end" fill="#8A2C12" stroke="#8A2C12" stroke-width="0.8">53.20°</text><path d="M2088.4,1667.6 L2068.4,1644.6" stroke="#8A2C12" stroke-width="1.3" fill="none"/><path d="M2065.9,1642.1 l6,1 l-3,5 z" fill="#8A2C12"/><ellipse cx="2099.4" cy="1668.6" rx="6" ry="4" fill="#9A4A30" opacity="0.85"/></g><path d="M1823.2,1610.2 L1775,1673.4" stroke="#FF0D0D" stroke-width="5.2" fill="none"/><path d="M1774,1672.2 L1851.7,1672.2" stroke="#FF0D0D" stroke-width="5.2" fill="none"/><text x="1828" y="1657.3" font-size="53.3" font-weight="normal" text-anchor="start" fill="#FF0D0D" >54.30°</text></g><text x="371.8" y="1764" font-size="60" font-weight="normal" text-anchor="middle" fill="#000" >Ph=6.5</text><text x="820" y="1764" font-size="60" font-weight="normal" text-anchor="middle" fill="#000" >Ph=5</text><text x="1381" y="1764" font-size="60" font-weight="normal" text-anchor="middle" fill="#000" >Ph=4</text><text x="1937.7" y="1764" font-size="60" font-weight="normal" text-anchor="middle" fill="#000" >Ph=3</text></g>
<g id="panel-e"><text x="39.5" y="1814.5" font-size="127" font-weight="normal" text-anchor="start" fill="#000" >e</text><clipPath id="eclip"><rect x="234.7" y="1801.6" width="817.1" height="659.8"/></clipPath><g clip-path="url(#eclip)"><path d="M234.7,1905 L247.3,2041.3 L259.8,2116.1 L272.4,2241.5 L285,2270.1 L297.6,2297.5 L310.1,2294.3 L322.7,2276.7 L335.3,2264.6 L347.8,2250.3 L360.4,2239.3 L373,2225 L385.5,2212.9 L398.1,2201.9 L410.7,2199.7 L423.3,2204.1 L435.8,2208.5 L448.4,2215.1 L461,2219.5 L473.5,2228.3 L486.1,2234.9 L498.7,2237.1 L511.3,2236 L523.8,2239.3 L536.4,2241.5 L549,2244.8 L561.5,2247 L574.1,2245.9 L586.7,2243.7 L599.3,2234.9 L611.8,2234.9 L624.4,2232.7 L637,2227.2 L649.5,2217.3 L662.1,2214 L674.7,2206.3 L687.2,2199.7 L699.8,2197.5 L712.4,2188.7 L725,2183.2 L737.5,2176.6 L750.1,2168.9 L762.7,2162.3 L775.2,2157.9 L787.8,2154.6 L800.4,2146.9 L813,2143.6 L825.5,2141.4 L838.1,2133.7 L850.7,2133.7 L863.2,2134.8 L875.8,2137 L888.4,2133.7 L901,2131.5 L913.5,2126 L926.1,2125.6 L938.7,2124.9 L951.2,2128.2 L963.8,2125.6 L976.4,2121.6 L988.9,2122.7 L1001.5,2124.9 L1014.1,2125.6 L1026.7,2124.2 L1039.2,2122.7 L1051.8,2122.7" fill="none" stroke="#4D4D4D" stroke-width="6" stroke-linejoin="round" stroke-linecap="butt"/><path d="M234.7,2054.5 L247.3,2102.9 L259.8,2153.5 L272.4,2173.3 L285,2256.9 L297.6,2254.7 L310.1,2270.1 L322.7,2256.9 L335.3,2256.9 L347.8,2237.1 L360.4,2217.3 L373,2210.7 L385.5,2205.2 L398.1,2205.2 L410.7,2201.9 L423.3,2198.6 L435.8,2201.9 L448.4,2210.7 L461,2210.7 L473.5,2223.9 L486.1,2230.5 L498.7,2236 L511.3,2239.3 L523.8,2241.5 L536.4,2254.7 L549,2256.9 L561.5,2262.4 L574.1,2261.3 L586.7,2263.5 L599.3,2259.1 L611.8,2259.1 L624.4,2259.1 L637,2250.3 L649.5,2242.6 L662.1,2234.9 L674.7,2225 L687.2,2212.9 L699.8,2205.2 L712.4,2189.8 L725,2184.3 L737.5,2176.6 L750.1,2168.9 L762.7,2162.3 L775.2,2162.3 L787.8,2159 L800.4,2154.6 L813,2155.7 L825.5,2154.6 L838.1,2151.3 L850.7,2150.2 L863.2,2151.3 L875.8,2151.3 L888.4,2146.9 L901,2141.4 L913.5,2135.9 L926.1,2129.3 L938.7,2128.2 L951.2,2130.8 L963.8,2128.2 L976.4,2124.9 L988.9,2127.1 L1001.5,2133.7 L1014.1,2134.8 L1026.7,2133.7 L1039.2,2140.3 L1051.8,2134.8" fill="none" stroke="#FB3636" stroke-width="6" stroke-linejoin="round" stroke-linecap="butt"/><path d="M234.7,2066.6 L247.3,2122.7 L259.8,2133.7 L272.4,2162.3 L285,2173.3 L297.6,2190.9 L310.1,2197.5 L322.7,2215.1 L335.3,2201.9 L347.8,2197.5 L360.4,2205.2 L373,2197.5 L385.5,2196.4 L398.1,2195.3 L410.7,2196.4 L423.3,2201.9 L435.8,2205.2 L448.4,2214 L461,2215.1 L473.5,2227.2 L486.1,2237.1 L498.7,2241.5 L511.3,2244.8 L523.8,2244.8 L536.4,2252.5 L549,2259.1 L561.5,2265.7 L574.1,2262.4 L586.7,2262.4 L599.3,2263.5 L611.8,2263.5 L624.4,2263.5 L637,2259.1 L649.5,2253.6 L662.1,2243.7 L674.7,2239.3 L687.2,2227.2 L699.8,2215.1 L712.4,2204.1 L725,2197.5 L737.5,2189.8 L750.1,2185.4 L762.7,2182.1 L775.2,2175.5 L787.8,2173.3 L800.4,2170 L813,2171.1 L825.5,2168.9 L838.1,2163.4 L850.7,2159 L863.2,2156.8 L875.8,2154.6 L888.4,2148 L901,2143.6 L913.5,2140.3 L926.1,2134.8 L938.7,2133.7 L951.2,2134.8 L963.8,2133.7 L976.4,2132.2 L988.9,2133.7 L1001.5,2134.8 L1014.1,2135.9 L1026.7,2128.2 L1039.2,2128.2 L1051.8,2125.6" fill="none" stroke="#1268E0" stroke-width="6" stroke-linejoin="round" stroke-linecap="butt"/><path d="M234.7,2129.3 L247.3,2076.5 L259.8,2078.7 L272.4,2063.3 L285,2134.8 L297.6,2128.2 L310.1,2110.6 L322.7,2142.5 L335.3,2174.4 L347.8,2170 L360.4,2174.4 L373,2176.6 L385.5,2199.7 L398.1,2212.9 L410.7,2221.7 L423.3,2226.1 L435.8,2237.1 L448.4,2252.5 L461,2259.1 L473.5,2272.3 L486.1,2275.6 L498.7,2277.8 L511.3,2282.2 L523.8,2285.5 L536.4,2289.9 L549,2291 L561.5,2297.5 L574.1,2295.4 L586.7,2298.6 L599.3,2294.3 L611.8,2294.3 L624.4,2294.3 L637,2288.8 L649.5,2282.2 L662.1,2275.6 L674.7,2267.9 L687.2,2256.9 L699.8,2247 L712.4,2237.1 L725,2229.4 L737.5,2218.4 L750.1,2217.3 L762.7,2207.4 L775.2,2199.7 L787.8,2196.4 L800.4,2194.2 L813,2190.9 L825.5,2188.7 L838.1,2183.2 L850.7,2175.5 L863.2,2172.2 L875.8,2171.1 L888.4,2164.5 L901,2163.4 L913.5,2161.2 L926.1,2156.8 L938.7,2154.6 L951.2,2161.2 L963.8,2151.3 L976.4,2149.1 L988.9,2146.9 L1001.5,2143.6 L1014.1,2140.3 L1026.7,2128.2 L1039.2,2129.3 L1051.8,2128.2" fill="none" stroke="#12A563" stroke-width="6" stroke-linejoin="round" stroke-linecap="butt"/><path d="M234.7,2232.7 L241,2210.7 L247.3,2187.6 L253.6,2116.1 L259.8,2029.2 L266.1,1984.1 L272.4,1942.4 L278.7,1953.4 L285,1966.5 L291.3,2003.9 L297.6,2049 L310.1,2065.5 L322.7,2098.5 L335.3,2119.4 L347.8,2120.5 L360.4,2145.8 L373,2167.8 L385.5,2193.1 L398.1,2215.1 L410.7,2237.1 L423.3,2259.1 L435.8,2274.5 L448.4,2286.6 L461,2301.9 L473.5,2316.2 L486.1,2328.3 L498.7,2331.6 L511.3,2340.4 L523.8,2344.8 L536.4,2348.1 L549,2348.1 L561.5,2348.1 L574.1,2349.2 L586.7,2344.8 L599.3,2338.2 L611.8,2333.8 L624.4,2331.6 L637,2320.6 L649.5,2317.3 L662.1,2312.9 L674.7,2306.3 L687.2,2298.6 L699.8,2289.9 L712.4,2276.7 L725,2275.6 L737.5,2269 L750.1,2261.3 L762.7,2252.5 L775.2,2238.2 L787.8,2236 L800.4,2229.4 L813,2225 L825.5,2217.3 L838.1,2206.3 L850.7,2195.3 L863.2,2190.9 L875.8,2186.5 L888.4,2182.1 L901,2175.5 L913.5,2167.8 L926.1,2159 L938.7,2157.9 L951.2,2165.6 L963.8,2161.2 L976.4,2156.8 L988.9,2154.6 L1001.5,2153.5 L1014.1,2150.2 L1026.7,2146.9 L1039.2,2143.6 L1051.8,2138.1" fill="none" stroke="#C47CEA" stroke-width="6" stroke-linejoin="round" stroke-linecap="butt"/></g><rect x="234.7" y="1801.6" width="817.1" height="659.8" fill="none" stroke="#000" stroke-width="6.9"/><path d="M221.5,1801.6 L234.7,1801.6" stroke="#000" stroke-width="6.4" fill="none"/><text transform="translate(212.2,1814.5) scale(0.9700,1)" font-size="44.7" font-weight="bold" text-anchor="end" fill="#000" >15</text><path d="M228.3,1856.6 L234.7,1856.6" stroke="#000" stroke-width="6.2" fill="none"/><path d="M221.5,1911.6 L234.7,1911.6" stroke="#000" stroke-width="6.4" fill="none"/><text transform="translate(212.2,1924.5) scale(0.9700,1)" font-size="44.7" font-weight="bold" text-anchor="end" fill="#000" >10</text><path d="M228.3,1966.5 L234.7,1966.5" stroke="#000" stroke-width="6.2" fill="none"/><path d="M221.5,2021.5 L234.7,2021.5" stroke="#000" stroke-width="6.4" fill="none"/><text transform="translate(212.2,2034.4) scale(0.9700,1)" font-size="44.7" font-weight="bold" text-anchor="end" fill="#000" >5</text><path d="M228.3,2076.5 L234.7,2076.5" stroke="#000" stroke-width="6.2" fill="none"/><path d="M221.5,2131.5 L234.7,2131.5" stroke="#000" stroke-width="6.4" fill="none"/><text transform="translate(212.2,2144.4) scale(0.9700,1)" font-size="44.7" font-weight="bold" text-anchor="end" fill="#000" >0</text><path d="M228.3,2186.5 L234.7,2186.5" stroke="#000" stroke-width="6.2" fill="none"/><path d="M221.5,2241.5 L234.7,2241.5" stroke="#000" stroke-width="6.4" fill="none"/><text transform="translate(212.2,2254.4) scale(0.9700,1)" font-size="44.7" font-weight="bold" text-anchor="end" fill="#000" >-5</text><path d="M228.3,2296.4 L234.7,2296.4" stroke="#000" stroke-width="6.2" fill="none"/><path d="M221.5,2351.4 L234.7,2351.4" stroke="#000" stroke-width="6.4" fill="none"/><text transform="translate(212.2,2364.3) scale(0.9700,1)" font-size="44.7" font-weight="bold" text-anchor="end" fill="#000" >-10</text><path d="M228.3,2406.4 L234.7,2406.4" stroke="#000" stroke-width="6.2" fill="none"/><path d="M221.5,2461.4 L234.7,2461.4" stroke="#000" stroke-width="6.4" fill="none"/><text transform="translate(212.2,2474.3) scale(0.9700,1)" font-size="44.7" font-weight="bold" text-anchor="end" fill="#000" >-15</text><path d="M234.7,2461.4 L234.7,2467.5" stroke="#000" stroke-width="6.2" fill="none"/><path d="M297.6,2461.4 L297.6,2474.1" stroke="#000" stroke-width="6.4" fill="none"/><text transform="translate(297.6,2517.8) scale(0.9700,1)" font-size="44.7" font-weight="bold" text-anchor="middle" fill="#000" >190</text><path d="M360.4,2461.4 L360.4,2467.5" stroke="#000" stroke-width="6.2" fill="none"/><path d="M423.3,2461.4 L423.3,2474.1" stroke="#000" stroke-width="6.4" fill="none"/><text transform="translate(423.3,2517.8) scale(0.9700,1)" font-size="44.7" font-weight="bold" text-anchor="middle" fill="#000" >200</text><path d="M486.1,2461.4 L486.1,2467.5" stroke="#000" stroke-width="6.2" fill="none"/><path d="M549,2461.4 L549,2474.1" stroke="#000" stroke-width="6.4" fill="none"/><text transform="translate(549,2517.8) scale(0.9700,1)" font-size="44.7" font-weight="bold" text-anchor="middle" fill="#000" >210</text><path d="M611.8,2461.4 L611.8,2467.5" stroke="#000" stroke-width="6.2" fill="none"/><path d="M674.7,2461.4 L674.7,2474.1" stroke="#000" stroke-width="6.4" fill="none"/><text transform="translate(674.7,2517.8) scale(0.9700,1)" font-size="44.7" font-weight="bold" text-anchor="middle" fill="#000" >220</text><path d="M737.5,2461.4 L737.5,2467.5" stroke="#000" stroke-width="6.2" fill="none"/><path d="M800.4,2461.4 L800.4,2474.1" stroke="#000" stroke-width="6.4" fill="none"/><text transform="translate(800.4,2517.8) scale(0.9700,1)" font-size="44.7" font-weight="bold" text-anchor="middle" fill="#000" >230</text><path d="M863.2,2461.4 L863.2,2467.5" stroke="#000" stroke-width="6.2" fill="none"/><path d="M926.1,2461.4 L926.1,2474.1" stroke="#000" stroke-width="6.4" fill="none"/><text transform="translate(926.1,2517.8) scale(0.9700,1)" font-size="44.7" font-weight="bold" text-anchor="middle" fill="#000" >240</text><path d="M988.9,2461.4 L988.9,2467.5" stroke="#000" stroke-width="6.2" fill="none"/><path d="M1051.8,2461.4 L1051.8,2474.1" stroke="#000" stroke-width="6.4" fill="none"/><text transform="translate(1051.8,2517.8) scale(0.9700,1)" font-size="44.7" font-weight="bold" text-anchor="middle" fill="#000" >250</text><path d="M637.5,1840.6 L747,1840.6" stroke="#4D4D4D" stroke-width="6" stroke-linecap="round" fill="none"/><text x="760.8" y="1858.3" font-size="50" font-weight="bold" text-anchor="start" fill="#000" >SA pH=6.5</text><path d="M637.5,1895.6 L747,1895.6" stroke="#FB3636" stroke-width="6" stroke-linecap="round" fill="none"/><text x="760.8" y="1913.3" font-size="50" font-weight="bold" text-anchor="start" fill="#000" >SA pH=5</text><path d="M637.5,1951.2 L747,1951.2" stroke="#1268E0" stroke-width="6" stroke-linecap="round" fill="none"/><text x="760.8" y="1968.9" font-size="50" font-weight="bold" text-anchor="start" fill="#000" >SA pH=4</text><path d="M637.5,2006.1 L747,2006.1" stroke="#12A563" stroke-width="6" stroke-linecap="round" fill="none"/><text x="760.8" y="2023.8" font-size="50" font-weight="bold" text-anchor="start" fill="#000" >SA pH=3</text><path d="M637.5,2061.1 L747,2061.1" stroke="#C47CEA" stroke-width="6" stroke-linecap="round" fill="none"/><text x="760.8" y="2078.8" font-size="50" font-weight="bold" text-anchor="start" fill="#000" >SA pH=2</text><text x="656" y="2577.7" font-size="56.5" font-weight="bold" text-anchor="middle" fill="#000" >Wavelength (nm)</text><text transform="translate(149.6,2129.4) rotate(-90)" font-size="55.7" font-weight="bold" text-anchor="middle" fill="#000">CD (mdeg)</text></g>
<g id="panel-f"><text x="1172.5" y="1869.3" font-size="127" font-weight="normal" text-anchor="start" fill="#000" >f</text><defs>
<linearGradient id="fr" x1="0" y1="0" x2="0" y2="1"><stop offset="0" stop-color="#FF1212"/><stop offset="0.12" stop-color="#FB3030"/><stop offset="0.85" stop-color="#FFB4B4"/><stop offset="1" stop-color="#FFB9B9"/></linearGradient>
<linearGradient id="fb" x1="0" y1="0" x2="0" y2="1"><stop offset="0" stop-color="#14659B"/><stop offset="0.12" stop-color="#2A73A5"/><stop offset="0.85" stop-color="#B5D5EC"/><stop offset="1" stop-color="#BBDAF0"/></linearGradient>
<linearGradient id="fy" x1="0" y1="0" x2="0" y2="1"><stop offset="0" stop-color="#FFC000"/><stop offset="0.12" stop-color="#FFC413"/><stop offset="0.85" stop-color="#FFEBB0"/><stop offset="1" stop-color="#FFEDB5"/></linearGradient>
</defs><rect x="1369.3" y="2398.6" width="43.7" height="63.2" fill="url(#fr)"/><rect x="1413" y="2235.1" width="43.7" height="226.7" fill="url(#fb)"/><rect x="1456.7" y="1933.7" width="43.7" height="528.1" fill="url(#fy)"/><path d="M1391.2,2387.5 L1391.2,2411.1 M1382.7,2387.5 L1399.7,2387.5 M1382.7,2411.1 L1399.7,2411.1" stroke="#000" stroke-width="5.9" stroke-linecap="round" fill="none"/><path d="M1434.9,2220.8 L1434.9,2251.4 M1426.4,2220.8 L1443.4,2220.8 M1426.4,2251.4 L1443.4,2251.4" stroke="#000" stroke-width="5.9" stroke-linecap="round" fill="none"/><path d="M1478.6,1901 L1478.6,1968 M1470.1,1901 L1487.1,1901 M1470.1,1968 L1487.1,1968" stroke="#000" stroke-width="5.9" stroke-linecap="round" fill="none"/><rect x="1532.8" y="2381.3" width="43.7" height="80.5" fill="url(#fr)"/><rect x="1576.5" y="2192.4" width="43.7" height="269.4" fill="url(#fb)"/><rect x="1620.2" y="1979.9" width="43.7" height="481.9" fill="url(#fy)"/><path d="M1554.7,2365.6 L1554.7,2399.5 M1546.2,2365.6 L1563.2,2365.6 M1546.2,2399.5 L1563.2,2399.5" stroke="#000" stroke-width="5.9" stroke-linecap="round" fill="none"/><path d="M1598.4,2174.6 L1598.4,2211.4 M1589.9,2174.6 L1606.9,2174.6 M1589.9,2211.4 L1606.9,2211.4" stroke="#000" stroke-width="5.9" stroke-linecap="round" fill="none"/><path d="M1642.1,1943.5 L1642.1,2018.9 M1633.6,1943.5 L1650.6,1943.5 M1633.6,2018.9 L1650.6,2018.9" stroke="#000" stroke-width="5.9" stroke-linecap="round" fill="none"/><rect x="1696.4" y="2296.2" width="43.7" height="165.6" fill="url(#fr)"/><rect x="1740.1" y="2226.6" width="43.7" height="235.2" fill="url(#fb)"/><rect x="1783.8" y="2018.6" width="43.7" height="443.2" fill="url(#fy)"/><path d="M1718.2,2273.1 L1718.2,2322.2 M1709.7,2273.1 L1726.7,2273.1 M1709.7,2322.2 L1726.7,2322.2" stroke="#000" stroke-width="5.9" stroke-linecap="round" fill="none"/><path d="M1761.9,2214.2 L1761.9,2241.1 M1753.4,2214.2 L1770.4,2214.2 M1753.4,2241.1 L1770.4,2241.1" stroke="#000" stroke-width="5.9" stroke-linecap="round" fill="none"/><path d="M1805.6,2015.6 L1805.6,2022.2 M1797.1,2015.6 L1814.1,2015.6 M1797.1,2022.2 L1814.1,2022.2" stroke="#000" stroke-width="5.9" stroke-linecap="round" fill="none"/><rect x="1859.9" y="2272.3" width="43.7" height="189.5" fill="url(#fr)"/><rect x="1903.6" y="2202.5" width="43.7" height="259.3" fill="url(#fb)"/><rect x="1947.3" y="2058.2" width="43.7" height="403.6" fill="url(#fy)"/><path d="M1881.7,2238.2 L1881.7,2309.9 M1873.2,2238.2 L1890.2,2238.2 M1873.2,2309.9 L1890.2,2309.9" stroke="#000" stroke-width="5.9" stroke-linecap="round" fill="none"/><path d="M1925.4,2186.4 L1925.4,2221.3 M1916.9,2186.4 L1933.9,2186.4 M1916.9,2221.3 L1933.9,2221.3" stroke="#000" stroke-width="5.9" stroke-linecap="round" fill="none"/><path d="M1969.1,2004.3 L1969.1,2113.7 M1960.6,2004.3 L1977.6,2004.3 M1960.6,2113.7 L1977.6,2113.7" stroke="#000" stroke-width="5.9" stroke-linecap="round" fill="none"/><rect x="2023.4" y="2272.3" width="43.7" height="189.5" fill="url(#fr)"/><rect x="2067.1" y="2219" width="43.7" height="242.8" fill="url(#fb)"/><rect x="2110.8" y="2034.2" width="43.7" height="427.6" fill="url(#fy)"/><path d="M2045.2,2270.3 L2045.2,2276.9 M2036.7,2270.3 L2053.7,2270.3 M2036.7,2276.9 L2053.7,2276.9" stroke="#000" stroke-width="5.9" stroke-linecap="round" fill="none"/><path d="M2088.9,2209.9 L2088.9,2229.3 M2080.4,2209.9 L2097.4,2209.9 M2080.4,2229.3 L2097.4,2229.3" stroke="#000" stroke-width="5.9" stroke-linecap="round" fill="none"/><path d="M2132.6,2020.3 L2132.6,2049.6 M2124.1,2020.3 L2141.1,2020.3 M2124.1,2049.6 L2141.1,2049.6" stroke="#000" stroke-width="5.9" stroke-linecap="round" fill="none"/><rect x="1353.9" y="1801.5" width="817.6" height="660.3" fill="none" stroke="#000" stroke-width="6.9"/><path d="M1341.8,2461.8 L1353.9,2461.8" stroke="#000" stroke-width="6.4" fill="none"/><text transform="translate(1331.2,2474.7) scale(0.9700,1)" font-size="44.7" font-weight="bold" text-anchor="end" fill="#000" >0</text><path d="M1347.3,2414.6 L1353.9,2414.6" stroke="#000" stroke-width="6.2" fill="none"/><path d="M1341.8,2367.5 L1353.9,2367.5" stroke="#000" stroke-width="6.4" fill="none"/><text transform="translate(1331.2,2380.4) scale(0.9700,1)" font-size="44.7" font-weight="bold" text-anchor="end" fill="#000" >10</text><path d="M1347.3,2320.3 L1353.9,2320.3" stroke="#000" stroke-width="6.2" fill="none"/><path d="M1341.8,2273.1 L1353.9,2273.1" stroke="#000" stroke-width="6.4" fill="none"/><text transform="translate(1331.2,2286) scale(0.9700,1)" font-size="44.7" font-weight="bold" text-anchor="end" fill="#000" >20</text><path d="M1347.3,2226 L1353.9,2226" stroke="#000" stroke-width="6.2" fill="none"/><path d="M1341.8,2178.8 L1353.9,2178.8" stroke="#000" stroke-width="6.4" fill="none"/><text transform="translate(1331.2,2191.7) scale(0.9700,1)" font-size="44.7" font-weight="bold" text-anchor="end" fill="#000" >30</text><path d="M1347.3,2131.7 L1353.9,2131.7" stroke="#000" stroke-width="6.2" fill="none"/><path d="M1341.8,2084.5 L1353.9,2084.5" stroke="#000" stroke-width="6.4" fill="none"/><text transform="translate(1331.2,2097.4) scale(0.9700,1)" font-size="44.7" font-weight="bold" text-anchor="end" fill="#000" >40</text><path d="M1347.3,2037.3 L1353.9,2037.3" stroke="#000" stroke-width="6.2" fill="none"/><path d="M1341.8,1990.2 L1353.9,1990.2" stroke="#000" stroke-width="6.4" fill="none"/><text transform="translate(1331.2,2003.1) scale(0.9700,1)" font-size="44.7" font-weight="bold" text-anchor="end" fill="#000" >50</text><path d="M1347.3,1943 L1353.9,1943" stroke="#000" stroke-width="6.2" fill="none"/><path d="M1341.8,1895.8 L1353.9,1895.8" stroke="#000" stroke-width="6.4" fill="none"/><text transform="translate(1331.2,1908.7) scale(0.9700,1)" font-size="44.7" font-weight="bold" text-anchor="end" fill="#000" >60</text><path d="M1347.3,1848.7 L1353.9,1848.7" stroke="#000" stroke-width="6.2" fill="none"/><path d="M1341.8,1801.5 L1353.9,1801.5" stroke="#000" stroke-width="6.4" fill="none"/><text transform="translate(1331.2,1814.4) scale(0.9700,1)" font-size="44.7" font-weight="bold" text-anchor="end" fill="#000" >70</text><path d="M1435.7,2461.8 L1435.7,2474.8" stroke="#000" stroke-width="6.4" fill="none"/><text transform="translate(1435.7,2515.6) scale(0.9700,1)" font-size="44.7" font-weight="bold" text-anchor="middle" fill="#000" >6.5</text><path d="M1599.2,2461.8 L1599.2,2474.8" stroke="#000" stroke-width="6.4" fill="none"/><text transform="translate(1599.2,2515.6) scale(0.9700,1)" font-size="44.7" font-weight="bold" text-anchor="middle" fill="#000" >5</text><path d="M1762.7,2461.8 L1762.7,2474.8" stroke="#000" stroke-width="6.4" fill="none"/><text transform="translate(1762.7,2515.6) scale(0.9700,1)" font-size="44.7" font-weight="bold" text-anchor="middle" fill="#000" >4</text><path d="M1926.2,2461.8 L1926.2,2474.8" stroke="#000" stroke-width="6.4" fill="none"/><text transform="translate(1926.2,2515.6) scale(0.9700,1)" font-size="44.7" font-weight="bold" text-anchor="middle" fill="#000" >3</text><path d="M2089.7,2461.8 L2089.7,2474.8" stroke="#000" stroke-width="6.4" fill="none"/><text transform="translate(2089.7,2515.6) scale(0.9700,1)" font-size="44.7" font-weight="bold" text-anchor="middle" fill="#000" >2</text><path d="M1353.9,2461.8 L1353.9,2468.5" stroke="#000" stroke-width="6.2" fill="none"/><path d="M1517.4,2461.8 L1517.4,2468.5" stroke="#000" stroke-width="6.2" fill="none"/><path d="M1680.9,2461.8 L1680.9,2468.5" stroke="#000" stroke-width="6.2" fill="none"/><path d="M1844.5,2461.8 L1844.5,2468.5" stroke="#000" stroke-width="6.2" fill="none"/><path d="M2008,2461.8 L2008,2468.5" stroke="#000" stroke-width="6.2" fill="none"/><path d="M2171.5,2461.8 L2171.5,2468.5" stroke="#000" stroke-width="6.2" fill="none"/><rect x="1713" y="1809.3" width="110.5" height="42" fill="url(#fr)"/><text x="1836.5" y="1846.8" font-size="50" font-weight="bold" text-anchor="start" fill="#000" >Helix</text><rect x="1713" y="1870" width="110.5" height="42" fill="url(#fb)"/><text x="1836.5" y="1907.4" font-size="50" font-weight="bold" text-anchor="start" fill="#000" >β-sheet</text><rect x="1713" y="1931.2" width="110.5" height="42" fill="url(#fy)"/><text x="1836.5" y="1968.6" font-size="50" font-weight="bold" text-anchor="start" fill="#000" >Random coil</text><text x="1755" y="2568.4" font-size="58" font-weight="bold" text-anchor="middle" fill="#000" >pH</text><text transform="translate(1250,2129.5) rotate(-90)" font-size="56" font-weight="bold" text-anchor="middle" fill="#000">Percentage (%)</text></g>
</svg>
</body></html>
